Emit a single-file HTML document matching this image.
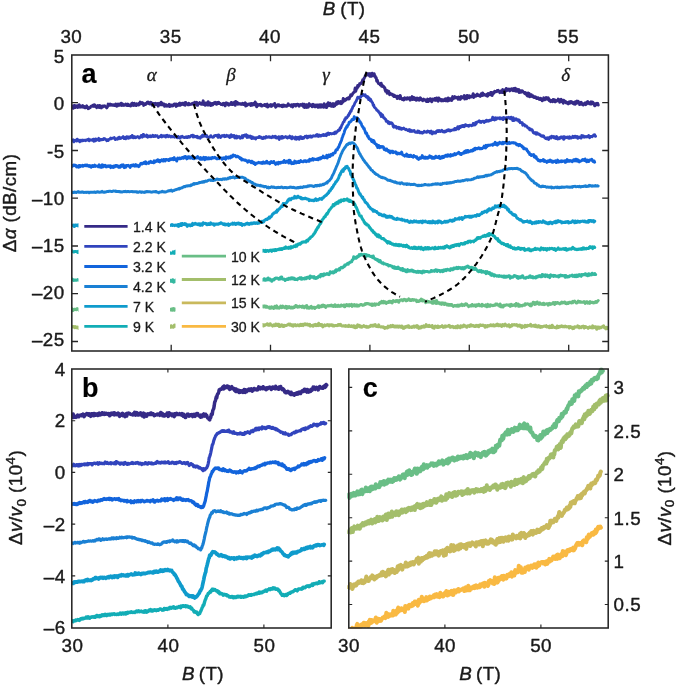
<!DOCTYPE html>
<html lang="en"><head><meta charset="utf-8"><title>Figure</title>
<style>html,body{margin:0;padding:0;background:#fff}svg{display:block}text{font-family:"Liberation Sans",Arial,Helvetica,sans-serif;fill:#1a1a1a;stroke:#1a1a1a;stroke-width:0.4px;stroke-linejoin:round}.t{font-size:18.8px;letter-spacing:0.45px}.l{font-size:14.1px;stroke-width:0.3px}.g{font-family:"Liberation Serif","DejaVu Serif",serif;font-style:italic;font-size:19px;stroke-width:0.3px}.p{font-weight:bold;font-size:27px;fill:#000;stroke-width:0.2px}.c{fill:none;stroke-linejoin:round;stroke-linecap:round}.f{fill:none;stroke:#262626;stroke-width:1.55}.d{fill:none;stroke:#000;stroke-width:2.1;stroke-dasharray:5.2 4.1}</style></head><body>
<svg width="677" height="685" viewBox="0 0 677 685">
<rect width="677" height="685" fill="#fff"/>
<defs><clipPath id="ca"><rect x="71.8" y="55.0" width="536.6" height="296.0"/></clipPath><clipPath id="cb"><rect x="71.8" y="369.0" width="259.4" height="259.0"/></clipPath><clipPath id="cc"><rect x="347.3" y="367.5" width="262.40000000000003" height="261.0"/></clipPath></defs>
<g clip-path="url(#ca)">
<path class="c" stroke="#a3be6b" stroke-width="3.0" d="M71.7,327.2 72.2,327.0 72.7,326.6 73.2,326.9 73.7,326.6 74.2,327.0 74.7,327.7 75.2,326.6 75.7,326.9 76.2,327.4 76.7,327.7 77.2,327.8 77.7,327.0 78.2,327.7 78.7,328.5 79.2,327.4 79.7,327.8 80.2,327.1 80.7,327.1 81.2,326.5 81.7,327.5 82.2,326.9 82.7,327.4 83.2,327.2 83.7,326.8 84.2,325.5 84.7,326.6 85.2,326.9 85.7,327.1 86.2,326.2 86.7,326.9 87.2,326.7 87.7,327.0 88.2,328.0 88.7,327.0 89.2,327.6 89.7,327.8 90.2,327.1 90.7,327.3 91.2,327.3 91.7,327.2 92.2,326.4 92.7,327.2 93.2,327.7 93.7,326.4 94.2,327.4 94.7,326.7 95.2,326.3 95.7,327.5 96.2,326.9 96.7,326.0 97.2,326.8 97.7,326.8 98.2,326.4 98.7,327.4 99.2,327.1 99.7,327.8 100.2,328.3 100.7,327.3 101.2,327.9 101.7,327.7 102.2,328.2 102.7,327.3 103.2,327.5 103.7,327.6 104.2,328.1 104.7,327.7 105.2,326.2 105.7,326.5 106.2,327.5 106.7,325.9 107.2,326.8 107.7,327.1 108.2,327.9 108.7,327.8 109.2,327.2 109.7,327.1 110.2,326.6 110.7,327.6 111.2,326.6 111.7,326.7 112.2,326.8 112.7,326.4 113.2,326.4 113.7,326.1 114.2,326.8 114.7,326.7 115.2,327.2 115.7,326.8 116.2,326.8 116.7,326.9 117.2,326.3 117.7,327.0 118.2,326.5 118.7,326.7 119.2,325.9 119.7,326.9 120.2,325.6 120.7,325.4 121.2,326.4 121.7,325.9 122.2,326.5 122.7,327.8 123.2,326.2 123.7,326.4 124.2,326.8 124.7,327.3 125.2,327.1 125.7,327.3 126.2,328.1 126.7,327.9 127.2,327.0 127.7,327.5 128.2,327.4 128.7,326.7 129.2,327.2 129.7,326.4 130.2,327.0 130.7,326.4 131.2,326.4 131.7,326.0 132.2,326.6 132.7,325.5 133.2,326.0 133.7,326.7 134.2,325.6 134.7,327.4 135.2,326.0 135.7,327.5 136.2,326.5 136.7,327.2 137.2,326.7 137.7,325.7 138.2,327.0 138.7,327.3 139.2,326.4 139.7,325.9 140.2,326.0 140.7,325.9 141.2,327.1 141.7,326.3 142.2,326.7 142.7,326.1 143.2,326.2 143.7,326.2 144.2,327.7 144.7,326.9 145.2,327.7 145.7,327.4 146.2,326.8 146.7,326.9 147.2,326.7 147.7,326.8 148.2,326.6 148.7,326.4 149.2,325.5 149.7,325.9 150.2,327.5 150.7,326.3 151.2,326.2 151.7,327.1 152.2,327.6 152.7,325.7 153.2,326.4 153.7,326.0 154.2,325.1 154.7,326.5 155.2,326.1 155.7,325.9 156.2,325.2 156.7,326.5 157.2,326.0 157.7,326.1 158.2,325.7 158.7,325.6 159.2,326.8 159.7,325.9 160.2,326.4 160.7,325.9 161.2,325.7 161.7,325.9 162.2,326.4 162.7,325.9 163.2,326.1 163.7,326.4 164.2,327.0 164.7,327.0 165.2,326.8 165.7,326.2 166.2,325.9 166.7,327.2 167.2,327.4 167.7,326.5 168.2,326.9 168.7,326.7 169.2,326.8 169.7,327.0 170.2,326.3 170.7,327.3 171.2,325.7 171.7,327.0 172.2,326.9 172.7,327.0 173.2,327.3 173.7,326.9 174.2,325.4 174.7,325.0 175.2,326.3 175.7,325.2 176.2,326.0 176.7,326.8 177.2,325.5 177.7,325.4 178.2,326.5 178.7,326.5 179.2,326.1 179.7,326.2 180.2,325.7 180.7,325.0 181.2,325.8 181.7,325.2 182.2,324.8 182.7,326.1 183.2,325.9 183.7,326.2 184.2,325.0 184.7,325.6 185.2,325.3 185.7,325.5 186.2,326.1 186.7,325.1 187.2,325.6 187.7,325.6 188.2,326.9 188.7,324.9 189.2,326.3 189.7,325.5 190.2,325.7 190.7,325.4 191.2,326.1 191.7,326.7 192.2,325.8 192.7,326.0 193.2,326.1 193.7,327.1 194.2,326.5 194.7,325.1 195.2,325.8 195.7,325.3 196.2,324.6 196.7,326.0 197.2,326.7 197.7,326.0 198.2,325.2 198.7,325.3 199.2,326.5 199.7,325.6 200.2,325.7 200.7,325.6 201.2,325.4 201.7,325.5 202.2,325.3 202.7,324.8 203.2,324.0 203.7,324.8 204.2,324.2 204.7,325.3 205.2,324.4 205.7,325.0 206.2,325.1 206.7,324.7 207.2,326.5 207.7,326.5 208.2,325.7 208.7,326.2 209.2,325.6 209.7,324.0 210.2,325.7 210.7,325.4 211.2,325.4 211.7,324.6 212.2,324.9 212.7,325.1 213.2,325.9 213.7,325.7 214.2,325.5 214.7,326.1 215.2,325.1 215.7,325.3 216.2,324.4 216.7,325.9 217.2,325.6 217.7,325.6 218.2,325.6 218.7,325.2 219.2,325.7 219.7,325.2 220.2,325.4 220.7,326.0 221.2,326.9 221.7,326.3 222.2,325.6 222.7,325.7 223.2,325.2 223.7,326.3 224.2,325.9 224.7,325.6 225.2,325.5 225.7,324.9 226.2,325.8 226.7,326.5 227.2,326.1 227.7,326.5 228.2,325.9 228.7,326.0 229.2,324.5 229.7,325.2 230.2,324.6 230.7,325.2 231.2,324.1 231.7,324.8 232.2,325.7 232.7,324.9 233.2,325.0 233.7,325.8 234.2,325.6 234.7,325.1 235.2,326.1 235.7,326.8 236.2,325.2 236.7,324.9 237.2,324.5 237.7,325.3 238.2,324.4 238.7,324.5 239.2,325.6 239.7,324.4 240.2,325.4 240.7,326.0 241.2,325.6 241.7,325.6 242.2,326.3 242.7,325.2 243.2,325.0 243.7,324.9 244.2,325.8 244.7,326.5 245.2,325.9 245.7,324.8 246.2,324.8 246.7,324.7 247.2,325.1 247.7,324.6 248.2,324.7 248.7,324.6 249.2,324.2 249.7,324.5 250.2,324.5 250.7,324.4 251.2,324.7 251.7,325.7 252.2,325.2 252.7,325.2 253.2,324.2 253.7,325.4 254.2,324.1 254.7,324.7 255.2,326.0 255.7,325.4 256.2,325.1 256.7,324.3 257.2,325.0 257.7,324.6 258.2,325.5 258.7,326.2 259.2,325.0 259.7,324.7 260.2,324.2 260.7,324.7 261.2,324.9 261.7,324.3 262.2,325.4 262.7,324.6 263.2,326.0 263.7,325.8 264.2,325.6 264.7,324.9 265.2,325.2 265.7,324.9 266.2,324.4 266.7,324.4 267.2,323.8 267.7,323.9 268.2,325.2 268.7,324.6 269.2,325.1 269.7,325.3 270.2,323.7 270.7,324.4 271.2,325.0 271.7,325.3 272.2,325.3 272.7,326.1 273.2,325.5 273.7,324.8 274.2,325.0 274.7,325.8 275.2,325.5 275.7,324.0 276.2,325.4 276.7,324.9 277.2,325.3 277.7,324.3 278.2,324.3 278.7,324.2 279.2,326.4 279.7,325.2 280.2,326.4 280.7,325.2 281.2,325.7 281.7,324.8 282.2,326.0 282.7,326.4 283.2,325.3 283.7,326.5 284.2,326.1 284.7,325.2 285.2,325.7 285.7,325.6 286.2,325.5 286.7,325.3 287.2,324.9 287.7,324.8 288.2,324.4 288.7,324.1 289.2,324.7 289.7,325.1 290.2,324.0 290.7,325.1 291.2,324.9 291.7,324.8 292.2,325.8 292.7,325.1 293.2,326.2 293.7,324.9 294.2,325.4 294.7,325.3 295.2,324.7 295.7,325.6 296.2,325.2 296.7,325.6 297.2,325.3 297.7,324.8 298.2,325.3 298.7,325.2 299.2,325.9 299.7,324.7 300.2,325.1 300.7,324.2 301.2,325.5 301.7,324.6 302.2,324.3 302.7,324.9 303.2,325.6 303.7,324.2 304.2,324.1 304.7,324.4 305.2,323.8 305.7,324.7 306.2,324.1 306.7,324.2 307.2,324.7 307.7,324.1 308.2,325.2 308.7,324.6 309.2,324.7 309.7,324.3 310.2,326.1 310.7,325.2 311.2,325.8 311.7,325.5 312.2,325.6 312.7,325.3 313.2,326.2 313.7,325.0 314.2,324.7 314.7,324.7 315.2,324.3 315.7,325.6 316.2,325.7 316.7,324.8 317.2,324.5 317.7,324.9 318.2,325.6 318.7,323.3 319.2,325.3 319.7,324.3 320.2,325.4 320.7,324.5 321.2,325.1 321.7,324.5 322.2,325.3 322.7,326.9 323.2,326.4 323.7,325.9 324.2,325.7 324.7,324.9 325.2,325.6 325.7,325.8 326.2,325.3 326.7,325.2 327.2,324.6 327.7,325.1 328.2,324.8 328.7,325.7 329.2,326.0 329.7,324.9 330.2,324.7 330.7,325.2 331.2,324.8 331.7,324.8 332.2,325.6 332.7,325.0 333.2,325.9 333.7,325.6 334.2,326.0 334.7,325.6 335.2,325.5 335.7,325.6 336.2,325.5 336.7,325.4 337.2,325.7 337.7,325.3 338.2,324.5 338.7,325.3 339.2,324.5 339.7,324.7 340.2,325.2 340.7,324.4 341.2,325.6 341.7,325.8 342.2,326.0 342.7,326.0 343.2,325.9 343.7,325.7 344.2,326.0 344.7,325.8 345.2,326.4 345.7,325.6 346.2,326.1 346.7,326.2 347.2,326.1 347.7,326.0 348.2,326.5 348.7,325.2 349.2,326.2 349.7,326.4 350.2,326.5 350.7,326.3 351.2,325.7 351.7,325.9 352.2,326.7 352.7,326.7 353.2,326.9 353.7,325.7 354.2,327.1 354.7,327.6 355.2,327.7 355.7,327.1 356.2,326.0 356.7,327.4 357.2,326.5 357.7,324.9 358.2,326.4 358.7,325.3 359.2,325.3 359.7,325.8 360.2,326.9 360.7,326.0 361.2,326.3 361.7,327.2 362.2,327.1 362.7,326.2 363.2,326.2 363.7,325.6 364.2,325.8 364.7,326.4 365.2,326.7 365.7,326.5 366.2,327.2 366.7,326.3 367.2,326.7 367.7,327.3 368.2,327.2 368.7,327.2 369.2,326.5 369.7,326.2 370.2,326.4 370.7,325.4 371.2,325.2 371.7,326.0 372.2,325.9 372.7,326.1 373.2,325.1 373.7,325.9 374.2,325.6 374.7,325.4 375.2,324.5 375.7,325.8 376.2,326.5 376.7,326.5 377.2,325.9 377.7,326.1 378.2,326.6 378.7,324.9 379.2,326.2 379.7,326.7 380.2,326.7 380.7,327.1 381.2,326.9 381.7,326.7 382.2,326.9 382.7,327.2 383.2,326.8 383.7,327.1 384.2,327.8 384.7,328.5 385.2,327.4 385.7,327.4 386.2,327.5 386.7,327.9 387.2,327.1 387.7,327.8 388.2,326.1 388.7,326.7 389.2,326.5 389.7,327.1 390.2,326.9 390.7,325.6 391.2,326.1 391.7,326.6 392.2,326.2 392.7,325.3 393.2,326.8 393.7,326.4 394.2,326.8 394.7,326.0 395.2,326.8 395.7,326.2 396.2,327.0 396.7,326.1 397.2,326.0 397.7,326.9 398.2,326.2 398.7,327.1 399.2,326.8 399.7,326.0 400.2,326.6 400.7,326.7 401.2,327.4 401.7,326.0 402.2,326.4 402.7,327.6 403.2,328.3 403.7,328.4 404.2,327.1 404.7,326.9 405.2,327.6 405.7,326.7 406.2,326.2 406.7,326.6 407.2,326.9 407.7,326.1 408.2,325.7 408.7,325.9 409.2,327.5 409.7,327.0 410.2,327.0 410.7,327.3 411.2,327.4 411.7,326.8 412.2,327.3 412.7,326.5 413.2,326.6 413.7,326.0 414.2,327.3 414.7,326.6 415.2,326.0 415.7,326.3 416.2,326.6 416.7,327.1 417.2,325.6 417.7,326.1 418.2,326.7 418.7,328.4 419.2,327.6 419.7,327.0 420.2,327.1 420.7,327.9 421.2,326.7 421.7,326.3 422.2,327.2 422.7,326.6 423.2,326.6 423.7,325.8 424.2,327.1 424.7,326.7 425.2,326.2 425.7,326.6 426.2,324.6 426.7,326.3 427.2,325.7 427.7,326.1 428.2,326.5 428.7,326.1 429.2,325.2 429.7,326.5 430.2,326.1 430.7,326.3 431.2,326.3 431.7,326.8 432.2,325.5 432.7,327.6 433.2,327.2 433.7,327.6 434.2,328.1 434.7,326.9 435.2,326.1 435.7,326.5 436.2,326.4 436.7,326.9 437.2,327.4 437.7,326.0 438.2,327.5 438.7,326.4 439.2,327.2 439.7,327.1 440.2,326.9 440.7,326.7 441.2,326.4 441.7,326.5 442.2,325.7 442.7,326.8 443.2,327.4 443.7,327.3 444.2,326.9 444.7,326.6 445.2,325.9 445.7,326.9 446.2,326.2 446.7,326.1 447.2,326.2 447.7,326.2 448.2,325.8 448.7,326.1 449.2,325.4 449.7,325.9 450.2,327.4 450.7,326.3 451.2,326.5 451.7,327.0 452.2,327.1 452.7,326.2 453.2,326.9 453.7,327.6 454.2,327.1 454.7,327.0 455.2,327.7 455.7,326.6 456.2,327.2 456.7,326.8 457.2,327.8 457.7,325.8 458.2,326.6 458.7,326.5 459.2,327.2 459.7,327.1 460.2,327.6 460.7,325.8 461.2,327.0 461.7,326.7 462.2,326.3 462.7,326.9 463.2,325.7 463.7,325.0 464.2,326.1 464.7,325.5 465.2,326.1 465.7,326.3 466.2,326.3 466.7,327.3 467.2,326.6 467.7,325.8 468.2,326.0 468.7,325.9 469.2,325.5 469.7,326.5 470.2,325.8 470.7,324.7 471.2,326.0 471.7,325.7 472.2,325.8 472.7,325.4 473.2,326.0 473.7,325.7 474.2,326.6 474.7,326.6 475.2,326.4 475.7,326.4 476.2,325.4 476.7,326.3 477.2,326.0 477.7,326.2 478.2,325.4 478.7,326.8 479.2,326.0 479.7,325.1 480.2,324.9 480.7,325.6 481.2,325.6 481.7,325.3 482.2,325.5 482.7,325.0 483.2,325.6 483.7,325.2 484.2,325.7 484.7,326.4 485.2,327.3 485.7,325.6 486.2,326.0 486.7,325.8 487.2,326.8 487.7,325.5 488.2,325.9 488.7,326.1 489.2,325.8 489.7,325.4 490.2,325.7 490.7,324.7 491.2,325.2 491.7,325.7 492.2,325.8 492.7,325.7 493.2,324.7 493.7,325.4 494.2,326.0 494.7,325.8 495.2,325.2 495.7,324.8 496.2,325.6 496.7,324.7 497.2,324.1 497.7,324.4 498.2,325.7 498.7,325.4 499.2,325.7 499.7,324.8 500.2,325.5 500.7,324.8 501.2,325.0 501.7,326.5 502.2,325.4 502.7,324.6 503.2,325.1 503.7,325.3 504.2,325.9 504.7,324.9 505.2,324.1 505.7,325.0 506.2,325.3 506.7,325.3 507.2,326.1 507.7,325.7 508.2,325.8 508.7,324.7 509.2,326.2 509.7,327.0 510.2,326.1 510.7,325.7 511.2,325.4 511.7,326.1 512.2,324.6 512.7,325.1 513.2,325.1 513.7,324.9 514.2,324.5 514.7,325.0 515.2,324.7 515.7,325.1 516.2,325.3 516.7,324.7 517.2,325.5 517.7,326.1 518.2,325.2 518.7,325.8 519.2,326.2 519.7,325.1 520.2,325.8 520.7,325.3 521.2,326.7 521.7,327.7 522.2,327.2 522.7,325.9 523.2,326.4 523.7,326.2 524.2,326.1 524.7,327.2 525.2,325.4 525.7,326.3 526.2,325.7 526.7,326.5 527.2,325.9 527.7,325.3 528.2,325.7 528.7,325.7 529.2,325.3 529.7,325.7 530.2,325.4 530.7,324.4 531.2,326.2 531.7,326.1 532.2,325.7 532.7,325.7 533.2,326.1 533.7,325.4 534.2,325.3 534.7,325.6 535.2,326.5 535.7,325.1 536.2,326.8 536.7,325.9 537.2,325.9 537.7,327.0 538.2,326.0 538.7,325.6 539.2,326.3 539.7,327.2 540.2,327.4 540.7,326.3 541.2,326.7 541.7,327.1 542.2,326.6 542.7,326.8 543.2,326.5 543.7,326.4 544.2,326.1 544.7,326.3 545.2,326.4 545.7,326.0 546.2,325.7 546.7,326.9 547.2,326.3 547.7,326.5 548.2,327.1 548.7,326.9 549.2,327.7 549.7,326.1 550.2,327.2 550.7,326.4 551.2,327.6 551.7,327.6 552.2,325.2 552.7,326.0 553.2,327.1 553.7,327.3 554.2,327.4 554.7,327.2 555.2,327.6 555.7,327.8 556.2,327.7 556.7,328.0 557.2,326.0 557.7,327.3 558.2,326.3 558.7,327.4 559.2,326.8 559.7,326.3 560.2,326.8 560.7,326.2 561.2,326.1 561.7,325.8 562.2,326.7 562.7,326.7 563.2,326.8 563.7,326.3 564.2,326.9 564.7,326.2 565.2,326.1 565.7,326.8 566.2,326.9 566.7,326.6 567.2,326.7 567.7,326.7 568.2,326.8 568.7,326.5 569.2,328.0 569.7,326.9 570.2,327.5 570.7,326.7 571.2,327.4 571.7,327.7 572.2,327.3 572.7,328.6 573.2,327.3 573.7,328.5 574.2,328.0 574.7,326.7 575.2,326.8 575.7,327.0 576.2,327.1 576.7,327.0 577.2,327.0 577.7,325.9 578.2,327.1 578.7,326.3 579.2,327.9 579.7,327.4 580.2,327.1 580.7,327.4 581.2,327.7 581.7,326.6 582.2,326.4 582.7,326.6 583.2,326.1 583.7,326.7 584.2,328.1 584.7,326.6 585.2,327.5 585.7,326.6 586.2,327.4 586.7,327.3 587.2,327.4 587.7,327.6 588.2,328.3 588.7,327.3 589.2,327.4 589.7,326.8 590.2,327.5 590.7,327.2 591.2,327.7 591.7,326.9 592.2,327.9 592.7,325.9 593.2,326.9 593.7,327.8 594.2,327.1 594.7,326.7 595.2,326.9 595.7,326.7 596.2,327.6 596.7,329.3 597.2,328.3 597.7,326.9 598.2,327.0 598.7,327.3 599.2,328.3 599.7,327.3 600.2,327.2 600.7,327.8 601.2,327.8 601.7,326.9 602.2,326.8 602.7,326.4 603.2,326.8 603.7,325.9 604.2,327.7 604.7,327.1 605.2,328.0 605.7,328.8 606.2,328.4 606.7,327.4 607.2,328.7 607.7,328.5 608.2,327.6"/>
<path class="c" stroke="#69be86" stroke-width="3.0" d="M71.7,310.0 72.2,308.9 72.7,310.6 73.2,310.1 73.7,310.0 74.2,309.3 74.7,309.3 75.2,309.2 75.7,309.6 76.2,309.7 76.7,309.4 77.2,308.7 77.7,309.2 78.2,309.1 78.7,309.7 79.2,310.5 79.7,309.8 80.2,309.7 80.7,309.1 81.2,309.1 81.7,309.1 82.2,310.3 82.7,309.9 83.2,310.6 83.7,310.3 84.2,310.6 84.7,311.1 85.2,309.9 85.7,309.6 86.2,309.5 86.7,310.2 87.2,309.0 87.7,309.0 88.2,308.9 88.7,309.0 89.2,310.0 89.7,311.6 90.2,309.8 90.7,310.9 91.2,310.3 91.7,309.5 92.2,309.9 92.7,310.0 93.2,310.0 93.7,311.1 94.2,308.9 94.7,310.0 95.2,310.4 95.7,310.0 96.2,310.5 96.7,310.8 97.2,309.9 97.7,310.1 98.2,310.1 98.7,308.5 99.2,310.4 99.7,311.1 100.2,310.2 100.7,310.2 101.2,309.1 101.7,309.8 102.2,309.8 102.7,310.1 103.2,310.8 103.7,309.6 104.2,309.6 104.7,308.7 105.2,309.5 105.7,309.8 106.2,309.2 106.7,309.0 107.2,310.3 107.7,308.9 108.2,309.1 108.7,309.2 109.2,310.5 109.7,310.8 110.2,309.8 110.7,309.4 111.2,309.9 111.7,310.2 112.2,309.2 112.7,310.7 113.2,310.7 113.7,310.0 114.2,310.3 114.7,310.5 115.2,310.6 115.7,309.4 116.2,310.6 116.7,309.8 117.2,309.6 117.7,310.2 118.2,310.1 118.7,309.5 119.2,309.3 119.7,309.5 120.2,310.7 120.7,310.8 121.2,310.1 121.7,310.2 122.2,309.1 122.7,309.3 123.2,309.6 123.7,308.7 124.2,309.2 124.7,309.9 125.2,309.6 125.7,309.5 126.2,310.5 126.7,310.0 127.2,310.9 127.7,310.5 128.2,310.0 128.7,310.4 129.2,310.1 129.7,309.6 130.2,309.8 130.7,310.9 131.2,310.4 131.7,310.9 132.2,309.3 132.7,309.9 133.2,309.9 133.7,310.3 134.2,309.9 134.7,309.6 135.2,310.6 135.7,310.4 136.2,309.6 136.7,311.0 137.2,310.9 137.7,309.9 138.2,310.7 138.7,309.7 139.2,310.6 139.7,309.5 140.2,309.4 140.7,309.9 141.2,309.8 141.7,310.4 142.2,310.3 142.7,310.5 143.2,310.2 143.7,308.6 144.2,310.4 144.7,309.0 145.2,310.1 145.7,310.6 146.2,310.0 146.7,309.6 147.2,309.6 147.7,309.8 148.2,309.6 148.7,309.7 149.2,309.5 149.7,310.7 150.2,310.1 150.7,310.5 151.2,309.9 151.7,310.0 152.2,309.6 152.7,309.8 153.2,309.9 153.7,309.7 154.2,308.9 154.7,308.6 155.2,309.7 155.7,308.8 156.2,308.8 156.7,309.8 157.2,309.7 157.7,308.9 158.2,308.7 158.7,310.4 159.2,309.6 159.7,309.5 160.2,309.3 160.7,308.6 161.2,308.6 161.7,309.9 162.2,310.2 162.7,309.8 163.2,309.3 163.7,309.0 164.2,309.5 164.7,309.1 165.2,310.3 165.7,310.2 166.2,310.8 166.7,309.6 167.2,309.1 167.7,308.6 168.2,307.4 168.7,308.8 169.2,309.1 169.7,309.7 170.2,309.6 170.7,309.9 171.2,309.2 171.7,309.6 172.2,310.1 172.7,308.8 173.2,309.3 173.7,308.5 174.2,310.3 174.7,309.9 175.2,309.9 175.7,309.0 176.2,309.6 176.7,309.0 177.2,309.5 177.7,309.9 178.2,309.7 178.7,309.1 179.2,309.9 179.7,309.5 180.2,309.0 180.7,309.2 181.2,308.7 181.7,309.2 182.2,308.8 182.7,309.2 183.2,308.5 183.7,308.0 184.2,309.4 184.7,308.2 185.2,309.2 185.7,309.2 186.2,308.2 186.7,308.6 187.2,309.0 187.7,308.8 188.2,308.9 188.7,310.1 189.2,309.8 189.7,310.2 190.2,309.6 190.7,310.0 191.2,309.4 191.7,309.8 192.2,310.0 192.7,309.4 193.2,308.5 193.7,308.0 194.2,308.8 194.7,309.1 195.2,308.4 195.7,308.2 196.2,308.9 196.7,310.2 197.2,309.0 197.7,309.2 198.2,309.0 198.7,306.9 199.2,308.4 199.7,307.5 200.2,308.8 200.7,307.8 201.2,307.6 201.7,308.1 202.2,308.3 202.7,308.2 203.2,308.6 203.7,308.2 204.2,308.8 204.7,309.2 205.2,309.7 205.7,308.9 206.2,308.7 206.7,309.3 207.2,309.5 207.7,309.7 208.2,309.3 208.7,308.4 209.2,308.6 209.7,308.5 210.2,308.2 210.7,308.1 211.2,307.4 211.7,306.6 212.2,307.3 212.7,306.8 213.2,308.0 213.7,307.8 214.2,307.2 214.7,308.7 215.2,308.7 215.7,308.5 216.2,309.4 216.7,309.4 217.2,307.6 217.7,309.1 218.2,308.7 218.7,308.4 219.2,308.8 219.7,308.0 220.2,307.9 220.7,307.7 221.2,307.5 221.7,308.0 222.2,307.5 222.7,307.7 223.2,308.3 223.7,307.6 224.2,308.1 224.7,307.0 225.2,307.7 225.7,307.7 226.2,308.0 226.7,307.6 227.2,308.4 227.7,307.7 228.2,307.6 228.7,307.6 229.2,308.1 229.7,307.3 230.2,308.0 230.7,307.7 231.2,307.7 231.7,307.9 232.2,308.1 232.7,308.2 233.2,308.2 233.7,307.8 234.2,308.0 234.7,307.4 235.2,308.2 235.7,307.5 236.2,306.7 236.7,308.7 237.2,307.9 237.7,307.1 238.2,307.8 238.7,307.6 239.2,309.1 239.7,308.3 240.2,307.1 240.7,308.2 241.2,307.7 241.7,309.2 242.2,307.7 242.7,306.9 243.2,308.2 243.7,307.9 244.2,307.6 244.7,306.6 245.2,307.9 245.7,308.7 246.2,306.3 246.7,307.9 247.2,307.2 247.7,308.7 248.2,307.6 248.7,307.3 249.2,308.3 249.7,307.8 250.2,307.6 250.7,308.4 251.2,307.3 251.7,307.1 252.2,309.3 252.7,307.9 253.2,307.5 253.7,308.1 254.2,307.0 254.7,307.2 255.2,307.8 255.7,307.1 256.2,307.4 256.7,308.0 257.2,307.2 257.7,307.4 258.2,307.3 258.7,306.2 259.2,306.9 259.7,306.2 260.2,307.2 260.7,306.9 261.2,306.6 261.7,305.9 262.2,306.7 262.7,306.4 263.2,306.9 263.7,306.6 264.2,305.9 264.7,306.8 265.2,307.0 265.7,306.2 266.2,307.3 266.7,306.3 267.2,306.9 267.7,307.3 268.2,307.3 268.7,307.3 269.2,307.1 269.7,308.3 270.2,308.3 270.7,307.4 271.2,308.1 271.7,306.9 272.2,307.1 272.7,307.5 273.2,307.5 273.7,308.4 274.2,307.3 274.7,306.4 275.2,307.9 275.7,307.3 276.2,307.3 276.7,305.9 277.2,308.1 277.7,307.7 278.2,307.8 278.7,307.9 279.2,308.2 279.7,307.0 280.2,307.2 280.7,306.1 281.2,306.3 281.7,307.7 282.2,307.1 282.7,306.1 283.2,307.2 283.7,306.8 284.2,307.0 284.7,307.7 285.2,307.0 285.7,306.3 286.2,306.9 286.7,308.4 287.2,306.6 287.7,307.7 288.2,307.8 288.7,307.7 289.2,306.6 289.7,307.0 290.2,307.1 290.7,308.0 291.2,307.2 291.7,307.1 292.2,308.0 292.7,308.1 293.2,307.8 293.7,307.1 294.2,307.5 294.7,306.6 295.2,306.8 295.7,305.5 296.2,306.7 296.7,306.7 297.2,306.1 297.7,307.1 298.2,306.8 298.7,306.9 299.2,307.0 299.7,306.2 300.2,306.6 300.7,306.6 301.2,306.6 301.7,307.1 302.2,306.1 302.7,306.0 303.2,307.2 303.7,307.0 304.2,307.8 304.7,307.3 305.2,306.3 305.7,306.9 306.2,306.1 306.7,305.5 307.2,308.1 307.7,307.0 308.2,307.3 308.7,307.3 309.2,308.2 309.7,307.7 310.2,307.8 310.7,306.6 311.2,306.4 311.7,308.1 312.2,308.2 312.7,307.7 313.2,307.5 313.7,307.4 314.2,307.2 314.7,308.5 315.2,307.9 315.7,307.5 316.2,307.3 316.7,307.2 317.2,306.9 317.7,306.8 318.2,305.7 318.7,306.5 319.2,307.5 319.7,305.9 320.2,305.9 320.7,306.8 321.2,306.7 321.7,306.7 322.2,305.2 322.7,306.2 323.2,305.1 323.7,305.6 324.2,306.3 324.7,305.7 325.2,306.3 325.7,307.4 326.2,306.2 326.7,306.4 327.2,305.8 327.7,305.6 328.2,305.7 328.7,306.0 329.2,305.5 329.7,305.6 330.2,305.9 330.7,305.5 331.2,305.0 331.7,305.4 332.2,306.2 332.7,305.7 333.2,306.1 333.7,306.4 334.2,305.4 334.7,306.1 335.2,304.9 335.7,306.5 336.2,306.2 336.7,305.8 337.2,305.8 337.7,306.4 338.2,305.2 338.7,305.7 339.2,306.4 339.7,306.0 340.2,305.5 340.7,306.2 341.2,305.0 341.7,305.8 342.2,305.6 342.7,305.5 343.2,305.9 343.7,305.1 344.2,306.6 344.7,305.3 345.2,306.6 345.7,305.0 346.2,305.6 346.7,304.6 347.2,304.9 347.7,305.7 348.2,305.8 348.7,304.7 349.2,306.0 349.7,304.7 350.2,305.3 350.7,305.2 351.2,305.5 351.7,304.3 352.2,306.4 352.7,305.9 353.2,305.3 353.7,305.2 354.2,304.5 354.7,305.0 355.2,306.0 355.7,305.7 356.2,305.0 356.7,304.8 357.2,306.2 357.7,305.2 358.2,305.3 358.7,306.0 359.2,305.6 359.7,305.2 360.2,304.6 360.7,304.5 361.2,304.4 361.7,304.6 362.2,305.0 362.7,305.4 363.2,305.3 363.7,304.7 364.2,305.0 364.7,304.2 365.2,303.6 365.7,304.3 366.2,303.7 366.7,303.5 367.2,303.7 367.7,303.5 368.2,303.7 368.7,304.0 369.2,304.1 369.7,304.0 370.2,304.6 370.7,304.3 371.2,304.1 371.7,304.6 372.2,305.5 372.7,304.1 373.2,305.1 373.7,304.8 374.2,304.9 374.7,303.8 375.2,305.3 375.7,304.3 376.2,304.0 376.7,304.0 377.2,304.3 377.7,304.2 378.2,304.1 378.7,304.5 379.2,303.2 379.7,302.6 380.2,303.2 380.7,302.9 381.2,302.9 381.7,301.4 382.2,302.6 382.7,302.3 383.2,302.8 383.7,301.4 384.2,302.6 384.7,302.3 385.2,301.9 385.7,302.6 386.2,303.4 386.7,302.5 387.2,302.1 387.7,302.6 388.2,302.4 388.7,302.5 389.2,301.2 389.7,301.4 390.2,302.1 390.7,301.3 391.2,301.5 391.7,302.6 392.2,302.9 392.7,301.2 393.2,300.5 393.7,301.0 394.2,300.9 394.7,301.4 395.2,301.6 395.7,300.8 396.2,300.5 396.7,301.3 397.2,300.5 397.7,301.2 398.2,300.8 398.7,302.3 399.2,301.1 399.7,300.3 400.2,300.3 400.7,300.1 401.2,299.7 401.7,299.8 402.2,299.8 402.7,300.8 403.2,300.3 403.7,300.1 404.2,299.2 404.7,299.5 405.2,299.7 405.7,300.2 406.2,300.9 406.7,299.8 407.2,300.5 407.7,299.9 408.2,299.9 408.7,298.9 409.2,299.4 409.7,300.2 410.2,300.5 410.7,299.8 411.2,300.5 411.7,299.8 412.2,299.7 412.7,299.5 413.2,300.3 413.7,299.8 414.2,299.8 414.7,299.7 415.2,300.2 415.7,300.1 416.2,300.0 416.7,301.6 417.2,300.9 417.7,300.8 418.2,301.4 418.7,301.4 419.2,300.8 419.7,301.1 420.2,300.2 420.7,300.0 421.2,299.1 421.7,300.8 422.2,299.6 422.7,301.0 423.2,300.1 423.7,300.2 424.2,300.7 424.7,300.9 425.2,301.3 425.7,302.6 426.2,301.5 426.7,301.8 427.2,301.1 427.7,301.9 428.2,301.5 428.7,301.7 429.2,302.0 429.7,301.8 430.2,302.0 430.7,302.3 431.2,301.8 431.7,302.1 432.2,303.1 432.7,301.6 433.2,301.9 433.7,303.2 434.2,301.1 434.7,302.1 435.2,302.7 435.7,301.1 436.2,303.5 436.7,300.6 437.2,303.2 437.7,303.3 438.2,303.1 438.7,302.7 439.2,303.3 439.7,302.8 440.2,303.9 440.7,303.2 441.2,303.8 441.7,304.3 442.2,302.9 442.7,303.5 443.2,303.8 443.7,303.2 444.2,304.5 444.7,304.0 445.2,303.2 445.7,304.3 446.2,304.0 446.7,304.0 447.2,304.9 447.7,304.3 448.2,305.1 448.7,304.4 449.2,305.3 449.7,304.6 450.2,305.1 450.7,304.5 451.2,304.4 451.7,304.5 452.2,305.6 452.7,305.8 453.2,306.4 453.7,306.1 454.2,305.7 454.7,305.5 455.2,305.8 455.7,305.5 456.2,306.2 456.7,306.0 457.2,305.2 457.7,305.1 458.2,306.3 458.7,305.5 459.2,305.1 459.7,305.8 460.2,305.0 460.7,305.0 461.2,304.9 461.7,304.2 462.2,305.6 462.7,304.7 463.2,304.9 463.7,304.7 464.2,305.5 464.7,305.0 465.2,304.9 465.7,303.7 466.2,304.7 466.7,304.0 467.2,305.2 467.7,305.4 468.2,305.4 468.7,306.6 469.2,306.0 469.7,306.1 470.2,305.8 470.7,305.4 471.2,306.1 471.7,306.0 472.2,304.5 472.7,305.7 473.2,305.5 473.7,305.9 474.2,305.8 474.7,305.0 475.2,304.9 475.7,306.4 476.2,305.6 476.7,304.7 477.2,305.6 477.7,305.1 478.2,304.6 478.7,304.2 479.2,304.6 479.7,305.8 480.2,305.4 480.7,305.2 481.2,305.8 481.7,306.2 482.2,304.4 482.7,305.6 483.2,305.4 483.7,305.2 484.2,305.8 484.7,305.9 485.2,305.6 485.7,304.9 486.2,305.4 486.7,306.8 487.2,304.7 487.7,304.4 488.2,305.9 488.7,306.3 489.2,306.2 489.7,305.0 490.2,306.2 490.7,304.9 491.2,305.1 491.7,305.2 492.2,305.2 492.7,305.7 493.2,305.4 493.7,305.2 494.2,305.5 494.7,305.0 495.2,305.2 495.7,304.0 496.2,303.9 496.7,304.8 497.2,304.0 497.7,304.9 498.2,305.2 498.7,305.2 499.2,305.3 499.7,306.2 500.2,304.0 500.7,306.1 501.2,306.8 501.7,305.7 502.2,305.7 502.7,306.0 503.2,306.9 503.7,305.2 504.2,305.6 504.7,305.3 505.2,305.5 505.7,305.0 506.2,305.1 506.7,304.7 507.2,305.0 507.7,304.9 508.2,305.0 508.7,305.4 509.2,305.6 509.7,304.8 510.2,306.4 510.7,305.3 511.2,304.4 511.7,305.8 512.2,305.1 512.7,305.5 513.2,305.1 513.7,305.3 514.2,305.2 514.7,304.6 515.2,305.0 515.7,305.9 516.2,303.5 516.7,304.9 517.2,304.8 517.7,304.4 518.2,304.1 518.7,306.3 519.2,304.8 519.7,306.2 520.2,305.5 520.7,305.3 521.2,305.9 521.7,305.5 522.2,305.9 522.7,305.3 523.2,305.0 523.7,304.9 524.2,305.3 524.7,305.2 525.2,303.7 525.7,304.1 526.2,304.4 526.7,304.0 527.2,304.1 527.7,303.8 528.2,304.1 528.7,304.3 529.2,305.0 529.7,304.4 530.2,305.6 530.7,304.0 531.2,305.9 531.7,304.8 532.2,304.4 532.7,303.9 533.2,302.2 533.7,303.4 534.2,303.4 534.7,304.4 535.2,302.6 535.7,304.2 536.2,303.1 536.7,303.5 537.2,302.0 537.7,303.5 538.2,303.2 538.7,304.2 539.2,303.5 539.7,302.8 540.2,304.1 540.7,303.9 541.2,303.8 541.7,304.2 542.2,304.5 542.7,303.8 543.2,303.2 543.7,303.3 544.2,304.6 544.7,304.4 545.2,304.3 545.7,304.0 546.2,303.9 546.7,303.7 547.2,303.9 547.7,303.7 548.2,305.2 548.7,304.3 549.2,303.5 549.7,303.3 550.2,303.7 550.7,304.4 551.2,304.2 551.7,303.8 552.2,303.7 552.7,303.1 553.2,302.5 553.7,303.8 554.2,303.3 554.7,304.5 555.2,302.5 555.7,302.5 556.2,303.4 556.7,302.8 557.2,302.5 557.7,302.7 558.2,303.3 558.7,303.1 559.2,303.2 559.7,303.9 560.2,303.8 560.7,303.2 561.2,302.6 561.7,302.1 562.2,302.4 562.7,303.0 563.2,302.5 563.7,302.6 564.2,302.1 564.7,301.9 565.2,302.3 565.7,303.6 566.2,303.6 566.7,303.7 567.2,302.7 567.7,303.4 568.2,303.5 568.7,303.2 569.2,302.2 569.7,302.3 570.2,302.6 570.7,302.3 571.2,303.0 571.7,302.6 572.2,301.7 572.7,302.8 573.2,301.4 573.7,301.6 574.2,301.5 574.7,301.0 575.2,301.9 575.7,302.2 576.2,303.0 576.7,302.8 577.2,302.8 577.7,302.1 578.2,301.1 578.7,301.9 579.2,301.5 579.7,302.2 580.2,301.6 580.7,302.2 581.2,302.0 581.7,302.2 582.2,302.1 582.7,302.2 583.2,302.1 583.7,302.3 584.2,301.6 584.7,302.2 585.2,303.4 585.7,302.2 586.2,301.9 586.7,301.7 587.2,301.7 587.7,303.1 588.2,302.3 588.7,302.4 589.2,303.3 589.7,303.4 590.2,301.6 590.7,302.6 591.2,302.3 591.7,302.4 592.2,302.4 592.7,302.2 593.2,303.0 593.7,302.5 594.2,302.3 594.7,302.7 595.2,302.2 595.7,301.5 596.2,301.6 596.7,302.3 597.2,301.6 597.7,301.0 598.2,300.5"/>
<path class="c" stroke="#35b8a0" stroke-width="3.0" d="M71.7,280.0 72.2,279.0 72.7,279.8 73.2,279.7 73.7,280.5 74.2,280.1 74.7,279.9 75.2,280.3 75.7,280.0 76.2,280.3 76.7,280.2 77.2,279.8 77.7,279.6 78.2,280.0 78.7,279.9 79.2,280.3 79.7,280.2 80.2,280.0 80.7,279.4 81.2,279.1 81.7,279.9 82.2,280.2 82.7,280.6 83.2,279.9 83.7,280.0 84.2,280.6 84.7,280.0 85.2,280.2 85.7,281.3 86.2,280.9 86.7,280.7 87.2,280.6 87.7,280.0 88.2,280.7 88.7,280.1 89.2,280.0 89.7,279.5 90.2,279.9 90.7,279.9 91.2,280.1 91.7,280.8 92.2,280.2 92.7,279.4 93.2,280.1 93.7,279.6 94.2,280.1 94.7,280.6 95.2,280.3 95.7,279.9 96.2,280.5 96.7,279.8 97.2,279.3 97.7,279.6 98.2,280.1 98.7,281.5 99.2,280.1 99.7,281.3 100.2,281.5 100.7,280.5 101.2,280.6 101.7,279.8 102.2,280.1 102.7,280.4 103.2,280.3 103.7,281.0 104.2,280.9 104.7,280.5 105.2,280.7 105.7,280.7 106.2,280.8 106.7,279.8 107.2,280.5 107.7,280.5 108.2,280.0 108.7,281.7 109.2,279.9 109.7,279.7 110.2,280.3 110.7,279.0 111.2,279.9 111.7,279.1 112.2,279.1 112.7,279.6 113.2,279.9 113.7,280.7 114.2,280.3 114.7,280.8 115.2,280.1 115.7,279.7 116.2,280.7 116.7,279.8 117.2,279.8 117.7,280.8 118.2,280.7 118.7,280.4 119.2,280.6 119.7,280.6 120.2,279.4 120.7,280.1 121.2,279.4 121.7,280.0 122.2,279.6 122.7,280.7 123.2,280.4 123.7,279.7 124.2,280.2 124.7,279.5 125.2,280.3 125.7,280.8 126.2,280.7 126.7,279.3 127.2,280.4 127.7,280.7 128.2,280.5 128.7,281.1 129.2,279.5 129.7,280.6 130.2,279.7 130.7,280.2 131.2,280.0 131.7,280.5 132.2,279.9 132.7,280.3 133.2,279.7 133.7,279.8 134.2,281.0 134.7,280.5 135.2,279.9 135.7,280.5 136.2,281.2 136.7,282.3 137.2,281.9 137.7,281.7 138.2,280.4 138.7,281.5 139.2,281.7 139.7,281.1 140.2,280.9 140.7,280.6 141.2,281.5 141.7,281.2 142.2,280.2 142.7,279.8 143.2,281.7 143.7,280.4 144.2,281.5 144.7,281.7 145.2,280.2 145.7,281.0 146.2,280.9 146.7,281.4 147.2,281.2 147.7,282.0 148.2,281.2 148.7,280.8 149.2,281.6 149.7,280.8 150.2,280.9 150.7,282.2 151.2,280.3 151.7,280.9 152.2,281.1 152.7,280.4 153.2,279.9 153.7,281.8 154.2,280.4 154.7,280.4 155.2,280.6 155.7,280.3 156.2,280.2 156.7,281.1 157.2,282.4 157.7,281.3 158.2,281.3 158.7,280.5 159.2,281.6 159.7,280.9 160.2,282.1 160.7,281.3 161.2,281.2 161.7,281.3 162.2,281.0 162.7,280.3 163.2,281.3 163.7,280.2 164.2,280.2 164.7,280.8 165.2,280.9 165.7,281.3 166.2,281.8 166.7,281.1 167.2,281.0 167.7,281.0 168.2,281.8 168.7,280.3 169.2,281.4 169.7,280.5 170.2,280.3 170.7,281.3 171.2,281.0 171.7,281.4 172.2,281.5 172.7,279.7 173.2,280.8 173.7,282.1 174.2,281.3 174.7,281.7 175.2,281.2 175.7,280.1 176.2,280.4 176.7,281.5 177.2,281.7 177.7,281.0 178.2,281.3 178.7,281.4 179.2,280.4 179.7,281.0 180.2,282.1 180.7,282.2 181.2,281.0 181.7,281.6 182.2,280.5 182.7,280.2 183.2,279.1 183.7,281.1 184.2,280.0 184.7,281.7 185.2,280.4 185.7,280.4 186.2,279.2 186.7,281.2 187.2,280.4 187.7,280.6 188.2,279.6 188.7,281.1 189.2,281.3 189.7,280.6 190.2,281.1 190.7,281.2 191.2,281.1 191.7,280.8 192.2,281.9 192.7,280.9 193.2,280.7 193.7,280.6 194.2,279.2 194.7,280.2 195.2,281.4 195.7,280.6 196.2,279.7 196.7,280.2 197.2,278.9 197.7,279.9 198.2,280.4 198.7,280.3 199.2,279.5 199.7,280.4 200.2,281.0 200.7,279.5 201.2,280.1 201.7,278.8 202.2,278.6 202.7,280.3 203.2,280.0 203.7,280.1 204.2,279.6 204.7,280.0 205.2,280.5 205.7,281.2 206.2,280.0 206.7,279.2 207.2,280.8 207.7,280.6 208.2,280.9 208.7,280.8 209.2,282.1 209.7,280.8 210.2,281.3 210.7,280.1 211.2,280.6 211.7,280.4 212.2,281.0 212.7,281.0 213.2,280.3 213.7,281.5 214.2,279.9 214.7,280.2 215.2,280.4 215.7,279.2 216.2,279.9 216.7,279.7 217.2,279.3 217.7,280.6 218.2,279.7 218.7,280.0 219.2,279.5 219.7,279.3 220.2,279.7 220.7,279.9 221.2,279.8 221.7,280.2 222.2,278.3 222.7,278.7 223.2,278.4 223.7,280.1 224.2,279.2 224.7,279.3 225.2,278.9 225.7,280.0 226.2,279.3 226.7,279.8 227.2,278.5 227.7,280.3 228.2,279.7 228.7,280.1 229.2,280.4 229.7,280.0 230.2,280.0 230.7,280.1 231.2,280.0 231.7,279.6 232.2,279.9 232.7,279.5 233.2,280.2 233.7,280.2 234.2,279.7 234.7,280.8 235.2,278.8 235.7,279.4 236.2,280.2 236.7,278.8 237.2,278.1 237.7,279.8 238.2,279.4 238.7,278.3 239.2,279.3 239.7,278.1 240.2,278.0 240.7,278.7 241.2,278.2 241.7,277.6 242.2,277.9 242.7,277.7 243.2,278.3 243.7,278.4 244.2,279.3 244.7,278.6 245.2,278.3 245.7,278.8 246.2,279.4 246.7,280.4 247.2,280.1 247.7,279.4 248.2,280.1 248.7,279.0 249.2,280.1 249.7,279.3 250.2,279.8 250.7,279.6 251.2,278.9 251.7,279.3 252.2,278.4 252.7,278.9 253.2,279.8 253.7,281.3 254.2,279.2 254.7,279.1 255.2,278.7 255.7,279.8 256.2,278.6 256.7,279.1 257.2,279.7 257.7,279.1 258.2,280.7 258.7,280.6 259.2,279.8 259.7,279.8 260.2,279.4 260.7,279.4 261.2,280.2 261.7,280.3 262.2,280.2 262.7,280.0 263.2,279.3 263.7,279.9 264.2,278.7 264.7,279.3 265.2,280.3 265.7,280.2 266.2,279.0 266.7,279.0 267.2,279.9 267.7,279.8 268.2,278.0 268.7,278.8 269.2,279.4 269.7,280.0 270.2,279.1 270.7,280.1 271.2,279.8 271.7,281.3 272.2,280.3 272.7,279.9 273.2,279.5 273.7,280.0 274.2,279.6 274.7,278.5 275.2,278.8 275.7,278.1 276.2,278.3 276.7,278.0 277.2,278.0 277.7,278.5 278.2,278.4 278.7,279.2 279.2,279.3 279.7,278.4 280.2,277.6 280.7,278.9 281.2,277.0 281.7,277.0 282.2,278.8 282.7,278.7 283.2,279.3 283.7,279.2 284.2,279.1 284.7,279.6 285.2,280.5 285.7,279.6 286.2,279.5 286.7,279.1 287.2,278.9 287.7,279.5 288.2,279.5 288.7,278.2 289.2,278.2 289.7,278.5 290.2,279.0 290.7,278.1 291.2,278.8 291.7,277.7 292.2,277.7 292.7,278.6 293.2,278.9 293.7,278.1 294.2,278.4 294.7,279.5 295.2,279.0 295.7,279.0 296.2,279.6 296.7,279.5 297.2,279.7 297.7,279.1 298.2,278.4 298.7,278.4 299.2,278.5 299.7,277.7 300.2,277.9 300.7,278.9 301.2,277.7 301.7,279.3 302.2,278.9 302.7,278.4 303.2,278.6 303.7,278.5 304.2,279.0 304.7,278.0 305.2,278.1 305.7,277.9 306.2,278.8 306.7,278.2 307.2,277.2 307.7,277.2 308.2,277.1 308.7,277.5 309.2,277.5 309.7,278.5 310.2,276.0 310.7,277.6 311.2,277.0 311.7,276.8 312.2,276.9 312.7,276.8 313.2,277.4 313.7,277.9 314.2,276.6 314.7,278.3 315.2,277.7 315.7,278.5 316.2,277.8 316.7,278.1 317.2,277.4 317.7,277.7 318.2,276.7 318.7,276.1 319.2,276.6 319.7,276.4 320.2,276.8 320.7,274.5 321.2,275.2 321.7,275.6 322.2,274.4 322.7,274.6 323.2,275.8 323.7,275.1 324.2,273.8 324.7,274.8 325.2,274.6 325.7,274.3 326.2,274.0 326.7,274.3 327.2,273.6 327.7,273.8 328.2,274.3 328.7,273.8 329.2,274.6 329.7,273.1 330.2,271.7 330.7,272.6 331.2,272.7 331.7,272.7 332.2,272.4 332.7,271.8 333.2,273.0 333.7,271.8 334.2,272.6 334.7,271.2 335.2,270.5 335.7,271.8 336.2,269.7 336.7,270.4 337.2,270.5 337.7,269.8 338.2,269.9 338.7,269.3 339.2,268.7 339.7,269.9 340.2,268.2 340.7,268.0 341.2,267.3 341.7,267.5 342.2,267.9 342.7,267.8 343.2,267.0 343.7,266.4 344.2,266.7 344.7,265.1 345.2,265.6 345.7,265.0 346.2,264.5 346.7,264.4 347.2,263.9 347.7,263.4 348.2,264.3 348.7,263.2 349.2,263.1 349.7,262.2 350.2,262.4 350.7,262.2 351.2,261.8 351.7,261.8 352.2,259.9 352.7,259.9 353.2,259.3 353.7,256.8 354.2,257.7 354.7,258.1 355.2,258.2 355.7,257.4 356.2,258.1 356.7,257.8 357.2,256.5 357.7,256.9 358.2,256.8 358.7,255.6 359.2,254.6 359.7,255.6 360.2,254.6 360.7,254.4 361.2,254.3 361.7,254.3 362.2,255.1 362.7,255.1 363.2,255.3 363.7,255.1 364.2,254.4 364.7,254.8 365.2,255.3 365.7,254.5 366.2,256.4 366.7,254.9 367.2,254.9 367.7,255.8 368.2,255.7 368.7,255.3 369.2,255.6 369.7,256.2 370.2,256.4 370.7,256.6 371.2,256.3 371.7,257.0 372.2,257.2 372.7,257.6 373.2,256.0 373.7,257.5 374.2,258.0 374.7,258.6 375.2,258.9 375.7,259.4 376.2,259.6 376.7,259.3 377.2,259.4 377.7,260.7 378.2,259.8 378.7,260.5 379.2,261.6 379.7,261.4 380.2,260.5 380.7,262.3 381.2,262.3 381.7,262.9 382.2,263.2 382.7,263.1 383.2,262.9 383.7,263.9 384.2,263.6 384.7,263.7 385.2,263.9 385.7,263.9 386.2,264.3 386.7,264.5 387.2,264.9 387.7,264.6 388.2,264.8 388.7,266.0 389.2,265.2 389.7,265.5 390.2,265.5 390.7,265.9 391.2,266.0 391.7,266.4 392.2,266.2 392.7,267.4 393.2,266.8 393.7,268.0 394.2,266.7 394.7,267.0 395.2,268.4 395.7,267.9 396.2,267.5 396.7,268.4 397.2,267.7 397.7,268.3 398.2,267.1 398.7,268.3 399.2,268.5 399.7,269.0 400.2,269.4 400.7,268.7 401.2,270.0 401.7,269.0 402.2,268.4 402.7,268.5 403.2,270.6 403.7,269.9 404.2,269.8 404.7,269.8 405.2,269.9 405.7,271.5 406.2,270.7 406.7,271.8 407.2,270.8 407.7,269.6 408.2,271.3 408.7,270.6 409.2,270.5 409.7,271.1 410.2,270.4 410.7,270.9 411.2,270.4 411.7,270.0 412.2,270.9 412.7,270.3 413.2,271.6 413.7,271.7 414.2,271.1 414.7,271.7 415.2,271.7 415.7,271.5 416.2,272.3 416.7,271.8 417.2,272.2 417.7,271.2 418.2,271.9 418.7,272.3 419.2,271.5 419.7,271.7 420.2,271.6 420.7,272.3 421.2,271.7 421.7,272.6 422.2,272.9 422.7,272.1 423.2,271.0 423.7,271.9 424.2,272.1 424.7,271.3 425.2,271.8 425.7,271.5 426.2,271.6 426.7,271.4 427.2,271.4 427.7,271.5 428.2,271.8 428.7,272.1 429.2,272.1 429.7,271.9 430.2,271.7 430.7,271.7 431.2,270.5 431.7,271.1 432.2,270.8 432.7,271.1 433.2,271.2 433.7,270.8 434.2,270.5 434.7,271.3 435.2,270.8 435.7,269.7 436.2,270.6 436.7,270.1 437.2,271.5 437.7,270.2 438.2,270.4 438.7,270.5 439.2,270.5 439.7,270.7 440.2,271.6 440.7,270.7 441.2,270.8 441.7,271.1 442.2,270.3 442.7,271.6 443.2,271.1 443.7,271.2 444.2,269.9 444.7,270.4 445.2,270.1 445.7,269.6 446.2,270.7 446.7,269.9 447.2,269.3 447.7,269.3 448.2,269.9 448.7,270.1 449.2,270.0 449.7,270.1 450.2,270.4 450.7,268.8 451.2,269.0 451.7,268.7 452.2,269.2 452.7,269.7 453.2,269.1 453.7,268.0 454.2,268.0 454.7,268.8 455.2,267.9 455.7,268.0 456.2,268.1 456.7,267.4 457.2,268.7 457.7,268.4 458.2,268.5 458.7,267.3 459.2,267.5 459.7,267.5 460.2,268.1 460.7,267.7 461.2,267.7 461.7,268.8 462.2,268.6 462.7,267.6 463.2,267.7 463.7,269.0 464.2,267.6 464.7,268.3 465.2,268.2 465.7,267.0 466.2,266.8 466.7,266.9 467.2,266.3 467.7,266.0 468.2,266.3 468.7,267.5 469.2,267.1 469.7,267.2 470.2,267.6 470.7,267.5 471.2,269.0 471.7,267.4 472.2,268.6 472.7,269.1 473.2,267.9 473.7,269.2 474.2,269.4 474.7,268.3 475.2,269.3 475.7,268.5 476.2,269.7 476.7,269.9 477.2,270.2 477.7,271.2 478.2,271.0 478.7,271.7 479.2,271.4 479.7,270.5 480.2,271.5 480.7,271.5 481.2,270.6 481.7,272.2 482.2,271.7 482.7,271.9 483.2,271.3 483.7,271.9 484.2,272.2 484.7,272.1 485.2,272.6 485.7,271.5 486.2,273.6 486.7,272.4 487.2,271.7 487.7,272.6 488.2,272.6 488.7,273.4 489.2,272.6 489.7,273.6 490.2,272.9 490.7,275.0 491.2,274.6 491.7,275.3 492.2,273.8 492.7,275.1 493.2,274.5 493.7,275.5 494.2,276.1 494.7,274.9 495.2,275.4 495.7,275.6 496.2,275.7 496.7,276.1 497.2,275.8 497.7,275.8 498.2,276.2 498.7,276.4 499.2,275.5 499.7,276.0 500.2,276.2 500.7,276.1 501.2,276.0 501.7,276.4 502.2,276.7 502.7,276.6 503.2,276.0 503.7,277.3 504.2,277.2 504.7,276.1 505.2,276.3 505.7,277.3 506.2,276.2 506.7,277.0 507.2,276.8 507.7,276.2 508.2,276.5 508.7,275.8 509.2,276.6 509.7,275.9 510.2,278.2 510.7,277.8 511.2,277.5 511.7,276.8 512.2,277.3 512.7,277.3 513.2,276.9 513.7,276.4 514.2,275.6 514.7,276.2 515.2,275.7 515.7,276.0 516.2,276.1 516.7,277.1 517.2,277.7 517.7,276.5 518.2,278.4 518.7,278.2 519.2,277.2 519.7,276.8 520.2,276.9 520.7,277.7 521.2,276.6 521.7,276.2 522.2,276.8 522.7,275.8 523.2,277.3 523.7,277.9 524.2,277.9 524.7,277.9 525.2,277.9 525.7,278.3 526.2,277.8 526.7,277.2 527.2,277.3 527.7,277.2 528.2,277.5 528.7,277.6 529.2,276.7 529.7,276.0 530.2,275.8 530.7,276.4 531.2,277.5 531.7,277.2 532.2,277.1 532.7,276.6 533.2,277.9 533.7,277.5 534.2,277.6 534.7,277.3 535.2,278.0 535.7,276.7 536.2,277.8 536.7,277.3 537.2,276.4 537.7,276.9 538.2,276.2 538.7,275.8 539.2,276.0 539.7,275.7 540.2,276.6 540.7,276.2 541.2,276.7 541.7,276.8 542.2,274.5 542.7,276.2 543.2,275.0 543.7,276.0 544.2,275.1 544.7,276.0 545.2,276.6 545.7,274.9 546.2,276.0 546.7,276.0 547.2,275.0 547.7,276.6 548.2,276.0 548.7,275.7 549.2,275.6 549.7,277.6 550.2,275.9 550.7,274.8 551.2,275.4 551.7,275.6 552.2,276.1 552.7,276.1 553.2,275.4 553.7,276.4 554.2,275.7 554.7,275.5 555.2,275.7 555.7,275.9 556.2,276.4 556.7,276.3 557.2,276.0 557.7,276.0 558.2,276.0 558.7,277.0 559.2,275.5 559.7,276.1 560.2,276.0 560.7,275.1 561.2,275.6 561.7,275.7 562.2,275.4 562.7,275.6 563.2,275.7 563.7,275.9 564.2,275.5 564.7,275.9 565.2,277.3 565.7,275.5 566.2,276.4 566.7,277.0 567.2,276.4 567.7,277.0 568.2,276.4 568.7,276.4 569.2,276.7 569.7,275.7 570.2,275.7 570.7,275.8 571.2,275.8 571.7,275.8 572.2,275.0 572.7,276.1 573.2,276.4 573.7,276.3 574.2,276.4 574.7,275.3 575.2,276.6 575.7,275.2 576.2,275.9 576.7,276.6 577.2,275.1 577.7,276.4 578.2,276.1 578.7,275.3 579.2,274.6 579.7,275.6 580.2,275.0 580.7,276.0 581.2,276.3 581.7,274.5 582.2,274.6 582.7,275.0 583.2,274.6 583.7,274.4 584.2,274.8 584.7,274.7 585.2,273.7 585.7,274.5 586.2,275.2 586.7,274.3 587.2,274.4 587.7,275.8 588.2,275.5 588.7,273.7 589.2,274.0 589.7,275.2 590.2,274.2 590.7,274.3 591.2,274.3 591.7,274.9 592.2,273.3 592.7,273.6 593.2,273.8 593.7,274.5 594.2,274.1 594.7,273.5 595.2,274.6 595.7,274.6"/>
<path class="c" stroke="#12adb6" stroke-width="3.0" d="M71.7,251.2 72.2,250.9 72.7,251.8 73.2,251.7 73.7,252.0 74.2,251.8 74.7,251.5 75.2,251.5 75.7,251.5 76.2,251.5 76.7,251.8 77.2,251.8 77.7,252.5 78.2,251.2 78.7,251.9 79.2,251.8 79.7,252.7 80.2,252.2 80.7,251.9 81.2,252.5 81.7,252.2 82.2,252.3 82.7,252.9 83.2,252.5 83.7,253.0 84.2,252.6 84.7,252.7 85.2,252.6 85.7,252.1 86.2,252.7 86.7,252.7 87.2,252.9 87.7,252.5 88.2,252.2 88.7,251.7 89.2,252.5 89.7,252.9 90.2,252.4 90.7,252.7 91.2,253.0 91.7,252.0 92.2,252.4 92.7,252.0 93.2,253.0 93.7,252.5 94.2,251.9 94.7,251.4 95.2,252.2 95.7,252.5 96.2,251.8 96.7,251.6 97.2,252.2 97.7,251.2 98.2,251.8 98.7,252.1 99.2,251.5 99.7,251.6 100.2,252.2 100.7,252.1 101.2,252.0 101.7,252.0 102.2,252.1 102.7,251.3 103.2,251.7 103.7,252.3 104.2,252.4 104.7,252.7 105.2,251.7 105.7,252.8 106.2,252.8 106.7,252.6 107.2,252.6 107.7,252.6 108.2,253.3 108.7,251.7 109.2,252.5 109.7,252.2 110.2,252.0 110.7,252.5 111.2,252.4 111.7,251.6 112.2,252.0 112.7,252.3 113.2,251.5 113.7,252.7 114.2,252.4 114.7,252.8 115.2,252.7 115.7,253.3 116.2,252.3 116.7,252.1 117.2,253.3 117.7,252.3 118.2,252.0 118.7,251.5 119.2,252.7 119.7,252.5 120.2,252.7 120.7,252.6 121.2,252.2 121.7,251.9 122.2,252.1 122.7,252.6 123.2,252.5 123.7,253.2 124.2,251.8 124.7,252.0 125.2,251.7 125.7,252.8 126.2,251.6 126.7,252.4 127.2,252.7 127.7,251.8 128.2,252.4 128.7,251.0 129.2,251.8 129.7,251.3 130.2,251.9 130.7,252.1 131.2,251.6 131.7,252.6 132.2,252.2 132.7,251.9 133.2,252.0 133.7,251.7 134.2,252.5 134.7,253.6 135.2,252.2 135.7,252.9 136.2,252.6 136.7,253.2 137.2,252.9 137.7,252.4 138.2,251.6 138.7,252.3 139.2,253.1 139.7,252.0 140.2,252.2 140.7,251.7 141.2,251.1 141.7,252.0 142.2,251.9 142.7,251.2 143.2,251.6 143.7,252.3 144.2,251.8 144.7,252.2 145.2,251.8 145.7,251.1 146.2,252.2 146.7,252.0 147.2,251.8 147.7,252.2 148.2,252.1 148.7,252.5 149.2,252.7 149.7,252.0 150.2,251.3 150.7,252.0 151.2,252.6 151.7,252.4 152.2,252.0 152.7,252.3 153.2,252.7 153.7,252.8 154.2,253.0 154.7,252.1 155.2,252.3 155.7,252.3 156.2,252.5 156.7,251.4 157.2,252.3 157.7,251.7 158.2,252.9 158.7,253.0 159.2,253.3 159.7,252.5 160.2,251.7 160.7,252.6 161.2,252.1 161.7,252.9 162.2,252.0 162.7,252.2 163.2,252.7 163.7,253.3 164.2,252.7 164.7,253.8 165.2,253.9 165.7,251.6 166.2,252.4 166.7,251.7 167.2,252.3 167.7,252.3 168.2,252.3 168.7,253.0 169.2,253.3 169.7,253.1 170.2,252.8 170.7,253.3 171.2,253.3 171.7,253.3 172.2,253.0 172.7,253.1 173.2,251.9 173.7,252.7 174.2,253.3 174.7,252.3 175.2,251.3 175.7,253.0 176.2,252.1 176.7,250.8 177.2,252.3 177.7,252.8 178.2,252.6 178.7,253.1 179.2,252.7 179.7,252.5 180.2,251.4 180.7,251.9 181.2,252.3 181.7,252.6 182.2,251.7 182.7,252.0 183.2,252.6 183.7,251.3 184.2,251.6 184.7,252.6 185.2,253.1 185.7,252.7 186.2,251.7 186.7,252.6 187.2,251.8 187.7,252.7 188.2,252.0 188.7,251.8 189.2,252.1 189.7,251.5 190.2,252.2 190.7,252.5 191.2,251.9 191.7,252.6 192.2,251.8 192.7,252.7 193.2,252.1 193.7,251.5 194.2,251.8 194.7,251.7 195.2,251.9 195.7,252.0 196.2,252.3 196.7,251.7 197.2,252.2 197.7,251.3 198.2,252.2 198.7,252.4 199.2,252.3 199.7,252.2 200.2,252.1 200.7,251.8 201.2,252.0 201.7,251.4 202.2,251.7 202.7,252.7 203.2,251.8 203.7,253.2 204.2,251.2 204.7,252.1 205.2,251.4 205.7,252.4 206.2,251.7 206.7,252.5 207.2,252.5 207.7,252.2 208.2,252.7 208.7,253.2 209.2,252.0 209.7,252.5 210.2,252.1 210.7,251.9 211.2,252.5 211.7,250.3 212.2,250.9 212.7,250.6 213.2,251.3 213.7,251.2 214.2,253.4 214.7,251.8 215.2,252.6 215.7,252.5 216.2,251.8 216.7,252.2 217.2,252.7 217.7,252.1 218.2,252.1 218.7,252.3 219.2,251.3 219.7,251.8 220.2,252.3 220.7,252.2 221.2,251.7 221.7,252.1 222.2,252.1 222.7,252.1 223.2,252.5 223.7,252.0 224.2,251.9 224.7,251.4 225.2,251.5 225.7,252.0 226.2,251.4 226.7,252.1 227.2,252.0 227.7,252.4 228.2,253.1 228.7,252.1 229.2,251.8 229.7,251.8 230.2,252.0 230.7,253.3 231.2,250.5 231.7,251.1 232.2,250.9 232.7,251.8 233.2,250.9 233.7,250.1 234.2,251.9 234.7,250.7 235.2,251.4 235.7,250.8 236.2,250.9 236.7,251.3 237.2,252.5 237.7,252.4 238.2,251.6 238.7,252.1 239.2,251.7 239.7,252.2 240.2,252.1 240.7,251.9 241.2,251.1 241.7,251.0 242.2,251.4 242.7,251.4 243.2,250.7 243.7,251.8 244.2,251.1 244.7,252.1 245.2,251.8 245.7,252.5 246.2,250.5 246.7,252.4 247.2,251.3 247.7,251.1 248.2,251.7 248.7,252.6 249.2,251.8 249.7,251.0 250.2,251.6 250.7,252.5 251.2,250.9 251.7,251.4 252.2,251.2 252.7,252.6 253.2,251.4 253.7,252.4 254.2,251.2 254.7,251.3 255.2,252.7 255.7,252.3 256.2,251.1 256.7,252.1 257.2,252.0 257.7,251.0 258.2,251.5 258.7,251.7 259.2,251.2 259.7,250.8 260.2,250.9 260.7,251.1 261.2,250.6 261.7,251.0 262.2,250.4 262.7,251.1 263.2,250.9 263.7,250.4 264.2,251.0 264.7,251.5 265.2,251.4 265.7,250.4 266.2,251.5 266.7,250.9 267.2,250.6 267.7,250.4 268.2,250.8 268.7,251.3 269.2,250.7 269.7,250.2 270.2,250.2 270.7,250.1 271.2,250.9 271.7,251.3 272.2,250.0 272.7,250.6 273.2,250.5 273.7,249.9 274.2,250.4 274.7,250.7 275.2,249.6 275.7,249.6 276.2,250.5 276.7,249.9 277.2,249.7 277.7,249.6 278.2,249.3 278.7,249.7 279.2,249.0 279.7,248.7 280.2,249.2 280.7,249.5 281.2,248.5 281.7,249.5 282.2,249.3 282.7,248.4 283.2,248.4 283.7,248.1 284.2,248.4 284.7,248.5 285.2,247.3 285.7,246.9 286.2,248.1 286.7,247.7 287.2,247.9 287.7,248.0 288.2,248.4 288.7,247.2 289.2,248.2 289.7,247.4 290.2,248.1 290.7,248.2 291.2,246.6 291.7,247.5 292.2,247.3 292.7,246.9 293.2,247.1 293.7,246.2 294.2,246.0 294.7,246.4 295.2,246.6 295.7,245.5 296.2,244.8 296.7,246.3 297.2,245.4 297.7,244.9 298.2,244.0 298.7,244.1 299.2,244.2 299.7,243.5 300.2,244.2 300.7,243.5 301.2,243.3 301.7,242.4 302.2,242.1 302.7,242.0 303.2,242.2 303.7,241.7 304.2,241.9 304.7,241.9 305.2,241.8 305.7,242.2 306.2,241.0 306.7,240.3 307.2,240.7 307.7,241.1 308.2,239.7 308.7,239.4 309.2,238.5 309.7,238.5 310.2,238.3 310.7,237.0 311.2,236.7 311.7,236.7 312.2,236.2 312.7,235.6 313.2,235.2 313.7,234.1 314.2,233.4 314.7,233.4 315.2,231.7 315.7,231.6 316.2,229.7 316.7,229.7 317.2,228.4 317.7,227.3 318.2,227.5 318.7,226.0 319.2,225.3 319.7,224.5 320.2,223.6 320.7,223.6 321.2,222.0 321.7,221.4 322.2,219.8 322.7,219.5 323.2,218.8 323.7,218.0 324.2,217.0 324.7,216.9 325.2,216.8 325.7,215.3 326.2,214.5 326.7,213.7 327.2,214.2 327.7,213.1 328.2,212.1 328.7,211.3 329.2,210.1 329.7,209.7 330.2,209.2 330.7,208.5 331.2,207.8 331.7,207.1 332.2,206.8 332.7,206.3 333.2,204.5 333.7,205.3 334.2,205.6 334.7,204.2 335.2,204.0 335.7,203.0 336.2,203.9 336.7,202.5 337.2,202.2 337.7,202.1 338.2,203.3 338.7,201.4 339.2,200.9 339.7,201.4 340.2,201.0 340.7,201.8 341.2,200.0 341.7,199.9 342.2,200.1 342.7,200.5 343.2,200.6 343.7,200.7 344.2,199.3 344.7,199.5 345.2,200.0 345.7,200.1 346.2,200.1 346.7,199.4 347.2,198.8 347.7,200.2 348.2,200.3 348.7,201.1 349.2,200.0 349.7,201.5 350.2,200.3 350.7,201.1 351.2,201.4 351.7,201.7 352.2,201.9 352.7,202.5 353.2,202.9 353.7,202.7 354.2,203.8 354.7,204.0 355.2,205.1 355.7,206.7 356.2,207.1 356.7,208.2 357.2,209.5 357.7,210.8 358.2,212.2 358.7,212.7 359.2,214.5 359.7,215.6 360.2,216.0 360.7,215.9 361.2,216.0 361.7,217.6 362.2,218.6 362.7,219.5 363.2,219.9 363.7,220.8 364.2,222.4 364.7,222.2 365.2,223.7 365.7,224.1 366.2,223.6 366.7,224.9 367.2,224.9 367.7,224.8 368.2,225.2 368.7,225.7 369.2,227.2 369.7,227.3 370.2,228.5 370.7,228.5 371.2,229.4 371.7,230.4 372.2,230.2 372.7,230.6 373.2,232.2 373.7,232.5 374.2,232.3 374.7,233.2 375.2,234.0 375.7,234.8 376.2,234.0 376.7,235.1 377.2,236.3 377.7,235.7 378.2,236.6 378.7,234.9 379.2,237.1 379.7,236.8 380.2,236.2 380.7,237.7 381.2,238.1 381.7,238.5 382.2,238.8 382.7,238.5 383.2,238.5 383.7,238.7 384.2,239.4 384.7,240.1 385.2,240.0 385.7,240.7 386.2,241.4 386.7,241.3 387.2,242.5 387.7,243.1 388.2,241.6 388.7,242.1 389.2,241.9 389.7,242.1 390.2,243.4 390.7,242.9 391.2,243.2 391.7,243.6 392.2,244.2 392.7,243.9 393.2,244.1 393.7,244.9 394.2,244.5 394.7,244.9 395.2,245.2 395.7,244.2 396.2,245.1 396.7,244.6 397.2,245.5 397.7,245.4 398.2,244.7 398.7,245.6 399.2,244.6 399.7,245.8 400.2,245.2 400.7,244.8 401.2,244.8 401.7,245.4 402.2,245.8 402.7,245.7 403.2,246.4 403.7,245.4 404.2,246.3 404.7,246.3 405.2,245.5 405.7,246.7 406.2,245.8 406.7,245.1 407.2,246.0 407.7,246.7 408.2,247.2 408.7,246.7 409.2,247.9 409.7,248.0 410.2,248.1 410.7,248.2 411.2,247.8 411.7,247.6 412.2,248.3 412.7,248.5 413.2,248.1 413.7,248.0 414.2,247.1 414.7,248.5 415.2,248.5 415.7,247.4 416.2,248.2 416.7,248.6 417.2,248.1 417.7,248.1 418.2,248.4 418.7,247.2 419.2,247.7 419.7,248.3 420.2,248.4 420.7,248.9 421.2,247.3 421.7,248.6 422.2,248.9 422.7,249.3 423.2,249.7 423.7,248.2 424.2,248.4 424.7,247.9 425.2,248.9 425.7,247.6 426.2,249.0 426.7,249.0 427.2,248.8 427.7,247.5 428.2,248.4 428.7,249.0 429.2,247.7 429.7,248.5 430.2,248.5 430.7,248.8 431.2,248.2 431.7,248.2 432.2,247.7 432.7,248.1 433.2,248.1 433.7,248.6 434.2,248.2 434.7,248.9 435.2,247.3 435.7,248.7 436.2,248.0 436.7,248.5 437.2,248.0 437.7,248.4 438.2,248.5 438.7,247.4 439.2,248.0 439.7,247.9 440.2,248.0 440.7,247.3 441.2,247.9 441.7,247.9 442.2,247.6 442.7,247.9 443.2,247.0 443.7,248.3 444.2,247.8 444.7,248.0 445.2,246.5 445.7,246.3 446.2,246.9 446.7,245.7 447.2,246.8 447.7,246.3 448.2,246.6 448.7,247.4 449.2,247.2 449.7,248.0 450.2,247.4 450.7,246.4 451.2,247.3 451.7,246.1 452.2,246.7 452.7,245.5 453.2,245.5 453.7,246.4 454.2,245.2 454.7,245.0 455.2,244.8 455.7,244.9 456.2,245.6 456.7,244.6 457.2,244.6 457.7,245.2 458.2,244.2 458.7,244.7 459.2,245.6 459.7,244.6 460.2,244.2 460.7,243.6 461.2,243.4 461.7,243.6 462.2,243.9 462.7,244.3 463.2,244.0 463.7,243.3 464.2,243.0 464.7,244.0 465.2,242.5 465.7,243.0 466.2,242.7 466.7,242.2 467.2,242.1 467.7,242.6 468.2,241.3 468.7,241.3 469.2,241.3 469.7,241.6 470.2,241.0 470.7,242.1 471.2,241.5 471.7,241.4 472.2,241.3 472.7,241.3 473.2,241.3 473.7,241.8 474.2,240.9 474.7,240.5 475.2,240.6 475.7,239.5 476.2,239.9 476.7,239.1 477.2,237.9 477.7,238.7 478.2,237.5 478.7,238.3 479.2,237.5 479.7,238.1 480.2,238.2 480.7,237.6 481.2,236.9 481.7,236.9 482.2,236.7 482.7,236.1 483.2,236.1 483.7,236.4 484.2,236.3 484.7,235.3 485.2,236.3 485.7,236.4 486.2,235.7 486.7,235.0 487.2,235.7 487.7,234.4 488.2,235.4 488.7,235.6 489.2,233.4 489.7,234.5 490.2,234.7 490.7,234.6 491.2,234.0 491.7,234.2 492.2,234.1 492.7,235.1 493.2,235.8 493.7,235.7 494.2,236.0 494.7,236.6 495.2,237.4 495.7,238.3 496.2,238.6 496.7,239.1 497.2,238.8 497.7,238.6 498.2,240.8 498.7,241.5 499.2,240.5 499.7,241.1 500.2,241.8 500.7,242.7 501.2,242.9 501.7,243.6 502.2,243.0 502.7,243.7 503.2,243.9 503.7,243.6 504.2,244.6 504.7,244.5 505.2,244.8 505.7,244.5 506.2,245.4 506.7,244.8 507.2,245.9 507.7,244.5 508.2,245.6 508.7,246.7 509.2,246.3 509.7,246.5 510.2,245.8 510.7,247.5 511.2,247.2 511.7,247.3 512.2,247.6 512.7,247.8 513.2,248.7 513.7,248.5 514.2,247.8 514.7,248.3 515.2,249.1 515.7,248.9 516.2,248.4 516.7,249.0 517.2,248.5 517.7,248.6 518.2,247.6 518.7,248.0 519.2,248.8 519.7,248.1 520.2,248.6 520.7,249.4 521.2,248.4 521.7,248.9 522.2,248.5 522.7,248.5 523.2,249.1 523.7,248.7 524.2,248.4 524.7,250.4 525.2,249.6 525.7,250.2 526.2,249.6 526.7,249.8 527.2,249.8 527.7,249.7 528.2,248.8 528.7,249.9 529.2,248.8 529.7,249.5 530.2,250.8 530.7,249.8 531.2,250.8 531.7,249.9 532.2,250.2 532.7,249.7 533.2,250.0 533.7,249.2 534.2,249.3 534.7,249.5 535.2,248.2 535.7,248.5 536.2,249.5 536.7,249.1 537.2,248.9 537.7,248.8 538.2,249.3 538.7,249.1 539.2,249.3 539.7,249.3 540.2,250.1 540.7,248.8 541.2,247.8 541.7,248.9 542.2,249.0 542.7,248.8 543.2,248.3 543.7,249.6 544.2,249.0 544.7,248.8 545.2,248.5 545.7,249.5 546.2,249.2 546.7,250.1 547.2,248.9 547.7,248.6 548.2,249.2 548.7,249.0 549.2,249.3 549.7,248.4 550.2,248.7 550.7,248.8 551.2,248.8 551.7,248.3 552.2,248.4 552.7,248.6 553.2,248.9 553.7,249.6 554.2,249.6 554.7,248.6 555.2,249.6 555.7,250.4 556.2,249.7 556.7,249.8 557.2,249.3 557.7,248.5 558.2,247.9 558.7,249.0 559.2,249.4 559.7,249.2 560.2,249.1 560.7,249.2 561.2,249.0 561.7,249.3 562.2,249.0 562.7,249.1 563.2,248.6 563.7,248.8 564.2,249.5 564.7,249.0 565.2,248.4 565.7,249.6 566.2,248.5 566.7,250.3 567.2,249.7 567.7,249.8 568.2,249.1 568.7,249.0 569.2,249.2 569.7,249.1 570.2,248.8 570.7,249.1 571.2,249.2 571.7,248.9 572.2,248.0 572.7,247.3 573.2,248.1 573.7,248.0 574.2,248.7 574.7,249.3 575.2,249.4 575.7,249.0 576.2,249.3 576.7,249.7 577.2,249.2 577.7,249.3 578.2,249.5 578.7,249.2 579.2,249.0 579.7,248.9 580.2,249.3 580.7,248.8 581.2,249.3 581.7,248.5 582.2,249.3 582.7,249.2 583.2,247.9 583.7,248.9 584.2,248.1 584.7,248.9 585.2,248.8 585.7,248.7 586.2,249.0 586.7,248.3 587.2,248.6 587.7,248.6 588.2,248.3 588.7,248.4 589.2,247.3 589.7,247.5 590.2,246.7 590.7,247.6 591.2,247.4 591.7,247.5 592.2,246.9 592.7,248.6 593.2,247.1 593.7,247.5 594.2,246.9 594.7,247.5"/>
<path class="c" stroke="#0f9bcc" stroke-width="3.0" d="M71.7,225.7 72.2,225.3 72.7,225.2 73.2,225.4 73.7,225.1 74.2,226.5 74.7,226.3 75.2,224.9 75.7,225.0 76.2,225.4 76.7,225.6 77.2,225.0 77.7,224.9 78.2,226.0 78.7,225.6 79.2,224.6 79.7,224.4 80.2,224.8 80.7,225.2 81.2,225.6 81.7,225.1 82.2,224.4 82.7,225.1 83.2,225.3 83.7,225.0 84.2,224.8 84.7,225.2 85.2,224.5 85.7,224.0 86.2,224.4 86.7,224.0 87.2,225.3 87.7,225.0 88.2,224.1 88.7,224.5 89.2,225.3 89.7,224.1 90.2,225.2 90.7,226.0 91.2,224.4 91.7,225.2 92.2,225.1 92.7,225.6 93.2,224.3 93.7,224.5 94.2,224.7 94.7,225.0 95.2,225.2 95.7,225.1 96.2,225.3 96.7,225.4 97.2,225.6 97.7,224.7 98.2,225.2 98.7,226.6 99.2,225.9 99.7,225.3 100.2,225.1 100.7,224.9 101.2,224.3 101.7,225.4 102.2,224.7 102.7,225.0 103.2,226.2 103.7,224.4 104.2,225.8 104.7,224.8 105.2,225.4 105.7,226.0 106.2,225.5 106.7,225.6 107.2,225.3 107.7,225.8 108.2,225.0 108.7,225.5 109.2,224.8 109.7,225.5 110.2,224.7 110.7,225.6 111.2,224.8 111.7,224.8 112.2,225.3 112.7,224.9 113.2,224.0 113.7,225.3 114.2,223.9 114.7,225.6 115.2,225.4 115.7,225.0 116.2,225.7 116.7,225.5 117.2,226.4 117.7,225.2 118.2,226.3 118.7,225.9 119.2,224.9 119.7,224.6 120.2,225.8 120.7,225.0 121.2,225.3 121.7,225.1 122.2,224.7 122.7,225.1 123.2,224.6 123.7,224.3 124.2,224.6 124.7,225.4 125.2,225.4 125.7,224.8 126.2,224.5 126.7,224.6 127.2,225.1 127.7,225.0 128.2,224.8 128.7,225.0 129.2,225.7 129.7,226.2 130.2,225.3 130.7,224.9 131.2,225.9 131.7,225.3 132.2,225.4 132.7,225.8 133.2,225.1 133.7,224.4 134.2,223.8 134.7,224.7 135.2,224.3 135.7,224.9 136.2,224.0 136.7,224.6 137.2,224.3 137.7,224.9 138.2,225.2 138.7,225.6 139.2,225.7 139.7,225.2 140.2,224.9 140.7,226.0 141.2,224.9 141.7,225.2 142.2,224.8 142.7,225.1 143.2,225.3 143.7,225.2 144.2,225.1 144.7,224.5 145.2,224.7 145.7,224.7 146.2,225.1 146.7,225.0 147.2,225.0 147.7,224.9 148.2,224.7 148.7,224.2 149.2,225.4 149.7,225.1 150.2,224.3 150.7,224.8 151.2,224.8 151.7,224.4 152.2,223.9 152.7,224.4 153.2,224.6 153.7,225.7 154.2,224.7 154.7,225.1 155.2,224.6 155.7,225.1 156.2,225.4 156.7,224.3 157.2,223.7 157.7,225.5 158.2,225.4 158.7,225.2 159.2,225.9 159.7,225.7 160.2,224.3 160.7,225.1 161.2,225.8 161.7,225.0 162.2,224.8 162.7,225.4 163.2,224.9 163.7,224.5 164.2,224.9 164.7,224.5 165.2,225.4 165.7,224.2 166.2,225.5 166.7,224.2 167.2,225.2 167.7,224.4 168.2,225.0 168.7,225.5 169.2,225.4 169.7,225.7 170.2,225.2 170.7,225.2 171.2,225.0 171.7,225.3 172.2,224.6 172.7,225.5 173.2,225.1 173.7,225.3 174.2,225.2 174.7,225.6 175.2,225.2 175.7,225.1 176.2,224.9 176.7,225.3 177.2,225.4 177.7,226.0 178.2,224.5 178.7,226.4 179.2,224.8 179.7,225.4 180.2,225.5 180.7,223.7 181.2,224.7 181.7,225.3 182.2,223.5 182.7,224.7 183.2,223.8 183.7,224.2 184.2,224.4 184.7,223.7 185.2,224.6 185.7,223.9 186.2,224.1 186.7,224.9 187.2,226.4 187.7,225.0 188.2,225.3 188.7,225.0 189.2,224.7 189.7,225.3 190.2,225.8 190.7,225.1 191.2,225.4 191.7,224.6 192.2,225.5 192.7,223.4 193.2,224.2 193.7,224.4 194.2,224.1 194.7,223.7 195.2,223.4 195.7,224.1 196.2,224.2 196.7,223.8 197.2,224.2 197.7,224.6 198.2,224.7 198.7,223.9 199.2,224.1 199.7,223.8 200.2,225.4 200.7,224.3 201.2,223.8 201.7,224.4 202.2,225.2 202.7,224.4 203.2,222.8 203.7,223.7 204.2,223.5 204.7,223.5 205.2,223.3 205.7,224.0 206.2,223.7 206.7,224.6 207.2,224.8 207.7,224.0 208.2,223.6 208.7,224.4 209.2,224.6 209.7,224.5 210.2,224.3 210.7,222.8 211.2,223.9 211.7,223.8 212.2,224.2 212.7,223.7 213.2,224.1 213.7,223.9 214.2,225.3 214.7,224.6 215.2,224.3 215.7,224.2 216.2,223.9 216.7,224.2 217.2,223.9 217.7,224.0 218.2,224.3 218.7,223.9 219.2,223.6 219.7,223.8 220.2,223.5 220.7,222.7 221.2,222.7 221.7,223.2 222.2,223.5 222.7,224.0 223.2,224.4 223.7,223.9 224.2,223.8 224.7,224.6 225.2,224.9 225.7,224.1 226.2,224.2 226.7,224.8 227.2,224.5 227.7,224.3 228.2,223.9 228.7,225.5 229.2,225.0 229.7,224.7 230.2,224.6 230.7,224.0 231.2,224.0 231.7,223.9 232.2,224.1 232.7,223.0 233.2,224.1 233.7,223.6 234.2,224.0 234.7,223.2 235.2,223.9 235.7,224.5 236.2,223.9 236.7,223.3 237.2,223.7 237.7,223.9 238.2,223.0 238.7,222.9 239.2,223.9 239.7,223.6 240.2,224.4 240.7,223.7 241.2,223.5 241.7,224.3 242.2,225.4 242.7,224.4 243.2,224.6 243.7,224.5 244.2,224.2 244.7,224.8 245.2,224.4 245.7,224.3 246.2,223.4 246.7,223.5 247.2,223.1 247.7,223.9 248.2,223.6 248.7,224.3 249.2,224.4 249.7,223.6 250.2,223.4 250.7,223.2 251.2,223.8 251.7,223.1 252.2,223.6 252.7,223.0 253.2,223.0 253.7,223.4 254.2,222.7 254.7,222.7 255.2,223.5 255.7,223.2 256.2,222.7 256.7,223.0 257.2,223.4 257.7,222.9 258.2,223.3 258.7,222.9 259.2,223.1 259.7,222.5 260.2,222.3 260.7,221.7 261.2,221.8 261.7,221.3 262.2,222.5 262.7,221.2 263.2,221.3 263.7,221.8 264.2,220.6 264.7,220.2 265.2,220.1 265.7,219.4 266.2,219.3 266.7,219.1 267.2,219.5 267.7,218.9 268.2,218.3 268.7,218.2 269.2,217.0 269.7,218.1 270.2,217.4 270.7,216.6 271.2,216.6 271.7,215.8 272.2,214.9 272.7,214.1 273.2,213.8 273.7,213.1 274.2,213.3 274.7,212.8 275.2,212.5 275.7,211.9 276.2,211.4 276.7,212.2 277.2,210.1 277.7,210.8 278.2,209.9 278.7,209.3 279.2,208.9 279.7,208.6 280.2,207.9 280.7,207.3 281.2,207.0 281.7,205.8 282.2,206.5 282.7,205.9 283.2,203.5 283.7,204.0 284.2,204.4 284.7,203.6 285.2,203.4 285.7,203.3 286.2,202.9 286.7,202.5 287.2,201.9 287.7,200.6 288.2,200.6 288.7,199.3 289.2,199.6 289.7,198.8 290.2,199.6 290.7,199.8 291.2,199.1 291.7,198.2 292.2,198.3 292.7,198.1 293.2,198.0 293.7,198.2 294.2,198.1 294.7,196.4 295.2,197.9 295.7,197.2 296.2,197.2 296.7,197.8 297.2,197.0 297.7,196.2 298.2,196.3 298.7,197.0 299.2,197.6 299.7,197.7 300.2,197.2 300.7,197.6 301.2,198.7 301.7,197.9 302.2,199.0 302.7,198.6 303.2,198.7 303.7,198.5 304.2,198.8 304.7,198.3 305.2,198.1 305.7,198.5 306.2,198.4 306.7,199.1 307.2,199.1 307.7,199.1 308.2,199.3 308.7,199.3 309.2,200.6 309.7,200.1 310.2,200.0 310.7,200.0 311.2,200.5 311.7,200.4 312.2,200.2 312.7,200.2 313.2,200.7 313.7,200.8 314.2,200.6 314.7,199.5 315.2,199.9 315.7,198.9 316.2,200.1 316.7,200.4 317.2,200.2 317.7,199.5 318.2,199.9 318.7,199.4 319.2,199.3 319.7,198.5 320.2,198.9 320.7,198.7 321.2,199.2 321.7,199.4 322.2,198.1 322.7,198.1 323.2,198.0 323.7,197.2 324.2,196.4 324.7,196.4 325.2,195.7 325.7,195.6 326.2,195.3 326.7,194.7 327.2,193.9 327.7,193.8 328.2,192.7 328.7,192.8 329.2,191.1 329.7,191.3 330.2,190.8 330.7,189.8 331.2,188.7 331.7,188.8 332.2,187.3 332.7,187.4 333.2,186.4 333.7,185.1 334.2,184.5 334.7,184.1 335.2,183.2 335.7,182.0 336.2,181.8 336.7,181.2 337.2,180.4 337.7,179.8 338.2,178.6 338.7,177.9 339.2,176.1 339.7,174.8 340.2,174.9 340.7,173.0 341.2,172.4 341.7,170.9 342.2,171.0 342.7,169.8 343.2,171.4 343.7,169.0 344.2,168.4 344.7,168.9 345.2,168.4 345.7,166.7 346.2,167.5 346.7,167.4 347.2,166.4 347.7,167.8 348.2,167.9 348.7,168.6 349.2,170.1 349.7,170.8 350.2,171.6 350.7,174.5 351.2,174.5 351.7,175.4 352.2,177.3 352.7,177.8 353.2,179.4 353.7,179.9 354.2,181.4 354.7,182.7 355.2,183.8 355.7,184.8 356.2,186.0 356.7,188.1 357.2,188.1 357.7,189.2 358.2,190.5 358.7,192.0 359.2,193.0 359.7,194.1 360.2,193.9 360.7,195.3 361.2,195.9 361.7,196.5 362.2,197.6 362.7,197.1 363.2,198.9 363.7,199.4 364.2,199.6 364.7,201.0 365.2,202.3 365.7,202.1 366.2,202.9 366.7,203.3 367.2,203.6 367.7,204.7 368.2,205.1 368.7,206.5 369.2,206.9 369.7,206.9 370.2,208.4 370.7,208.5 371.2,208.7 371.7,209.4 372.2,209.4 372.7,209.4 373.2,211.3 373.7,210.1 374.2,211.3 374.7,210.5 375.2,211.3 375.7,211.4 376.2,211.7 376.7,211.5 377.2,212.7 377.7,213.0 378.2,212.9 378.7,213.5 379.2,214.4 379.7,214.1 380.2,214.7 380.7,214.1 381.2,214.8 381.7,215.0 382.2,215.7 382.7,215.3 383.2,215.3 383.7,215.9 384.2,214.9 384.7,215.9 385.2,215.4 385.7,215.9 386.2,217.1 386.7,216.7 387.2,217.4 387.7,216.2 388.2,217.2 388.7,216.8 389.2,217.0 389.7,216.1 390.2,217.2 390.7,217.1 391.2,216.5 391.7,216.5 392.2,217.0 392.7,218.3 393.2,218.0 393.7,218.2 394.2,219.0 394.7,218.8 395.2,219.1 395.7,219.3 396.2,219.0 396.7,219.5 397.2,218.2 397.7,219.0 398.2,218.7 398.7,219.2 399.2,219.2 399.7,219.1 400.2,219.3 400.7,219.7 401.2,219.5 401.7,219.1 402.2,220.2 402.7,220.3 403.2,219.9 403.7,220.1 404.2,219.9 404.7,220.4 405.2,221.0 405.7,221.0 406.2,220.8 406.7,220.8 407.2,220.3 407.7,221.4 408.2,221.5 408.7,222.0 409.2,222.4 409.7,221.9 410.2,222.1 410.7,221.0 411.2,222.0 411.7,221.8 412.2,222.2 412.7,221.6 413.2,221.7 413.7,222.0 414.2,220.9 414.7,221.8 415.2,221.8 415.7,221.2 416.2,221.1 416.7,221.9 417.2,221.6 417.7,221.8 418.2,222.1 418.7,221.6 419.2,222.2 419.7,222.2 420.2,221.4 420.7,221.3 421.2,221.4 421.7,222.1 422.2,222.6 422.7,221.0 423.2,221.9 423.7,222.0 424.2,221.4 424.7,221.6 425.2,221.0 425.7,221.4 426.2,222.0 426.7,222.0 427.2,221.9 427.7,222.4 428.2,222.0 428.7,221.5 429.2,222.7 429.7,222.5 430.2,221.6 430.7,222.8 431.2,222.2 431.7,222.0 432.2,222.8 432.7,221.0 433.2,221.4 433.7,222.4 434.2,222.1 434.7,221.8 435.2,223.0 435.7,222.5 436.2,221.7 436.7,221.7 437.2,222.2 437.7,222.8 438.2,221.0 438.7,221.9 439.2,221.6 439.7,221.1 440.2,222.1 440.7,221.5 441.2,222.1 441.7,222.9 442.2,222.4 442.7,222.6 443.2,222.4 443.7,222.2 444.2,222.2 444.7,221.2 445.2,221.6 445.7,222.1 446.2,221.6 446.7,221.3 447.2,222.1 447.7,222.0 448.2,221.0 448.7,221.1 449.2,221.1 449.7,220.8 450.2,220.1 450.7,220.8 451.2,220.7 451.7,220.3 452.2,221.3 452.7,220.2 453.2,220.0 453.7,219.9 454.2,220.6 454.7,219.6 455.2,218.5 455.7,219.3 456.2,219.2 456.7,219.0 457.2,219.2 457.7,218.8 458.2,218.5 458.7,218.1 459.2,219.1 459.7,217.8 460.2,218.5 460.7,218.1 461.2,218.5 461.7,217.5 462.2,219.5 462.7,217.9 463.2,217.9 463.7,218.1 464.2,217.5 464.7,217.5 465.2,216.3 465.7,216.8 466.2,216.9 466.7,216.6 467.2,216.4 467.7,216.7 468.2,216.8 468.7,216.3 469.2,216.2 469.7,217.3 470.2,216.2 470.7,217.3 471.2,216.5 471.7,217.1 472.2,216.1 472.7,216.4 473.2,216.4 473.7,216.2 474.2,216.0 474.7,215.5 475.2,215.9 475.7,215.6 476.2,216.1 476.7,215.3 477.2,214.6 477.7,215.2 478.2,215.4 478.7,214.9 479.2,215.4 479.7,214.7 480.2,214.5 480.7,213.8 481.2,213.6 481.7,213.7 482.2,212.2 482.7,212.8 483.2,212.7 483.7,212.1 484.2,212.2 484.7,211.2 485.2,211.5 485.7,211.3 486.2,211.2 486.7,212.1 487.2,210.7 487.7,209.9 488.2,210.9 488.7,210.1 489.2,208.7 489.7,209.8 490.2,209.8 490.7,209.4 491.2,210.0 491.7,208.8 492.2,209.1 492.7,207.9 493.2,208.2 493.7,208.4 494.2,207.9 494.7,207.4 495.2,205.9 495.7,206.7 496.2,206.1 496.7,207.0 497.2,206.1 497.7,206.4 498.2,205.8 498.7,206.9 499.2,205.6 499.7,206.1 500.2,207.1 500.7,206.2 501.2,205.7 501.7,206.5 502.2,206.4 502.7,206.5 503.2,205.2 503.7,206.3 504.2,205.3 504.7,207.2 505.2,206.6 505.7,206.6 506.2,207.6 506.7,208.2 507.2,208.1 507.7,210.0 508.2,209.8 508.7,209.5 509.2,211.5 509.7,211.9 510.2,212.3 510.7,212.6 511.2,212.4 511.7,213.5 512.2,214.2 512.7,214.1 513.2,214.9 513.7,214.4 514.2,215.3 514.7,215.5 515.2,214.9 515.7,215.3 516.2,216.5 516.7,217.6 517.2,218.2 517.7,218.3 518.2,218.9 518.7,219.0 519.2,219.5 519.7,220.0 520.2,219.9 520.7,219.6 521.2,220.5 521.7,220.4 522.2,221.2 522.7,221.1 523.2,222.2 523.7,221.6 524.2,222.0 524.7,221.6 525.2,221.6 525.7,221.6 526.2,221.6 526.7,221.3 527.2,220.9 527.7,221.7 528.2,221.6 528.7,222.2 529.2,222.4 529.7,222.0 530.2,221.2 530.7,222.4 531.2,222.0 531.7,222.3 532.2,223.6 532.7,223.3 533.2,222.9 533.7,222.8 534.2,223.2 534.7,222.2 535.2,223.0 535.7,222.3 536.2,223.1 536.7,221.8 537.2,222.6 537.7,222.0 538.2,222.6 538.7,221.6 539.2,222.3 539.7,221.8 540.2,221.6 540.7,221.8 541.2,222.3 541.7,222.1 542.2,222.4 542.7,222.3 543.2,220.8 543.7,221.9 544.2,221.5 544.7,222.4 545.2,222.8 545.7,222.2 546.2,222.6 546.7,223.2 547.2,223.0 547.7,223.7 548.2,222.8 548.7,222.9 549.2,223.6 549.7,222.4 550.2,222.7 550.7,222.1 551.2,222.9 551.7,223.3 552.2,223.6 552.7,222.8 553.2,222.3 553.7,222.3 554.2,221.9 554.7,222.5 555.2,222.8 555.7,221.3 556.2,221.2 556.7,222.6 557.2,221.0 557.7,221.5 558.2,220.7 558.7,221.8 559.2,221.8 559.7,221.3 560.2,221.3 560.7,221.4 561.2,221.9 561.7,222.9 562.2,222.8 562.7,222.0 563.2,222.3 563.7,222.5 564.2,222.5 564.7,222.3 565.2,221.8 565.7,222.5 566.2,222.0 566.7,221.9 567.2,221.6 567.7,222.2 568.2,221.5 568.7,223.0 569.2,222.7 569.7,222.5 570.2,222.3 570.7,222.6 571.2,222.3 571.7,221.7 572.2,221.6 572.7,220.8 573.2,221.8 573.7,221.4 574.2,221.7 574.7,222.8 575.2,221.0 575.7,222.0 576.2,222.4 576.7,222.4 577.2,222.3 577.7,221.1 578.2,221.2 578.7,222.0 579.2,221.5 579.7,222.2 580.2,221.5 580.7,221.3 581.2,221.5 581.7,221.4 582.2,221.3 582.7,221.0 583.2,221.4 583.7,221.2 584.2,221.7 584.7,221.0 585.2,221.1 585.7,221.8 586.2,222.1 586.7,221.4 587.2,221.4 587.7,221.2 588.2,222.3 588.7,220.5 589.2,221.7 589.7,220.5 590.2,220.9 590.7,220.5 591.2,220.7 591.7,221.4 592.2,221.3 592.7,220.9 593.2,220.5 593.7,222.0 594.2,221.8 594.7,221.2"/>
<path class="c" stroke="#1a80d4" stroke-width="2.9" d="M71.7,192.7 72.2,192.1 72.7,192.3 73.2,192.6 73.7,192.6 74.2,192.1 74.7,192.4 75.2,192.4 75.7,192.2 76.2,192.6 76.7,192.2 77.2,191.9 77.7,192.1 78.2,191.5 78.7,192.3 79.2,192.2 79.7,192.0 80.2,192.3 80.7,192.2 81.2,192.4 81.7,192.0 82.2,192.1 82.7,191.9 83.2,192.4 83.7,192.1 84.2,192.3 84.7,192.5 85.2,192.3 85.7,192.2 86.2,192.5 86.7,192.2 87.2,192.1 87.7,192.4 88.2,192.1 88.7,192.1 89.2,192.8 89.7,192.4 90.2,192.1 90.7,192.3 91.2,192.3 91.7,192.1 92.2,192.2 92.7,192.4 93.2,192.3 93.7,192.3 94.2,191.9 94.7,191.9 95.2,192.4 95.7,192.1 96.2,192.4 96.7,192.1 97.2,191.7 97.7,192.1 98.2,191.8 98.7,192.2 99.2,192.2 99.7,192.4 100.2,191.9 100.7,192.0 101.2,192.1 101.7,192.1 102.2,191.4 102.7,191.8 103.2,192.2 103.7,192.3 104.2,192.0 104.7,192.3 105.2,192.2 105.7,191.9 106.2,191.9 106.7,191.6 107.2,191.5 107.7,191.5 108.2,191.6 108.7,191.4 109.2,191.2 109.7,191.2 110.2,191.4 110.7,191.3 111.2,191.5 111.7,191.6 112.2,191.5 112.7,191.2 113.2,190.9 113.7,191.1 114.2,191.2 114.7,191.1 115.2,191.0 115.7,191.1 116.2,191.6 116.7,191.3 117.2,191.5 117.7,191.5 118.2,191.4 118.7,191.7 119.2,191.8 119.7,191.5 120.2,191.9 120.7,191.6 121.2,191.8 121.7,192.1 122.2,192.0 122.7,191.9 123.2,191.7 123.7,191.5 124.2,191.6 124.7,191.4 125.2,191.8 125.7,191.3 126.2,191.5 126.7,191.8 127.2,191.6 127.7,191.4 128.2,191.6 128.7,191.5 129.2,191.8 129.7,191.8 130.2,191.7 130.7,191.6 131.2,191.5 131.7,191.6 132.2,191.7 132.7,191.4 133.2,191.7 133.7,191.7 134.2,191.7 134.7,191.6 135.2,191.8 135.7,191.8 136.2,191.8 136.7,192.2 137.2,191.7 137.7,192.2 138.2,192.4 138.7,192.1 139.2,191.9 139.7,191.7 140.2,191.9 140.7,192.0 141.2,192.4 141.7,191.9 142.2,192.0 142.7,192.0 143.2,192.3 143.7,192.2 144.2,192.2 144.7,192.4 145.2,191.7 145.7,192.0 146.2,191.6 146.7,191.5 147.2,191.7 147.7,191.4 148.2,191.8 148.7,191.8 149.2,191.6 149.7,191.7 150.2,191.9 150.7,192.0 151.2,192.1 151.7,192.2 152.2,191.9 152.7,191.8 153.2,191.8 153.7,191.9 154.2,191.7 154.7,191.8 155.2,191.5 155.7,191.9 156.2,191.5 156.7,191.9 157.2,192.2 157.7,192.3 158.2,192.2 158.7,192.7 159.2,192.1 159.7,192.1 160.2,191.9 160.7,192.1 161.2,191.9 161.7,191.8 162.2,191.2 162.7,191.8 163.2,191.7 163.7,191.9 164.2,192.1 164.7,191.8 165.2,191.9 165.7,192.0 166.2,191.7 166.7,191.4 167.2,191.4 167.7,191.2 168.2,190.8 168.7,191.0 169.2,190.7 169.7,190.5 170.2,190.7 170.7,190.5 171.2,190.0 171.7,191.0 172.2,191.2 172.7,190.6 173.2,190.6 173.7,190.6 174.2,190.4 174.7,189.9 175.2,189.8 175.7,189.8 176.2,189.4 176.7,189.5 177.2,189.3 177.7,189.0 178.2,189.0 178.7,188.6 179.2,189.0 179.7,188.2 180.2,188.6 180.7,188.3 181.2,188.0 181.7,187.9 182.2,187.9 182.7,187.2 183.2,187.1 183.7,186.9 184.2,186.5 184.7,186.4 185.2,186.7 185.7,186.2 186.2,186.0 186.7,186.1 187.2,185.8 187.7,186.0 188.2,185.7 188.7,185.8 189.2,185.7 189.7,185.6 190.2,185.8 190.7,185.1 191.2,185.4 191.7,184.7 192.2,184.9 192.7,184.6 193.2,184.1 193.7,183.6 194.2,184.1 194.7,183.5 195.2,183.6 195.7,183.8 196.2,183.4 196.7,183.5 197.2,183.6 197.7,183.3 198.2,183.1 198.7,183.1 199.2,182.4 199.7,182.5 200.2,182.5 200.7,182.5 201.2,182.4 201.7,182.0 202.2,182.3 202.7,182.3 203.2,181.6 203.7,181.9 204.2,182.0 204.7,181.6 205.2,181.3 205.7,180.9 206.2,181.3 206.7,181.4 207.2,180.8 207.7,180.7 208.2,180.4 208.7,180.2 209.2,180.1 209.7,180.1 210.2,179.9 210.7,180.4 211.2,180.0 211.7,180.2 212.2,180.6 212.7,180.5 213.2,180.5 213.7,180.5 214.2,179.8 214.7,180.1 215.2,180.0 215.7,179.7 216.2,179.3 216.7,179.4 217.2,178.9 217.7,179.2 218.2,179.3 218.7,179.5 219.2,179.5 219.7,179.4 220.2,179.3 220.7,179.5 221.2,179.6 221.7,179.7 222.2,179.4 222.7,179.0 223.2,179.1 223.7,178.9 224.2,179.2 224.7,178.6 225.2,178.6 225.7,178.8 226.2,179.2 226.7,179.1 227.2,178.8 227.7,178.9 228.2,178.1 228.7,178.4 229.2,178.2 229.7,177.6 230.2,178.0 230.7,177.3 231.2,177.4 231.7,177.6 232.2,177.5 232.7,177.4 233.2,176.9 233.7,177.4 234.2,177.5 234.7,178.1 235.2,177.8 235.7,177.5 236.2,177.4 236.7,177.6 237.2,177.4 237.7,177.5 238.2,177.4 238.7,177.1 239.2,177.3 239.7,177.1 240.2,177.2 240.7,177.5 241.2,177.3 241.7,177.2 242.2,177.1 242.7,177.3 243.2,177.5 243.7,177.8 244.2,178.2 244.7,178.3 245.2,178.2 245.7,179.2 246.2,179.5 246.7,179.9 247.2,180.3 247.7,180.1 248.2,180.4 248.7,180.7 249.2,181.3 249.7,181.1 250.2,181.3 250.7,182.0 251.2,182.3 251.7,182.2 252.2,183.0 252.7,182.7 253.2,183.5 253.7,183.6 254.2,184.0 254.7,184.0 255.2,184.1 255.7,184.7 256.2,184.6 256.7,185.3 257.2,184.9 257.7,185.2 258.2,185.2 258.7,185.4 259.2,185.5 259.7,185.8 260.2,185.2 260.7,185.6 261.2,186.0 261.7,185.8 262.2,185.9 262.7,186.2 263.2,186.1 263.7,186.3 264.2,186.9 264.7,186.4 265.2,186.6 265.7,186.5 266.2,186.9 266.7,187.1 267.2,187.7 267.7,187.6 268.2,187.1 268.7,188.0 269.2,187.6 269.7,187.5 270.2,187.6 270.7,187.2 271.2,187.1 271.7,186.8 272.2,187.1 272.7,187.3 273.2,187.3 273.7,187.0 274.2,187.5 274.7,187.3 275.2,187.7 275.7,187.6 276.2,187.7 276.7,187.4 277.2,187.7 277.7,187.6 278.2,187.2 278.7,187.5 279.2,187.6 279.7,187.5 280.2,187.5 280.7,187.2 281.2,187.3 281.7,186.9 282.2,187.2 282.7,187.7 283.2,187.7 283.7,187.7 284.2,187.4 284.7,187.6 285.2,187.6 285.7,187.4 286.2,187.6 286.7,187.9 287.2,187.9 287.7,187.6 288.2,187.6 288.7,187.6 289.2,187.5 289.7,187.2 290.2,187.0 290.7,187.3 291.2,187.1 291.7,187.1 292.2,187.5 292.7,187.5 293.2,187.2 293.7,187.6 294.2,187.4 294.7,187.9 295.2,187.9 295.7,187.9 296.2,188.1 296.7,188.1 297.2,187.7 297.7,187.4 298.2,187.9 298.7,187.5 299.2,187.8 299.7,187.3 300.2,187.5 300.7,187.1 301.2,187.5 301.7,187.3 302.2,187.1 302.7,187.4 303.2,187.0 303.7,186.6 304.2,187.0 304.7,186.8 305.2,186.6 305.7,186.8 306.2,186.7 306.7,186.8 307.2,186.4 307.7,186.0 308.2,185.9 308.7,186.2 309.2,185.6 309.7,185.8 310.2,185.8 310.7,185.7 311.2,185.9 311.7,185.8 312.2,186.1 312.7,186.0 313.2,186.4 313.7,186.5 314.2,186.1 314.7,186.2 315.2,185.5 315.7,185.6 316.2,185.5 316.7,186.0 317.2,185.4 317.7,185.8 318.2,185.3 318.7,185.7 319.2,185.8 319.7,185.4 320.2,184.8 320.7,185.3 321.2,185.3 321.7,185.0 322.2,184.8 322.7,184.3 323.2,184.3 323.7,184.7 324.2,184.0 324.7,183.9 325.2,183.5 325.7,183.3 326.2,183.0 326.7,182.4 327.2,182.9 327.7,181.7 328.2,181.5 328.7,180.9 329.2,180.8 329.7,180.3 330.2,179.5 330.7,178.8 331.2,178.4 331.7,177.4 332.2,175.9 332.7,175.1 333.2,174.2 333.7,173.2 334.2,172.1 334.7,170.6 335.2,169.8 335.7,168.5 336.2,167.2 336.7,166.0 337.2,165.1 337.7,163.8 338.2,162.7 338.7,160.9 339.2,159.6 339.7,157.9 340.2,156.7 340.7,155.3 341.2,154.0 341.7,153.2 342.2,151.8 342.7,150.8 343.2,149.8 343.7,149.4 344.2,148.3 344.7,147.8 345.2,147.1 345.7,146.4 346.2,145.7 346.7,144.8 347.2,144.3 347.7,144.6 348.2,143.9 348.7,143.6 349.2,143.2 349.7,143.0 350.2,143.7 350.7,143.1 351.2,143.0 351.7,142.9 352.2,142.7 352.7,142.7 353.2,143.0 353.7,143.4 354.2,143.8 354.7,144.4 355.2,144.7 355.7,145.5 356.2,146.6 356.7,147.2 357.2,147.9 357.7,148.8 358.2,150.7 358.7,151.8 359.2,152.6 359.7,154.0 360.2,154.2 360.7,155.5 361.2,156.1 361.7,157.0 362.2,157.8 362.7,158.5 363.2,159.6 363.7,160.1 364.2,160.7 364.7,161.7 365.2,162.4 365.7,162.7 366.2,163.3 366.7,164.1 367.2,164.6 367.7,165.3 368.2,166.1 368.7,166.5 369.2,167.5 369.7,167.5 370.2,168.2 370.7,169.3 371.2,170.0 371.7,170.1 372.2,170.5 372.7,170.8 373.2,171.8 373.7,172.2 374.2,172.4 374.7,173.1 375.2,173.6 375.7,173.7 376.2,174.4 376.7,174.5 377.2,174.7 377.7,174.9 378.2,175.3 378.7,175.9 379.2,176.2 379.7,176.5 380.2,176.7 380.7,177.0 381.2,177.5 381.7,177.3 382.2,177.2 382.7,177.8 383.2,177.8 383.7,177.8 384.2,178.0 384.7,178.1 385.2,178.1 385.7,178.7 386.2,178.8 386.7,179.5 387.2,179.7 387.7,180.2 388.2,180.2 388.7,180.3 389.2,180.2 389.7,180.5 390.2,180.3 390.7,180.9 391.2,181.0 391.7,181.0 392.2,181.4 392.7,181.5 393.2,181.6 393.7,181.8 394.2,182.3 394.7,182.0 395.2,181.7 395.7,182.2 396.2,182.7 396.7,182.5 397.2,183.1 397.7,183.0 398.2,183.2 398.7,183.1 399.2,182.9 399.7,183.1 400.2,183.6 400.7,183.0 401.2,183.1 401.7,182.8 402.2,183.1 402.7,183.4 403.2,183.7 403.7,184.1 404.2,183.9 404.7,184.1 405.2,184.0 405.7,184.1 406.2,183.9 406.7,184.4 407.2,183.7 407.7,184.4 408.2,184.4 408.7,184.1 409.2,183.9 409.7,184.3 410.2,184.5 410.7,184.7 411.2,184.3 411.7,184.4 412.2,184.5 412.7,184.4 413.2,184.5 413.7,184.1 414.2,184.1 414.7,184.5 415.2,184.7 415.7,185.0 416.2,185.2 416.7,185.2 417.2,185.2 417.7,185.7 418.2,185.3 418.7,185.1 419.2,185.7 419.7,185.2 420.2,185.3 420.7,185.5 421.2,185.6 421.7,185.0 422.2,185.4 422.7,185.2 423.2,185.0 423.7,185.0 424.2,184.9 424.7,184.5 425.2,184.4 425.7,184.6 426.2,184.9 426.7,184.9 427.2,184.9 427.7,185.0 428.2,184.8 428.7,185.1 429.2,185.1 429.7,184.9 430.2,184.9 430.7,184.8 431.2,184.7 431.7,184.8 432.2,184.2 432.7,184.2 433.2,184.4 433.7,184.1 434.2,184.2 434.7,184.0 435.2,183.8 435.7,184.2 436.2,183.8 436.7,184.3 437.2,183.9 437.7,183.7 438.2,183.9 438.7,184.1 439.2,184.2 439.7,184.4 440.2,183.9 440.7,184.5 441.2,184.2 441.7,184.3 442.2,183.7 442.7,183.2 443.2,183.5 443.7,183.4 444.2,183.4 444.7,183.1 445.2,183.3 445.7,183.3 446.2,183.0 446.7,183.5 447.2,182.8 447.7,183.0 448.2,183.2 448.7,182.8 449.2,182.8 449.7,183.1 450.2,182.6 450.7,182.9 451.2,182.8 451.7,182.6 452.2,182.5 452.7,182.3 453.2,182.3 453.7,182.3 454.2,181.9 454.7,181.7 455.2,181.4 455.7,181.5 456.2,181.5 456.7,181.5 457.2,181.3 457.7,181.0 458.2,181.0 458.7,181.3 459.2,181.3 459.7,181.2 460.2,181.4 460.7,180.9 461.2,181.0 461.7,180.7 462.2,180.9 462.7,180.4 463.2,180.8 463.7,180.6 464.2,180.4 464.7,180.2 465.2,180.2 465.7,179.8 466.2,179.7 466.7,179.7 467.2,179.9 467.7,180.2 468.2,179.8 468.7,179.8 469.2,179.9 469.7,179.8 470.2,179.9 470.7,179.9 471.2,179.7 471.7,179.4 472.2,179.2 472.7,179.4 473.2,178.9 473.7,178.9 474.2,178.2 474.7,178.3 475.2,178.2 475.7,178.0 476.2,177.8 476.7,177.5 477.2,177.0 477.7,176.7 478.2,177.5 478.7,177.0 479.2,177.2 479.7,176.9 480.2,176.7 480.7,177.1 481.2,176.8 481.7,176.8 482.2,176.4 482.7,176.7 483.2,176.8 483.7,176.3 484.2,176.6 484.7,175.9 485.2,175.9 485.7,175.3 486.2,175.2 486.7,176.1 487.2,175.8 487.7,175.6 488.2,175.0 488.7,175.3 489.2,175.3 489.7,175.2 490.2,175.0 490.7,174.6 491.2,174.7 491.7,174.1 492.2,174.1 492.7,174.0 493.2,173.4 493.7,173.2 494.2,172.9 494.7,172.6 495.2,172.5 495.7,172.2 496.2,172.1 496.7,171.6 497.2,171.9 497.7,172.0 498.2,171.5 498.7,171.5 499.2,171.3 499.7,171.7 500.2,171.3 500.7,170.9 501.2,171.1 501.7,171.0 502.2,170.6 502.7,170.5 503.2,170.1 503.7,169.8 504.2,169.5 504.7,169.5 505.2,169.2 505.7,169.4 506.2,169.3 506.7,169.3 507.2,169.3 507.7,169.1 508.2,168.8 508.7,168.8 509.2,168.7 509.7,168.4 510.2,168.7 510.7,168.5 511.2,168.5 511.7,168.5 512.2,168.7 512.7,168.4 513.2,168.7 513.7,168.6 514.2,168.4 514.7,168.5 515.2,168.5 515.7,168.5 516.2,168.3 516.7,168.5 517.2,168.3 517.7,168.5 518.2,168.9 518.7,169.2 519.2,169.3 519.7,169.2 520.2,169.6 520.7,169.9 521.2,170.7 521.7,171.0 522.2,171.4 522.7,171.3 523.2,171.7 523.7,172.1 524.2,172.3 524.7,172.6 525.2,172.7 525.7,173.5 526.2,173.7 526.7,174.7 527.2,175.1 527.7,175.6 528.2,176.7 528.7,177.5 529.2,177.7 529.7,178.4 530.2,179.0 530.7,179.4 531.2,179.6 531.7,180.6 532.2,180.8 532.7,180.8 533.2,181.1 533.7,181.9 534.2,182.8 534.7,183.0 535.2,183.4 535.7,183.3 536.2,183.9 536.7,184.0 537.2,185.1 537.7,185.1 538.2,184.9 538.7,185.3 539.2,186.2 539.7,186.4 540.2,186.5 540.7,186.8 541.2,186.9 541.7,186.6 542.2,186.1 542.7,186.5 543.2,186.2 543.7,186.4 544.2,186.6 544.7,186.6 545.2,186.5 545.7,186.9 546.2,186.9 546.7,187.2 547.2,186.9 547.7,187.1 548.2,187.1 548.7,187.3 549.2,187.2 549.7,187.2 550.2,187.2 550.7,187.3 551.2,187.1 551.7,188.0 552.2,187.3 552.7,187.6 553.2,187.7 553.7,187.7 554.2,187.7 554.7,187.4 555.2,187.4 555.7,187.1 556.2,187.2 556.7,187.1 557.2,187.7 557.7,187.1 558.2,187.4 558.7,187.6 559.2,187.8 559.7,187.2 560.2,187.2 560.7,187.6 561.2,187.5 561.7,187.0 562.2,186.9 562.7,187.2 563.2,187.4 563.7,187.2 564.2,187.3 564.7,187.1 565.2,187.1 565.7,187.1 566.2,186.9 566.7,186.8 567.2,186.8 567.7,186.9 568.2,187.2 568.7,187.0 569.2,187.0 569.7,187.3 570.2,187.3 570.7,187.2 571.2,186.8 571.7,187.1 572.2,187.3 572.7,186.6 573.2,186.4 573.7,186.5 574.2,186.4 574.7,186.3 575.2,186.3 575.7,186.8 576.2,186.8 576.7,186.7 577.2,186.6 577.7,186.5 578.2,186.7 578.7,186.4 579.2,186.6 579.7,186.3 580.2,187.0 580.7,187.0 581.2,186.7 581.7,186.4 582.2,186.6 582.7,186.4 583.2,186.5 583.7,186.2 584.2,186.2 584.7,185.9 585.2,186.3 585.7,185.9 586.2,186.6 586.7,186.6 587.2,186.1 587.7,186.3 588.2,186.3 588.7,186.1 589.2,185.4 589.7,185.9 590.2,185.4 590.7,185.7 591.2,185.8 591.7,186.1 592.2,186.3 592.7,185.8 593.2,186.0 593.7,186.0 594.2,185.9 594.7,186.0 595.2,185.5 595.7,185.9 596.2,186.1 596.7,186.1 597.2,185.6 597.7,185.8 598.2,186.0"/>
<path class="c" stroke="#1264dc" stroke-width="2.9" d="M71.7,166.2 72.2,166.4 72.7,165.9 73.2,165.1 73.7,165.0 74.2,165.5 74.7,165.0 75.2,165.4 75.7,166.1 76.2,165.6 76.7,167.0 77.2,166.0 77.7,166.9 78.2,166.3 78.7,167.2 79.2,165.5 79.7,165.4 80.2,166.7 80.7,165.7 81.2,165.7 81.7,166.0 82.2,166.2 82.7,165.2 83.2,166.3 83.7,165.9 84.2,165.4 84.7,165.3 85.2,165.0 85.7,165.7 86.2,165.7 86.7,165.0 87.2,165.0 87.7,165.8 88.2,165.9 88.7,166.3 89.2,165.6 89.7,165.9 90.2,166.7 90.7,165.8 91.2,167.3 91.7,166.5 92.2,165.9 92.7,165.5 93.2,166.6 93.7,165.7 94.2,165.7 94.7,165.1 95.2,166.4 95.7,166.0 96.2,166.0 96.7,166.0 97.2,166.0 97.7,166.2 98.2,166.7 98.7,166.2 99.2,164.8 99.7,166.9 100.2,166.7 100.7,166.7 101.2,167.4 101.7,165.7 102.2,164.7 102.7,167.0 103.2,166.8 103.7,165.3 104.2,165.8 104.7,166.3 105.2,165.2 105.7,166.2 106.2,167.0 106.7,166.8 107.2,165.9 107.7,166.2 108.2,165.8 108.7,166.5 109.2,166.2 109.7,165.8 110.2,165.8 110.7,167.7 111.2,166.6 111.7,166.2 112.2,166.6 112.7,167.3 113.2,167.6 113.7,166.1 114.2,166.5 114.7,166.9 115.2,165.9 115.7,165.4 116.2,165.5 116.7,166.3 117.2,165.9 117.7,165.7 118.2,166.6 118.7,167.3 119.2,167.2 119.7,166.4 120.2,167.3 120.7,165.5 121.2,165.9 121.7,165.0 122.2,166.3 122.7,166.0 123.2,164.8 123.7,165.4 124.2,167.7 124.7,167.2 125.2,166.7 125.7,167.2 126.2,165.4 126.7,165.5 127.2,165.4 127.7,165.8 128.2,165.4 128.7,166.2 129.2,166.3 129.7,166.4 130.2,167.5 130.7,165.5 131.2,165.8 131.7,165.9 132.2,165.1 132.7,165.5 133.2,165.7 133.7,164.9 134.2,165.8 134.7,166.2 135.2,165.0 135.7,164.5 136.2,165.9 136.7,165.1 137.2,166.1 137.7,165.5 138.2,165.9 138.7,166.6 139.2,166.1 139.7,164.9 140.2,164.6 140.7,163.6 141.2,163.3 141.7,164.0 142.2,164.0 142.7,163.2 143.2,163.4 143.7,162.6 144.2,162.4 144.7,162.2 145.2,163.6 145.7,161.8 146.2,163.8 146.7,162.7 147.2,163.1 147.7,163.0 148.2,163.0 148.7,163.4 149.2,162.0 149.7,161.9 150.2,162.0 150.7,161.4 151.2,162.4 151.7,162.0 152.2,162.3 152.7,162.6 153.2,162.1 153.7,162.8 154.2,160.8 154.7,162.0 155.2,162.0 155.7,161.1 156.2,160.7 156.7,161.2 157.2,160.6 157.7,159.7 158.2,160.1 158.7,161.6 159.2,160.3 159.7,161.9 160.2,161.6 160.7,160.5 161.2,160.8 161.7,159.8 162.2,160.2 162.7,160.1 163.2,161.1 163.7,159.5 164.2,160.5 164.7,160.7 165.2,161.0 165.7,159.4 166.2,159.4 166.7,159.6 167.2,159.6 167.7,159.8 168.2,159.6 168.7,160.6 169.2,159.4 169.7,159.5 170.2,158.7 170.7,159.7 171.2,159.4 171.7,159.1 172.2,158.5 172.7,159.0 173.2,159.8 173.7,158.3 174.2,157.6 174.7,159.4 175.2,159.6 175.7,159.3 176.2,159.1 176.7,161.1 177.2,158.9 177.7,158.1 178.2,158.4 178.7,158.8 179.2,158.1 179.7,158.0 180.2,158.7 180.7,158.2 181.2,158.5 181.7,158.4 182.2,157.5 182.7,157.9 183.2,157.2 183.7,158.3 184.2,157.1 184.7,157.4 185.2,156.4 185.7,157.2 186.2,156.9 186.7,158.9 187.2,157.8 187.7,158.4 188.2,156.7 188.7,156.7 189.2,157.8 189.7,157.0 190.2,158.2 190.7,157.3 191.2,157.3 191.7,157.6 192.2,157.7 192.7,158.6 193.2,157.6 193.7,158.1 194.2,158.7 194.7,157.9 195.2,158.1 195.7,157.7 196.2,157.9 196.7,158.1 197.2,157.1 197.7,156.5 198.2,157.8 198.7,157.8 199.2,158.5 199.7,158.3 200.2,159.2 200.7,157.6 201.2,158.2 201.7,159.2 202.2,158.3 202.7,159.1 203.2,158.4 203.7,157.3 204.2,158.8 204.7,159.7 205.2,158.5 205.7,157.5 206.2,159.1 206.7,157.8 207.2,158.5 207.7,159.0 208.2,158.6 208.7,157.8 209.2,158.9 209.7,158.9 210.2,158.0 210.7,158.0 211.2,158.8 211.7,158.1 212.2,157.4 212.7,157.4 213.2,158.0 213.7,157.9 214.2,157.9 214.7,157.3 215.2,158.0 215.7,157.8 216.2,158.2 216.7,158.8 217.2,158.6 217.7,158.8 218.2,158.5 218.7,158.2 219.2,158.6 219.7,158.0 220.2,158.0 220.7,157.8 221.2,158.4 221.7,158.3 222.2,159.3 222.7,158.4 223.2,157.9 223.7,158.5 224.2,157.8 224.7,158.5 225.2,158.1 225.7,159.2 226.2,156.8 226.7,157.5 227.2,157.3 227.7,157.7 228.2,158.1 228.7,157.0 229.2,157.4 229.7,157.7 230.2,158.0 230.7,156.3 231.2,156.0 231.7,157.2 232.2,156.8 232.7,156.5 233.2,154.9 233.7,155.5 234.2,155.8 234.7,155.9 235.2,155.5 235.7,156.2 236.2,156.9 236.7,156.5 237.2,156.3 237.7,156.3 238.2,156.5 238.7,157.4 239.2,157.5 239.7,157.4 240.2,158.6 240.7,158.3 241.2,158.3 241.7,160.1 242.2,159.1 242.7,159.5 243.2,159.9 243.7,159.7 244.2,160.1 244.7,160.3 245.2,159.9 245.7,160.4 246.2,160.8 246.7,161.1 247.2,161.0 247.7,162.2 248.2,161.1 248.7,160.7 249.2,160.9 249.7,161.1 250.2,161.8 250.7,161.6 251.2,162.7 251.7,161.2 252.2,162.4 252.7,162.6 253.2,162.0 253.7,163.5 254.2,163.6 254.7,162.9 255.2,164.5 255.7,163.9 256.2,163.2 256.7,163.4 257.2,163.0 257.7,163.1 258.2,162.8 258.7,162.3 259.2,162.5 259.7,162.8 260.2,163.0 260.7,162.7 261.2,162.4 261.7,163.3 262.2,163.5 262.7,163.0 263.2,161.9 263.7,162.9 264.2,163.3 264.7,162.8 265.2,163.1 265.7,162.9 266.2,161.8 266.7,161.2 267.2,163.0 267.7,162.4 268.2,163.1 268.7,162.8 269.2,162.9 269.7,163.8 270.2,162.2 270.7,162.6 271.2,161.6 271.7,162.3 272.2,162.7 272.7,162.6 273.2,162.4 273.7,161.4 274.2,162.5 274.7,163.2 275.2,163.7 275.7,164.4 276.2,163.3 276.7,162.7 277.2,162.9 277.7,163.4 278.2,163.9 278.7,162.3 279.2,163.3 279.7,162.8 280.2,162.3 280.7,163.1 281.2,162.3 281.7,162.4 282.2,162.2 282.7,162.4 283.2,161.5 283.7,162.4 284.2,160.5 284.7,161.3 285.2,161.4 285.7,162.5 286.2,162.0 286.7,161.4 287.2,161.0 287.7,161.7 288.2,161.3 288.7,163.0 289.2,160.2 289.7,162.0 290.2,160.5 290.7,162.9 291.2,162.2 291.7,163.7 292.2,162.5 292.7,163.4 293.2,163.0 293.7,163.5 294.2,163.2 294.7,161.1 295.2,162.3 295.7,161.6 296.2,163.0 296.7,162.5 297.2,161.9 297.7,162.4 298.2,161.8 298.7,161.3 299.2,162.6 299.7,161.5 300.2,161.6 300.7,160.6 301.2,161.5 301.7,161.5 302.2,161.7 302.7,161.8 303.2,161.9 303.7,161.1 304.2,161.3 304.7,160.6 305.2,160.7 305.7,160.9 306.2,161.8 306.7,161.5 307.2,161.0 307.7,160.6 308.2,160.8 308.7,161.4 309.2,161.3 309.7,159.2 310.2,159.7 310.7,159.7 311.2,160.1 311.7,159.4 312.2,159.8 312.7,158.5 313.2,160.2 313.7,158.9 314.2,159.2 314.7,159.3 315.2,159.3 315.7,159.5 316.2,159.6 316.7,159.5 317.2,158.8 317.7,159.3 318.2,159.8 318.7,158.5 319.2,158.1 319.7,158.0 320.2,159.0 320.7,158.7 321.2,157.4 321.7,157.6 322.2,157.8 322.7,157.9 323.2,156.1 323.7,156.9 324.2,157.2 324.7,157.8 325.2,157.7 325.7,157.0 326.2,157.0 326.7,155.3 327.2,158.1 327.7,156.3 328.2,155.9 328.7,154.9 329.2,155.6 329.7,156.6 330.2,156.4 330.7,154.8 331.2,154.2 331.7,155.2 332.2,155.1 332.7,155.1 333.2,153.3 333.7,153.4 334.2,153.2 334.7,152.5 335.2,152.7 335.7,150.5 336.2,149.7 336.7,149.8 337.2,149.9 337.7,148.6 338.2,147.4 338.7,147.3 339.2,145.8 339.7,144.3 340.2,143.4 340.7,142.0 341.2,141.1 341.7,139.5 342.2,137.7 342.7,136.5 343.2,134.9 343.7,134.1 344.2,132.6 344.7,130.4 345.2,129.6 345.7,128.4 346.2,127.9 346.7,126.5 347.2,126.9 347.7,125.1 348.2,124.9 348.7,123.8 349.2,122.3 349.7,122.3 350.2,121.9 350.7,121.5 351.2,121.1 351.7,120.1 352.2,119.3 352.7,119.2 353.2,119.6 353.7,119.5 354.2,116.8 354.7,118.5 355.2,118.3 355.7,118.1 356.2,117.8 356.7,118.2 357.2,117.8 357.7,118.7 358.2,119.8 358.7,119.4 359.2,120.7 359.7,122.1 360.2,121.8 360.7,123.4 361.2,123.4 361.7,125.2 362.2,126.1 362.7,126.9 363.2,127.4 363.7,128.6 364.2,128.4 364.7,130.2 365.2,131.6 365.7,133.2 366.2,132.7 366.7,133.4 367.2,135.3 367.7,136.4 368.2,136.1 368.7,137.9 369.2,138.8 369.7,139.1 370.2,139.0 370.7,139.4 371.2,140.3 371.7,141.4 372.2,140.1 372.7,141.6 373.2,142.1 373.7,140.6 374.2,141.4 374.7,143.4 375.2,143.7 375.7,143.9 376.2,144.5 376.7,145.5 377.2,144.9 377.7,147.5 378.2,145.6 378.7,145.4 379.2,146.7 379.7,147.7 380.2,146.5 380.7,146.6 381.2,146.5 381.7,147.1 382.2,146.5 382.7,147.0 383.2,146.7 383.7,147.8 384.2,149.6 384.7,149.0 385.2,149.0 385.7,150.3 386.2,149.0 386.7,149.0 387.2,150.6 387.7,150.0 388.2,151.3 388.7,151.8 389.2,150.8 389.7,151.3 390.2,152.9 390.7,151.1 391.2,151.1 391.7,151.9 392.2,151.2 392.7,151.1 393.2,152.7 393.7,151.7 394.2,152.3 394.7,152.3 395.2,152.4 395.7,151.8 396.2,153.4 396.7,152.8 397.2,154.1 397.7,152.9 398.2,153.2 398.7,153.7 399.2,153.8 399.7,153.2 400.2,153.2 400.7,152.7 401.2,153.8 401.7,152.1 402.2,154.3 402.7,154.9 403.2,154.9 403.7,155.4 404.2,155.5 404.7,156.1 405.2,155.4 405.7,155.8 406.2,155.5 406.7,154.1 407.2,156.4 407.7,156.0 408.2,156.0 408.7,155.4 409.2,156.6 409.7,156.4 410.2,155.1 410.7,155.2 411.2,156.6 411.7,156.2 412.2,156.7 412.7,156.3 413.2,157.2 413.7,155.5 414.2,156.0 414.7,156.3 415.2,156.4 415.7,156.8 416.2,157.5 416.7,156.8 417.2,158.3 417.7,158.9 418.2,158.8 418.7,159.4 419.2,158.5 419.7,157.7 420.2,158.4 420.7,157.6 421.2,158.2 421.7,157.1 422.2,155.6 422.7,156.4 423.2,157.4 423.7,158.0 424.2,157.5 424.7,158.3 425.2,157.0 425.7,157.3 426.2,158.3 426.7,157.5 427.2,157.3 427.7,158.2 428.2,157.9 428.7,157.1 429.2,157.2 429.7,155.8 430.2,156.9 430.7,157.3 431.2,156.4 431.7,158.1 432.2,158.3 432.7,157.2 433.2,158.2 433.7,158.2 434.2,157.4 434.7,158.1 435.2,157.4 435.7,156.2 436.2,156.8 436.7,156.9 437.2,157.5 437.7,157.2 438.2,157.6 438.7,156.6 439.2,156.3 439.7,158.2 440.2,158.5 440.7,157.3 441.2,157.0 441.7,158.1 442.2,156.4 442.7,157.1 443.2,156.3 443.7,157.4 444.2,157.1 444.7,156.1 445.2,155.8 445.7,155.1 446.2,155.2 446.7,156.3 447.2,155.2 447.7,156.2 448.2,154.8 448.7,155.7 449.2,155.4 449.7,155.4 450.2,156.3 450.7,154.6 451.2,155.8 451.7,155.6 452.2,155.1 452.7,154.7 453.2,154.6 453.7,155.2 454.2,154.5 454.7,153.5 455.2,154.4 455.7,154.7 456.2,154.2 456.7,153.8 457.2,153.5 457.7,153.0 458.2,153.0 458.7,152.2 459.2,153.2 459.7,154.1 460.2,153.4 460.7,153.5 461.2,154.6 461.7,153.6 462.2,153.4 462.7,153.2 463.2,153.3 463.7,152.7 464.2,151.8 464.7,153.0 465.2,151.5 465.7,150.7 466.2,151.7 466.7,152.4 467.2,150.4 467.7,151.6 468.2,150.6 468.7,151.9 469.2,151.2 469.7,151.2 470.2,151.3 470.7,151.3 471.2,150.3 471.7,150.9 472.2,150.4 472.7,151.0 473.2,149.4 473.7,149.9 474.2,148.8 474.7,150.0 475.2,148.2 475.7,148.4 476.2,148.9 476.7,148.5 477.2,148.7 477.7,148.1 478.2,148.3 478.7,147.7 479.2,148.6 479.7,148.9 480.2,148.9 480.7,148.2 481.2,148.7 481.7,148.4 482.2,148.6 482.7,147.9 483.2,147.6 483.7,147.5 484.2,146.1 484.7,147.7 485.2,147.0 485.7,147.9 486.2,145.3 486.7,146.9 487.2,145.8 487.7,145.8 488.2,145.1 488.7,145.5 489.2,145.3 489.7,145.4 490.2,144.9 490.7,144.9 491.2,144.9 491.7,144.7 492.2,144.6 492.7,145.1 493.2,144.1 493.7,144.5 494.2,143.9 494.7,143.6 495.2,142.3 495.7,144.4 496.2,143.2 496.7,144.5 497.2,145.1 497.7,143.2 498.2,144.5 498.7,143.7 499.2,143.6 499.7,142.3 500.2,142.9 500.7,143.1 501.2,143.4 501.7,143.7 502.2,142.5 502.7,142.3 503.2,143.8 503.7,142.6 504.2,142.4 504.7,142.4 505.2,143.0 505.7,142.8 506.2,142.0 506.7,142.5 507.2,143.7 507.7,143.6 508.2,143.0 508.7,142.7 509.2,142.3 509.7,143.5 510.2,142.9 510.7,143.2 511.2,142.7 511.7,142.7 512.2,142.8 512.7,142.9 513.2,142.6 513.7,143.0 514.2,143.0 514.7,142.8 515.2,142.9 515.7,143.4 516.2,144.3 516.7,144.8 517.2,144.3 517.7,144.2 518.2,144.5 518.7,145.7 519.2,145.5 519.7,144.4 520.2,145.2 520.7,145.2 521.2,145.9 521.7,145.7 522.2,146.9 522.7,146.7 523.2,147.0 523.7,148.9 524.2,148.8 524.7,148.5 525.2,148.6 525.7,149.0 526.2,148.9 526.7,149.4 527.2,150.9 527.7,150.9 528.2,152.4 528.7,152.5 529.2,152.7 529.7,154.5 530.2,154.3 530.7,154.3 531.2,155.6 531.7,155.4 532.2,154.8 532.7,155.1 533.2,155.2 533.7,154.6 534.2,157.0 534.7,157.3 535.2,156.1 535.7,157.5 536.2,156.7 536.7,159.0 537.2,158.7 537.7,159.2 538.2,160.5 538.7,160.1 539.2,160.1 539.7,161.1 540.2,160.4 540.7,161.1 541.2,160.4 541.7,160.5 542.2,160.4 542.7,160.5 543.2,159.6 543.7,161.2 544.2,160.1 544.7,161.5 545.2,160.8 545.7,161.1 546.2,161.5 546.7,162.4 547.2,161.4 547.7,162.0 548.2,160.7 548.7,161.2 549.2,161.5 549.7,161.2 550.2,160.0 550.7,161.1 551.2,160.5 551.7,162.0 552.2,161.0 552.7,162.3 553.2,161.3 553.7,161.5 554.2,161.2 554.7,161.5 555.2,161.8 555.7,160.7 556.2,162.6 556.7,161.4 557.2,161.8 557.7,160.1 558.2,162.2 558.7,162.1 559.2,161.6 559.7,161.5 560.2,161.0 560.7,161.1 561.2,161.8 561.7,160.8 562.2,160.9 562.7,161.4 563.2,161.0 563.7,161.2 564.2,161.0 564.7,160.8 565.2,162.4 565.7,160.8 566.2,161.9 566.7,161.5 567.2,159.6 567.7,161.1 568.2,161.4 568.7,161.4 569.2,160.5 569.7,161.3 570.2,161.0 570.7,160.6 571.2,161.1 571.7,161.0 572.2,161.8 572.7,160.8 573.2,160.9 573.7,159.6 574.2,159.6 574.7,159.8 575.2,161.0 575.7,159.1 576.2,159.1 576.7,160.2 577.2,161.2 577.7,159.7 578.2,160.2 578.7,160.3 579.2,161.9 579.7,161.4 580.2,161.3 580.7,161.0 581.2,160.7 581.7,160.7 582.2,160.0 582.7,159.4 583.2,159.4 583.7,160.1 584.2,159.5 584.7,160.6 585.2,159.0 585.7,161.0 586.2,161.1 586.7,161.6 587.2,160.8 587.7,160.1 588.2,160.6 588.7,161.6 589.2,160.3 589.7,159.9 590.2,160.0 590.7,160.0 591.2,159.9 591.7,159.2 592.2,160.0 592.7,161.0 593.2,161.6 593.7,161.0 594.2,160.9 594.7,162.2"/>
<path class="c" stroke="#3144bd" stroke-width="2.8" d="M71.7,140.0 72.2,140.2 72.7,140.4 73.2,139.8 73.7,141.9 74.2,141.1 74.7,141.2 75.2,140.2 75.7,140.3 76.2,140.7 76.7,141.1 77.2,139.2 77.7,140.3 78.2,140.0 78.7,140.6 79.2,140.2 79.7,141.9 80.2,141.0 80.7,140.2 81.2,141.1 81.7,140.6 82.2,140.1 82.7,140.9 83.2,140.3 83.7,140.2 84.2,140.5 84.7,140.1 85.2,140.1 85.7,140.7 86.2,139.9 86.7,139.9 87.2,140.0 87.7,139.3 88.2,139.4 88.7,139.0 89.2,140.9 89.7,139.9 90.2,139.9 90.7,139.7 91.2,140.2 91.7,140.0 92.2,140.3 92.7,139.8 93.2,139.2 93.7,141.3 94.2,139.3 94.7,139.9 95.2,140.9 95.7,138.9 96.2,140.5 96.7,139.8 97.2,139.9 97.7,139.9 98.2,139.0 98.7,138.3 99.2,140.6 99.7,139.1 100.2,139.8 100.7,140.0 101.2,139.4 101.7,139.3 102.2,139.3 102.7,139.8 103.2,138.9 103.7,139.5 104.2,138.5 104.7,138.6 105.2,139.0 105.7,139.6 106.2,139.7 106.7,140.7 107.2,140.1 107.7,139.7 108.2,140.5 108.7,139.6 109.2,139.4 109.7,139.2 110.2,138.6 110.7,138.0 111.2,138.7 111.7,138.4 112.2,138.1 112.7,138.3 113.2,138.1 113.7,138.2 114.2,137.5 114.7,138.3 115.2,139.6 115.7,139.0 116.2,139.1 116.7,138.9 117.2,139.2 117.7,138.0 118.2,138.2 118.7,138.8 119.2,137.1 119.7,138.2 120.2,138.3 120.7,138.6 121.2,137.6 121.7,138.1 122.2,137.4 122.7,137.3 123.2,136.6 123.7,137.4 124.2,138.6 124.7,138.2 125.2,137.5 125.7,138.9 126.2,137.9 126.7,136.6 127.2,136.8 127.7,136.9 128.2,138.4 128.7,137.0 129.2,137.5 129.7,137.9 130.2,136.7 130.7,137.3 131.2,136.3 131.7,137.4 132.2,135.4 132.7,136.3 133.2,137.9 133.7,137.0 134.2,136.5 134.7,136.9 135.2,137.8 135.7,137.1 136.2,137.5 136.7,136.8 137.2,136.9 137.7,136.4 138.2,137.1 138.7,136.9 139.2,138.0 139.7,137.7 140.2,137.0 140.7,136.7 141.2,135.4 141.7,136.6 142.2,137.2 142.7,136.7 143.2,134.3 143.7,134.5 144.2,136.3 144.7,135.7 145.2,135.8 145.7,135.8 146.2,136.4 146.7,135.0 147.2,136.0 147.7,137.2 148.2,136.8 148.7,135.9 149.2,136.7 149.7,136.5 150.2,135.6 150.7,136.8 151.2,136.8 151.7,136.1 152.2,136.3 152.7,135.3 153.2,136.6 153.7,136.1 154.2,135.7 154.7,135.9 155.2,136.5 155.7,135.5 156.2,135.9 156.7,135.9 157.2,135.7 157.7,136.8 158.2,137.5 158.7,137.1 159.2,137.1 159.7,137.0 160.2,136.3 160.7,136.0 161.2,135.2 161.7,137.0 162.2,136.0 162.7,135.8 163.2,135.7 163.7,136.3 164.2,135.8 164.7,136.1 165.2,136.7 165.7,137.1 166.2,135.4 166.7,136.1 167.2,135.3 167.7,135.7 168.2,136.7 168.7,136.4 169.2,135.6 169.7,136.2 170.2,136.3 170.7,137.1 171.2,136.3 171.7,136.9 172.2,136.8 172.7,136.5 173.2,136.8 173.7,136.6 174.2,136.6 174.7,137.2 175.2,136.5 175.7,136.5 176.2,137.0 176.7,136.9 177.2,137.7 177.7,137.8 178.2,136.4 178.7,137.3 179.2,137.2 179.7,138.1 180.2,138.2 180.7,136.7 181.2,136.7 181.7,136.6 182.2,136.3 182.7,137.1 183.2,137.2 183.7,137.2 184.2,137.6 184.7,137.6 185.2,137.0 185.7,136.9 186.2,136.7 186.7,137.5 187.2,137.3 187.7,137.5 188.2,136.4 188.7,136.4 189.2,136.8 189.7,137.3 190.2,136.6 190.7,136.3 191.2,135.6 191.7,136.2 192.2,136.2 192.7,135.1 193.2,137.2 193.7,135.6 194.2,136.9 194.7,136.5 195.2,136.6 195.7,136.3 196.2,136.4 196.7,137.4 197.2,136.3 197.7,136.7 198.2,137.9 198.7,137.7 199.2,137.6 199.7,137.3 200.2,138.3 200.7,136.7 201.2,137.3 201.7,137.1 202.2,135.5 202.7,135.0 203.2,136.1 203.7,136.4 204.2,136.1 204.7,135.8 205.2,135.4 205.7,136.2 206.2,135.7 206.7,135.5 207.2,137.0 207.7,136.9 208.2,137.0 208.7,137.1 209.2,137.5 209.7,137.1 210.2,136.6 210.7,135.6 211.2,136.9 211.7,136.6 212.2,137.1 212.7,137.4 213.2,136.8 213.7,137.0 214.2,135.9 214.7,135.7 215.2,135.3 215.7,135.4 216.2,135.7 216.7,136.0 217.2,135.2 217.7,136.1 218.2,137.4 218.7,134.9 219.2,135.5 219.7,135.9 220.2,136.9 220.7,137.5 221.2,136.8 221.7,136.0 222.2,135.5 222.7,136.2 223.2,136.1 223.7,136.1 224.2,135.2 224.7,136.7 225.2,135.8 225.7,136.5 226.2,136.2 226.7,135.3 227.2,136.1 227.7,136.1 228.2,135.9 228.7,136.6 229.2,135.7 229.7,137.6 230.2,136.6 230.7,135.5 231.2,134.6 231.7,136.9 232.2,136.3 232.7,136.3 233.2,135.5 233.7,135.8 234.2,135.5 234.7,138.0 235.2,137.5 235.7,136.4 236.2,138.1 236.7,136.0 237.2,137.8 237.7,137.4 238.2,136.7 238.7,137.1 239.2,136.6 239.7,137.3 240.2,138.2 240.7,137.8 241.2,137.3 241.7,137.7 242.2,135.6 242.7,137.8 243.2,136.6 243.7,135.5 244.2,135.6 244.7,135.1 245.2,135.8 245.7,136.3 246.2,134.7 246.7,136.9 247.2,137.5 247.7,135.6 248.2,137.1 248.7,137.3 249.2,137.0 249.7,137.0 250.2,135.9 250.7,137.5 251.2,136.4 251.7,138.7 252.2,136.9 252.7,136.9 253.2,138.3 253.7,138.4 254.2,138.0 254.7,137.7 255.2,138.1 255.7,139.0 256.2,137.8 256.7,137.6 257.2,137.6 257.7,137.6 258.2,137.4 258.7,136.8 259.2,137.6 259.7,136.5 260.2,137.2 260.7,137.4 261.2,137.2 261.7,138.4 262.2,138.5 262.7,138.2 263.2,138.5 263.7,137.3 264.2,137.9 264.7,137.3 265.2,138.1 265.7,137.9 266.2,136.5 266.7,136.8 267.2,137.0 267.7,137.3 268.2,137.2 268.7,136.6 269.2,136.6 269.7,137.4 270.2,137.0 270.7,137.2 271.2,137.6 271.7,137.8 272.2,137.1 272.7,136.2 273.2,136.8 273.7,137.3 274.2,136.7 274.7,136.9 275.2,136.1 275.7,137.8 276.2,136.8 276.7,138.1 277.2,137.9 277.7,137.7 278.2,137.8 278.7,136.8 279.2,139.5 279.7,137.0 280.2,137.8 280.7,137.1 281.2,136.7 281.7,138.4 282.2,136.4 282.7,137.4 283.2,137.8 283.7,137.2 284.2,137.4 284.7,136.9 285.2,136.9 285.7,136.5 286.2,136.9 286.7,137.5 287.2,137.0 287.7,138.1 288.2,137.3 288.7,137.4 289.2,136.8 289.7,136.1 290.2,137.8 290.7,136.7 291.2,137.3 291.7,138.9 292.2,136.6 292.7,137.7 293.2,138.2 293.7,138.1 294.2,137.7 294.7,137.7 295.2,139.0 295.7,137.0 296.2,138.0 296.7,139.3 297.2,138.6 297.7,137.5 298.2,137.2 298.7,137.5 299.2,139.3 299.7,137.7 300.2,136.6 300.7,137.1 301.2,137.0 301.7,138.5 302.2,138.2 302.7,138.5 303.2,137.5 303.7,138.4 304.2,137.4 304.7,137.2 305.2,136.3 305.7,136.5 306.2,136.8 306.7,136.1 307.2,138.0 307.7,136.8 308.2,136.3 308.7,137.3 309.2,136.1 309.7,136.5 310.2,136.1 310.7,135.9 311.2,137.2 311.7,136.4 312.2,137.0 312.7,136.3 313.2,135.7 313.7,135.8 314.2,136.0 314.7,136.0 315.2,136.2 315.7,136.2 316.2,134.9 316.7,135.9 317.2,134.5 317.7,134.7 318.2,136.5 318.7,135.9 319.2,134.9 319.7,136.1 320.2,136.0 320.7,135.4 321.2,136.0 321.7,135.1 322.2,135.2 322.7,134.8 323.2,135.5 323.7,134.4 324.2,134.8 324.7,135.4 325.2,134.7 325.7,135.3 326.2,135.8 326.7,133.8 327.2,135.0 327.7,133.8 328.2,133.0 328.7,133.8 329.2,134.4 329.7,133.4 330.2,133.4 330.7,133.4 331.2,133.5 331.7,134.0 332.2,133.6 332.7,133.7 333.2,133.6 333.7,133.0 334.2,133.8 334.7,132.6 335.2,132.0 335.7,133.4 336.2,132.8 336.7,131.7 337.2,131.7 337.7,131.0 338.2,130.3 338.7,130.7 339.2,129.8 339.7,130.0 340.2,127.6 340.7,128.2 341.2,126.9 341.7,125.4 342.2,124.5 342.7,123.6 343.2,122.3 343.7,121.6 344.2,121.6 344.7,119.3 345.2,119.7 345.7,117.8 346.2,118.2 346.7,118.0 347.2,117.1 347.7,116.5 348.2,115.2 348.7,115.5 349.2,113.3 349.7,113.7 350.2,112.0 350.7,110.9 351.2,111.2 351.7,109.2 352.2,108.7 352.7,107.2 353.2,106.2 353.7,105.7 354.2,104.9 354.7,103.5 355.2,102.4 355.7,101.8 356.2,101.1 356.7,99.7 357.2,98.5 357.7,97.1 358.2,98.0 358.7,97.5 359.2,98.1 359.7,96.9 360.2,96.9 360.7,97.2 361.2,95.9 361.7,95.0 362.2,95.6 362.7,94.5 363.2,94.5 363.7,95.4 364.2,95.1 364.7,95.7 365.2,94.8 365.7,96.3 366.2,97.1 366.7,96.2 367.2,97.2 367.7,98.2 368.2,96.9 368.7,99.7 369.2,98.3 369.7,99.0 370.2,100.7 370.7,99.3 371.2,101.4 371.7,101.4 372.2,102.5 372.7,103.0 373.2,105.5 373.7,104.8 374.2,106.9 374.7,107.4 375.2,108.0 375.7,108.4 376.2,109.0 376.7,110.2 377.2,110.4 377.7,110.8 378.2,110.9 378.7,112.1 379.2,112.7 379.7,113.0 380.2,114.6 380.7,113.2 381.2,116.5 381.7,115.3 382.2,114.7 382.7,115.2 383.2,117.2 383.7,117.8 384.2,117.7 384.7,118.7 385.2,119.0 385.7,119.4 386.2,121.3 386.7,121.0 387.2,121.6 387.7,121.3 388.2,123.2 388.7,122.3 389.2,122.2 389.7,123.7 390.2,123.4 390.7,122.7 391.2,122.7 391.7,123.5 392.2,123.3 392.7,124.3 393.2,126.6 393.7,127.2 394.2,125.8 394.7,126.6 395.2,127.2 395.7,127.1 396.2,126.5 396.7,128.2 397.2,127.3 397.7,127.9 398.2,128.0 398.7,127.3 399.2,128.9 399.7,127.8 400.2,128.3 400.7,128.0 401.2,129.3 401.7,129.4 402.2,128.4 402.7,128.8 403.2,128.6 403.7,128.1 404.2,128.7 404.7,129.1 405.2,129.3 405.7,129.7 406.2,129.2 406.7,129.7 407.2,129.8 407.7,130.6 408.2,130.5 408.7,130.0 409.2,129.5 409.7,131.3 410.2,130.8 410.7,130.1 411.2,131.5 411.7,130.6 412.2,130.6 412.7,131.4 413.2,130.6 413.7,130.7 414.2,130.4 414.7,131.7 415.2,132.1 415.7,132.3 416.2,132.4 416.7,132.0 417.2,132.4 417.7,130.9 418.2,132.2 418.7,132.0 419.2,131.3 419.7,132.8 420.2,132.2 420.7,132.9 421.2,132.8 421.7,132.2 422.2,133.2 422.7,133.0 423.2,132.4 423.7,132.3 424.2,131.3 424.7,131.9 425.2,131.9 425.7,132.1 426.2,131.7 426.7,132.3 427.2,131.8 427.7,130.9 428.2,131.7 428.7,131.3 429.2,131.4 429.7,132.2 430.2,132.9 430.7,131.6 431.2,131.0 431.7,131.9 432.2,134.0 432.7,132.0 433.2,132.4 433.7,132.0 434.2,133.1 434.7,133.2 435.2,132.3 435.7,133.0 436.2,131.4 436.7,131.7 437.2,130.6 437.7,131.5 438.2,130.7 438.7,131.4 439.2,130.5 439.7,131.2 440.2,131.5 440.7,131.2 441.2,130.8 441.7,130.2 442.2,131.2 442.7,131.7 443.2,131.3 443.7,131.7 444.2,132.1 444.7,131.1 445.2,131.8 445.7,131.8 446.2,130.8 446.7,130.5 447.2,130.1 447.7,130.9 448.2,129.8 448.7,129.7 449.2,130.1 449.7,131.0 450.2,131.1 450.7,130.1 451.2,130.6 451.7,130.3 452.2,129.9 452.7,129.9 453.2,129.7 453.7,129.4 454.2,130.0 454.7,128.4 455.2,129.3 455.7,129.7 456.2,129.4 456.7,128.2 457.2,128.1 457.7,126.7 458.2,127.5 458.7,129.0 459.2,126.5 459.7,126.4 460.2,127.6 460.7,127.3 461.2,125.9 461.7,126.6 462.2,126.5 462.7,125.5 463.2,126.6 463.7,125.4 464.2,126.7 464.7,125.8 465.2,124.8 465.7,124.6 466.2,125.6 466.7,125.7 467.2,125.8 467.7,125.3 468.2,125.4 468.7,126.2 469.2,125.3 469.7,125.2 470.2,125.4 470.7,125.1 471.2,125.7 471.7,125.8 472.2,125.1 472.7,125.4 473.2,123.3 473.7,124.7 474.2,125.0 474.7,123.5 475.2,124.9 475.7,122.5 476.2,123.7 476.7,122.5 477.2,121.9 477.7,121.8 478.2,121.8 478.7,121.3 479.2,120.8 479.7,121.3 480.2,122.3 480.7,121.8 481.2,122.4 481.7,121.4 482.2,121.4 482.7,121.1 483.2,121.2 483.7,121.5 484.2,122.5 484.7,121.7 485.2,120.9 485.7,121.6 486.2,120.3 486.7,120.2 487.2,121.3 487.7,121.1 488.2,120.8 488.7,121.2 489.2,120.3 489.7,120.2 490.2,120.4 490.7,120.5 491.2,120.1 491.7,119.3 492.2,119.1 492.7,117.2 493.2,119.6 493.7,117.8 494.2,118.5 494.7,120.0 495.2,118.4 495.7,117.6 496.2,119.4 496.7,118.1 497.2,118.0 497.7,117.9 498.2,118.4 498.7,118.2 499.2,117.7 499.7,118.7 500.2,117.7 500.7,118.9 501.2,118.1 501.7,118.8 502.2,118.0 502.7,118.4 503.2,119.6 503.7,117.5 504.2,117.8 504.7,118.5 505.2,117.8 505.7,117.9 506.2,118.3 506.7,119.5 507.2,117.5 507.7,117.8 508.2,117.7 508.7,117.2 509.2,118.0 509.7,118.4 510.2,117.6 510.7,118.8 511.2,117.1 511.7,118.0 512.2,118.6 512.7,120.6 513.2,117.6 513.7,119.2 514.2,120.5 514.7,118.9 515.2,120.0 515.7,119.9 516.2,118.8 516.7,120.0 517.2,119.5 517.7,120.3 518.2,119.8 518.7,121.3 519.2,120.0 519.7,121.5 520.2,122.8 520.7,122.5 521.2,122.4 521.7,122.7 522.2,122.7 522.7,125.3 523.2,123.8 523.7,124.4 524.2,124.3 524.7,125.0 525.2,126.1 525.7,125.7 526.2,125.8 526.7,126.3 527.2,126.9 527.7,127.8 528.2,127.9 528.7,128.4 529.2,128.2 529.7,129.8 530.2,129.5 530.7,129.1 531.2,130.1 531.7,130.2 532.2,129.8 532.7,131.0 533.2,132.6 533.7,132.4 534.2,133.2 534.7,132.9 535.2,132.4 535.7,133.1 536.2,134.2 536.7,132.7 537.2,132.8 537.7,134.0 538.2,133.7 538.7,133.9 539.2,134.6 539.7,134.7 540.2,134.6 540.7,135.8 541.2,135.6 541.7,136.0 542.2,136.5 542.7,135.7 543.2,136.3 543.7,135.9 544.2,137.4 544.7,137.4 545.2,137.9 545.7,138.6 546.2,138.7 546.7,138.8 547.2,137.7 547.7,138.9 548.2,137.8 548.7,139.5 549.2,138.0 549.7,138.1 550.2,136.9 550.7,137.8 551.2,138.0 551.7,136.1 552.2,136.7 552.7,136.6 553.2,136.5 553.7,137.6 554.2,138.1 554.7,136.7 555.2,138.0 555.7,137.4 556.2,138.6 556.7,136.5 557.2,138.0 557.7,139.0 558.2,137.8 558.7,138.9 559.2,137.8 559.7,138.6 560.2,137.6 560.7,137.0 561.2,136.8 561.7,137.1 562.2,138.0 562.7,136.9 563.2,136.9 563.7,139.4 564.2,136.6 564.7,137.8 565.2,138.1 565.7,137.2 566.2,137.7 566.7,137.7 567.2,136.9 567.7,137.9 568.2,137.1 568.7,137.1 569.2,138.4 569.7,136.8 570.2,138.1 570.7,138.2 571.2,138.1 571.7,138.0 572.2,137.3 572.7,136.3 573.2,137.3 573.7,137.6 574.2,136.8 574.7,136.3 575.2,137.3 575.7,136.2 576.2,137.3 576.7,137.2 577.2,136.4 577.7,138.4 578.2,138.0 578.7,137.9 579.2,136.9 579.7,137.5 580.2,137.7 580.7,136.9 581.2,138.1 581.7,135.5 582.2,136.9 582.7,135.7 583.2,135.8 583.7,136.0 584.2,137.3 584.7,136.5 585.2,137.0 585.7,136.8 586.2,136.5 586.7,137.0 587.2,136.6 587.7,136.9 588.2,136.5 588.7,135.5 589.2,136.4 589.7,137.7 590.2,136.7 590.7,136.5 591.2,136.3 591.7,136.7 592.2,136.8 592.7,135.8 593.2,135.9 593.7,134.9 594.2,135.6 594.7,134.7 595.2,136.3 595.7,136.3"/>
<path class="c" stroke="#352a87" stroke-width="3.0" d="M71.7,105.9 72.2,107.1 72.7,106.3 73.2,108.3 73.7,106.7 74.2,105.4 74.7,105.5 75.2,107.5 75.7,106.6 76.2,106.4 76.7,105.9 77.2,106.6 77.7,107.4 78.2,107.0 78.7,105.1 79.2,104.8 79.7,105.9 80.2,107.2 80.7,105.8 81.2,106.2 81.7,106.9 82.2,106.3 82.7,105.7 83.2,107.3 83.7,106.4 84.2,106.5 84.7,106.8 85.2,107.8 85.7,106.7 86.2,106.6 86.7,105.9 87.2,107.7 87.7,107.3 88.2,108.6 88.7,108.1 89.2,108.3 89.7,107.5 90.2,107.6 90.7,106.6 91.2,106.2 91.7,106.1 92.2,106.1 92.7,105.4 93.2,106.4 93.7,106.3 94.2,104.8 94.7,104.9 95.2,106.5 95.7,106.3 96.2,106.6 96.7,107.6 97.2,105.8 97.7,105.6 98.2,106.8 98.7,106.9 99.2,107.4 99.7,105.5 100.2,106.3 100.7,106.2 101.2,107.9 101.7,107.0 102.2,106.1 102.7,107.0 103.2,105.9 103.7,105.9 104.2,106.2 104.7,105.8 105.2,106.3 105.7,106.7 106.2,107.2 106.7,107.8 107.2,107.1 107.7,106.3 108.2,104.1 108.7,104.9 109.2,105.2 109.7,105.3 110.2,104.1 110.7,105.1 111.2,105.1 111.7,104.7 112.2,105.3 112.7,105.2 113.2,104.8 113.7,104.9 114.2,105.5 114.7,105.6 115.2,105.0 115.7,104.0 116.2,104.8 116.7,106.1 117.2,104.3 117.7,105.9 118.2,104.4 118.7,105.0 119.2,104.1 119.7,105.1 120.2,104.7 120.7,104.8 121.2,103.2 121.7,105.4 122.2,103.7 122.7,104.7 123.2,105.4 123.7,104.9 124.2,105.3 124.7,104.9 125.2,104.8 125.7,104.0 126.2,105.2 126.7,105.4 127.2,104.6 127.7,104.2 128.2,105.4 128.7,104.7 129.2,105.2 129.7,105.7 130.2,105.7 130.7,106.0 131.2,104.7 131.7,103.5 132.2,103.2 132.7,104.4 133.2,105.4 133.7,103.5 134.2,103.3 134.7,105.3 135.2,104.4 135.7,105.1 136.2,105.5 136.7,103.8 137.2,104.5 137.7,104.5 138.2,105.0 138.7,105.0 139.2,103.4 139.7,104.3 140.2,102.1 140.7,103.7 141.2,103.4 141.7,103.3 142.2,102.7 142.7,103.7 143.2,103.1 143.7,105.4 144.2,104.3 144.7,104.0 145.2,104.6 145.7,104.4 146.2,103.3 146.7,103.4 147.2,102.3 147.7,103.2 148.2,102.1 148.7,103.5 149.2,102.9 149.7,104.0 150.2,103.1 150.7,102.3 151.2,102.6 151.7,103.8 152.2,105.1 152.7,103.5 153.2,103.5 153.7,104.4 154.2,103.5 154.7,104.2 155.2,104.6 155.7,103.4 156.2,103.8 156.7,104.5 157.2,104.6 157.7,103.6 158.2,106.1 158.7,104.1 159.2,103.3 159.7,103.5 160.2,103.5 160.7,104.8 161.2,102.3 161.7,104.8 162.2,103.5 162.7,104.6 163.2,104.9 163.7,104.0 164.2,104.2 164.7,106.3 165.2,104.8 165.7,104.9 166.2,104.8 166.7,105.6 167.2,106.2 167.7,105.7 168.2,105.3 168.7,105.6 169.2,104.3 169.7,106.6 170.2,105.3 170.7,105.0 171.2,105.3 171.7,105.1 172.2,106.0 172.7,105.7 173.2,105.8 173.7,104.5 174.2,104.0 174.7,104.4 175.2,104.0 175.7,104.3 176.2,106.4 176.7,104.1 177.2,104.5 177.7,105.4 178.2,104.7 178.7,105.1 179.2,103.3 179.7,103.1 180.2,105.2 180.7,103.6 181.2,104.0 181.7,104.5 182.2,103.2 182.7,104.3 183.2,103.9 183.7,104.6 184.2,103.7 184.7,102.7 185.2,105.3 185.7,102.4 186.2,104.0 186.7,103.8 187.2,103.8 187.7,104.2 188.2,104.9 188.7,103.4 189.2,103.7 189.7,104.6 190.2,104.4 190.7,104.2 191.2,104.2 191.7,103.9 192.2,103.6 192.7,103.3 193.2,103.9 193.7,104.2 194.2,104.6 194.7,102.3 195.2,103.1 195.7,103.1 196.2,102.8 196.7,102.4 197.2,105.3 197.7,105.2 198.2,103.8 198.7,103.4 199.2,103.4 199.7,102.7 200.2,103.4 200.7,103.7 201.2,104.2 201.7,103.6 202.2,104.1 202.7,102.4 203.2,100.9 203.7,104.4 204.2,103.6 204.7,103.4 205.2,105.3 205.7,102.9 206.2,103.2 206.7,103.0 207.2,105.0 207.7,104.2 208.2,101.8 208.7,104.9 209.2,103.4 209.7,104.1 210.2,103.1 210.7,105.5 211.2,104.4 211.7,105.2 212.2,103.5 212.7,104.8 213.2,104.1 213.7,103.8 214.2,102.7 214.7,103.1 215.2,102.4 215.7,103.2 216.2,104.1 216.7,104.3 217.2,102.6 217.7,103.0 218.2,103.5 218.7,102.3 219.2,103.5 219.7,103.3 220.2,103.4 220.7,104.0 221.2,104.6 221.7,104.6 222.2,104.5 222.7,104.8 223.2,103.5 223.7,103.3 224.2,104.6 224.7,104.7 225.2,105.8 225.7,103.4 226.2,102.8 226.7,104.0 227.2,103.9 227.7,103.3 228.2,104.9 228.7,105.1 229.2,104.3 229.7,103.9 230.2,104.3 230.7,103.7 231.2,102.5 231.7,104.5 232.2,104.0 232.7,104.5 233.2,102.8 233.7,103.0 234.2,103.0 234.7,102.2 235.2,105.3 235.7,101.5 236.2,102.6 236.7,103.5 237.2,102.4 237.7,104.2 238.2,103.1 238.7,103.7 239.2,104.0 239.7,103.8 240.2,103.7 240.7,103.7 241.2,104.4 241.7,104.3 242.2,103.6 242.7,103.3 243.2,103.6 243.7,104.5 244.2,103.9 244.7,103.8 245.2,102.8 245.7,105.9 246.2,103.6 246.7,105.6 247.2,104.7 247.7,104.9 248.2,104.3 248.7,104.2 249.2,103.8 249.7,104.2 250.2,104.4 250.7,105.4 251.2,103.5 251.7,104.3 252.2,105.2 252.7,105.0 253.2,103.5 253.7,104.5 254.2,104.3 254.7,104.3 255.2,102.0 255.7,105.3 256.2,103.5 256.7,106.7 257.2,105.2 257.7,104.5 258.2,105.4 258.7,105.2 259.2,104.5 259.7,104.6 260.2,105.2 260.7,104.3 261.2,105.8 261.7,106.1 262.2,105.9 262.7,105.4 263.2,105.3 263.7,105.0 264.2,105.4 264.7,104.4 265.2,104.4 265.7,105.4 266.2,106.2 266.7,104.7 267.2,104.2 267.7,107.1 268.2,105.9 268.7,106.3 269.2,105.8 269.7,105.6 270.2,104.8 270.7,104.6 271.2,106.4 271.7,106.1 272.2,105.7 272.7,104.7 273.2,105.2 273.7,104.9 274.2,105.3 274.7,103.5 275.2,106.0 275.7,107.2 276.2,105.4 276.7,105.7 277.2,106.0 277.7,104.9 278.2,105.8 278.7,104.7 279.2,105.3 279.7,105.9 280.2,105.7 280.7,105.8 281.2,105.3 281.7,106.5 282.2,105.2 282.7,106.7 283.2,105.4 283.7,105.1 284.2,106.1 284.7,105.6 285.2,105.6 285.7,105.9 286.2,106.3 286.7,106.3 287.2,106.0 287.7,105.0 288.2,103.9 288.7,105.0 289.2,105.1 289.7,105.3 290.2,105.2 290.7,105.2 291.2,106.3 291.7,104.7 292.2,105.9 292.7,107.0 293.2,104.9 293.7,104.6 294.2,105.1 294.7,104.6 295.2,105.4 295.7,106.0 296.2,104.5 296.7,104.9 297.2,104.3 297.7,104.3 298.2,105.3 298.7,104.8 299.2,106.1 299.7,105.1 300.2,105.3 300.7,104.5 301.2,105.0 301.7,104.9 302.2,105.4 302.7,104.1 303.2,105.5 303.7,106.9 304.2,104.2 304.7,107.4 305.2,105.8 305.7,106.6 306.2,104.7 306.7,107.4 307.2,104.9 307.7,105.6 308.2,107.1 308.7,104.5 309.2,103.7 309.7,105.7 310.2,105.1 310.7,105.0 311.2,105.1 311.7,104.9 312.2,106.8 312.7,106.5 313.2,104.4 313.7,105.6 314.2,105.6 314.7,106.6 315.2,105.1 315.7,106.8 316.2,105.4 316.7,105.1 317.2,105.6 317.7,105.2 318.2,107.3 318.7,105.6 319.2,104.9 319.7,105.4 320.2,107.1 320.7,104.8 321.2,104.8 321.7,107.1 322.2,106.2 322.7,105.4 323.2,106.0 323.7,107.1 324.2,103.7 324.7,107.0 325.2,105.1 325.7,105.5 326.2,105.0 326.7,107.6 327.2,104.1 327.7,105.7 328.2,102.7 328.7,104.9 329.2,105.6 329.7,104.0 330.2,103.3 330.7,105.0 331.2,106.3 331.7,106.3 332.2,104.3 332.7,105.2 333.2,103.6 333.7,106.4 334.2,104.6 334.7,105.9 335.2,103.9 335.7,103.3 336.2,104.4 336.7,102.1 337.2,104.0 337.7,101.9 338.2,101.5 338.7,101.6 339.2,103.3 339.7,102.0 340.2,102.5 340.7,101.5 341.2,103.6 341.7,103.4 342.2,102.4 342.7,102.3 343.2,98.6 343.7,101.1 344.2,101.0 344.7,100.7 345.2,99.6 345.7,100.0 346.2,98.9 346.7,98.9 347.2,98.3 347.7,99.0 348.2,98.0 348.7,97.5 349.2,98.9 349.7,97.0 350.2,96.8 350.7,94.9 351.2,95.1 351.7,95.7 352.2,94.7 352.7,93.7 353.2,92.9 353.7,92.5 354.2,92.2 354.7,90.6 355.2,87.9 355.7,91.2 356.2,89.6 356.7,87.9 357.2,88.2 357.7,85.4 358.2,86.7 358.7,85.6 359.2,85.5 359.7,83.5 360.2,83.5 360.7,83.3 361.2,83.4 361.7,82.3 362.2,81.7 362.7,79.9 363.2,81.1 363.7,79.2 364.2,78.0 364.7,77.3 365.2,76.0 365.7,75.2 366.2,74.1 366.7,74.8 367.2,74.3 367.7,74.8 368.2,73.7 368.7,74.3 369.2,74.2 369.7,76.2 370.2,73.6 370.7,74.0 371.2,76.3 371.7,74.9 372.2,73.2 372.7,75.7 373.2,75.7 373.7,75.6 374.2,73.8 374.7,76.1 375.2,76.1 375.7,77.7 376.2,77.7 376.7,81.0 377.2,80.0 377.7,81.9 378.2,82.8 378.7,83.6 379.2,83.7 379.7,83.8 380.2,84.8 380.7,85.0 381.2,83.2 381.7,86.2 382.2,85.3 382.7,85.8 383.2,86.7 383.7,86.5 384.2,87.4 384.7,87.6 385.2,90.1 385.7,91.3 386.2,91.0 386.7,90.4 387.2,93.2 387.7,92.1 388.2,91.1 388.7,91.2 389.2,93.3 389.7,94.7 390.2,93.4 390.7,93.8 391.2,94.2 391.7,94.0 392.2,94.6 392.7,95.2 393.2,94.9 393.7,96.4 394.2,95.2 394.7,96.6 395.2,96.5 395.7,96.1 396.2,96.2 396.7,96.7 397.2,98.5 397.7,96.3 398.2,97.7 398.7,97.7 399.2,96.8 399.7,98.7 400.2,95.4 400.7,97.9 401.2,98.3 401.7,98.4 402.2,99.5 402.7,98.7 403.2,98.7 403.7,99.9 404.2,99.0 404.7,97.9 405.2,99.2 405.7,98.9 406.2,98.4 406.7,99.2 407.2,97.9 407.7,97.8 408.2,98.6 408.7,98.7 409.2,98.7 409.7,97.7 410.2,100.1 410.7,99.4 411.2,99.1 411.7,99.1 412.2,96.6 412.7,99.5 413.2,97.8 413.7,99.1 414.2,97.6 414.7,99.5 415.2,98.2 415.7,98.6 416.2,100.2 416.7,100.1 417.2,98.1 417.7,98.4 418.2,99.6 418.7,99.0 419.2,100.2 419.7,98.6 420.2,97.8 420.7,98.3 421.2,98.8 421.7,100.0 422.2,100.0 422.7,100.7 423.2,99.7 423.7,99.2 424.2,100.0 424.7,99.7 425.2,99.9 425.7,100.0 426.2,101.3 426.7,101.6 427.2,101.5 427.7,99.1 428.2,101.5 428.7,99.6 429.2,100.1 429.7,100.4 430.2,98.8 430.7,98.9 431.2,99.5 431.7,101.7 432.2,100.9 432.7,99.1 433.2,99.7 433.7,99.7 434.2,99.7 434.7,98.5 435.2,100.4 435.7,99.1 436.2,100.3 436.7,98.0 437.2,100.0 437.7,100.0 438.2,101.1 438.7,97.9 439.2,100.2 439.7,100.0 440.2,99.0 440.7,100.3 441.2,100.8 441.7,99.7 442.2,99.8 442.7,100.7 443.2,99.9 443.7,100.7 444.2,100.5 444.7,99.3 445.2,98.9 445.7,100.8 446.2,99.9 446.7,98.8 447.2,99.4 447.7,101.0 448.2,97.9 448.7,98.9 449.2,100.3 449.7,100.4 450.2,98.8 450.7,98.7 451.2,99.6 451.7,100.4 452.2,98.9 452.7,96.6 453.2,98.9 453.7,97.9 454.2,97.2 454.7,96.6 455.2,97.9 455.7,97.5 456.2,97.8 456.7,97.4 457.2,98.0 457.7,98.4 458.2,99.3 458.7,97.1 459.2,98.3 459.7,97.6 460.2,99.4 460.7,97.8 461.2,96.6 461.7,98.1 462.2,97.1 462.7,96.8 463.2,97.3 463.7,96.6 464.2,95.6 464.7,99.1 465.2,97.1 465.7,96.3 466.2,97.7 466.7,98.6 467.2,95.5 467.7,96.5 468.2,97.2 468.7,96.4 469.2,97.8 469.7,95.9 470.2,96.5 470.7,96.5 471.2,96.9 471.7,96.2 472.2,95.7 472.7,95.6 473.2,93.7 473.7,97.5 474.2,95.2 474.7,95.3 475.2,95.8 475.7,96.2 476.2,96.0 476.7,94.7 477.2,94.1 477.7,95.5 478.2,94.9 478.7,95.4 479.2,95.8 479.7,95.7 480.2,96.3 480.7,95.2 481.2,93.8 481.7,95.4 482.2,95.5 482.7,92.9 483.2,95.2 483.7,95.0 484.2,94.3 484.7,95.0 485.2,94.9 485.7,95.0 486.2,95.6 486.7,94.5 487.2,94.0 487.7,96.1 488.2,93.4 488.7,93.9 489.2,93.7 489.7,94.7 490.2,94.7 490.7,92.5 491.2,94.7 491.7,92.6 492.2,95.4 492.7,92.7 493.2,93.7 493.7,92.2 494.2,92.7 494.7,91.3 495.2,91.8 495.7,91.4 496.2,91.4 496.7,91.6 497.2,90.5 497.7,90.8 498.2,90.4 498.7,91.3 499.2,91.2 499.7,92.6 500.2,92.1 500.7,91.1 501.2,91.8 501.7,92.3 502.2,90.7 502.7,89.6 503.2,92.6 503.7,90.7 504.2,90.9 504.7,92.5 505.2,89.8 505.7,90.5 506.2,88.5 506.7,90.6 507.2,90.4 507.7,89.2 508.2,89.1 508.7,89.3 509.2,89.2 509.7,90.9 510.2,89.2 510.7,89.4 511.2,90.0 511.7,88.9 512.2,89.7 512.7,89.3 513.2,90.6 513.7,88.6 514.2,89.6 514.7,90.7 515.2,88.2 515.7,88.8 516.2,91.2 516.7,89.3 517.2,90.9 517.7,91.2 518.2,90.2 518.7,89.5 519.2,92.4 519.7,90.7 520.2,92.2 520.7,90.9 521.2,92.2 521.7,90.9 522.2,90.8 522.7,91.4 523.2,91.9 523.7,92.3 524.2,92.3 524.7,93.5 525.2,92.5 525.7,94.0 526.2,93.1 526.7,94.9 527.2,95.6 527.7,96.0 528.2,92.9 528.7,96.1 529.2,93.5 529.7,96.8 530.2,95.7 530.7,95.8 531.2,94.7 531.7,96.3 532.2,96.7 532.7,95.7 533.2,96.0 533.7,97.2 534.2,97.6 534.7,97.5 535.2,96.7 535.7,97.0 536.2,98.1 536.7,98.5 537.2,98.5 537.7,97.8 538.2,97.7 538.7,98.6 539.2,99.2 539.7,98.9 540.2,99.5 540.7,98.4 541.2,99.5 541.7,99.0 542.2,100.8 542.7,100.2 543.2,99.5 543.7,97.9 544.2,98.2 544.7,99.8 545.2,98.7 545.7,98.8 546.2,97.6 546.7,97.8 547.2,99.2 547.7,98.9 548.2,97.9 548.7,98.8 549.2,100.7 549.7,99.8 550.2,100.8 550.7,101.6 551.2,100.6 551.7,100.8 552.2,100.3 552.7,101.7 553.2,99.4 553.7,100.0 554.2,100.9 554.7,99.9 555.2,101.9 555.7,100.5 556.2,101.3 556.7,100.7 557.2,100.8 557.7,100.6 558.2,99.1 558.7,99.5 559.2,100.1 559.7,102.2 560.2,101.0 560.7,100.6 561.2,99.3 561.7,101.5 562.2,101.7 562.7,101.5 563.2,103.2 563.7,100.2 564.2,100.7 564.7,101.7 565.2,101.3 565.7,102.1 566.2,102.8 566.7,102.4 567.2,102.7 567.7,103.2 568.2,103.8 568.7,102.3 569.2,101.8 569.7,103.3 570.2,101.9 570.7,101.6 571.2,102.8 571.7,101.9 572.2,102.2 572.7,102.5 573.2,103.5 573.7,103.9 574.2,102.6 574.7,102.0 575.2,104.2 575.7,102.1 576.2,101.5 576.7,101.2 577.2,103.1 577.7,102.5 578.2,101.3 578.7,102.4 579.2,102.4 579.7,104.6 580.2,103.7 580.7,103.4 581.2,102.3 581.7,103.4 582.2,104.5 582.7,103.8 583.2,105.0 583.7,103.8 584.2,104.2 584.7,103.6 585.2,102.9 585.7,104.6 586.2,103.3 586.7,103.7 587.2,101.8 587.7,101.6 588.2,102.6 588.7,102.6 589.2,103.6 589.7,102.9 590.2,103.9 590.7,103.6 591.2,101.9 591.7,104.0 592.2,102.8 592.7,102.1 593.2,103.0 593.7,103.5 594.2,104.1 594.7,105.8 595.2,104.0 595.7,105.1 596.2,103.5 596.7,104.3 597.2,103.3 597.7,103.5 598.2,105.0"/>
</g>
<path class="d" d="M152.0,103.5 153.4,105.7 154.8,107.8 156.2,110.0 157.6,112.1 159.1,114.3 160.6,116.3 162.1,118.4 163.7,120.5 165.2,122.5 166.8,124.6 168.4,126.6 170.0,128.6 171.6,130.7 173.2,132.7 174.9,134.7 176.5,136.7 178.1,138.7 179.8,140.6 181.4,142.6 183.1,144.6 184.7,146.6 186.4,148.5 188.1,150.5 189.8,152.5 191.5,154.4 193.2,156.3 194.9,158.3 196.6,160.2 198.3,162.1 200.0,164.0 201.8,165.9 203.5,167.8 205.3,169.7 207.0,171.6 208.8,173.5 210.6,175.3 212.4,177.2 214.2,179.1 215.9,180.9 217.7,182.8 219.5,184.7 221.3,186.5 223.0,188.4 224.8,190.3 226.6,192.1 228.4,194.0 230.2,195.8 232.1,197.6 234.0,199.4 235.8,201.1 237.7,202.9 239.6,204.6 241.5,206.4 243.5,208.1 245.4,209.8 247.4,211.4 249.4,213.1 251.4,214.7 253.4,216.3 255.4,217.9 257.5,219.5 259.5,221.0 261.6,222.5 263.7,224.0 265.8,225.5 268.0,227.0 270.1,228.4 272.3,229.8 274.5,231.2 276.7,232.5 278.9,233.8 281.1,235.1 283.3,236.4 285.6,237.6 287.9,238.8 290.2,240.0 292.5,241.2 294.8,242.4 297.1,243.5"/>
<path class="d" d="M194.0,104.0 194.5,106.3 195.1,108.5 195.8,110.8 196.4,113.0 197.1,115.2 197.9,117.4 198.6,119.6 199.4,121.8 200.3,123.9 201.2,126.0 202.1,128.1 203.1,130.2 204.2,132.3 205.3,134.3 206.4,136.4 207.5,138.4 208.7,140.4 209.9,142.4 211.1,144.4 212.3,146.4 213.5,148.4 214.7,150.3 216.0,152.3 217.3,154.2 218.6,156.1 220.0,158.0 221.4,159.8 222.8,161.7 224.2,163.5 225.7,165.3 227.2,167.1 228.8,168.8 230.4,170.5 232.1,172.1 233.8,173.6 235.6,175.0 237.5,176.3 239.4,177.6 241.4,178.9 243.3,180.2 245.3,181.4 247.2,182.7 249.2,184.0 251.1,185.2 253.1,186.5 255.1,187.7 257.0,188.9 259.0,190.1 261.0,191.3 262.9,192.6 264.9,193.8 266.9,195.0 268.9,196.2 270.9,197.4 272.9,198.6 274.9,199.7 276.9,200.9 278.9,202.1 280.9,203.3 282.9,204.4 284.9,205.6 286.9,206.7 289.0,207.7 291.1,208.7 293.2,209.7 295.3,210.7 297.4,211.7 299.5,212.6 301.6,213.6 303.7,214.5 305.9,215.4 308.0,216.4 310.1,217.3 312.2,218.2 314.4,219.1 316.5,219.9 318.7,220.8 320.8,221.7 323.0,222.5"/>
<path class="d" d="M366.5,71.7 365.7,74.7 365.0,77.6 364.2,80.6 363.5,83.6 362.9,86.6 362.3,89.6 361.7,92.6 361.2,95.6 360.7,98.7 360.2,101.7 359.7,104.7 359.2,107.8 358.7,110.8 358.2,113.8 357.6,116.8 357.1,119.8 356.5,122.9 356.1,125.9 355.7,128.9 355.4,132.0 355.0,135.0 354.7,138.1 354.4,141.1 354.1,144.2 353.9,147.2 353.7,150.3 353.5,153.4 353.3,156.4 353.1,159.5 352.9,162.6 352.8,165.6 352.7,168.7 352.6,171.7 352.6,174.8 352.6,177.9 352.7,180.9 352.7,184.0 352.8,187.1 352.9,190.1 353.0,193.2 353.1,196.3 353.2,199.4 353.4,202.4 353.5,205.5 353.7,208.5 353.9,211.6 354.3,214.6 354.7,217.7 355.2,220.7 355.7,223.7 356.3,226.7 356.9,229.8 357.4,232.8 358.1,235.8 358.7,238.8 359.4,241.8 360.2,244.8 361.0,247.7 361.9,250.6 362.9,253.5 364.1,256.3 365.4,259.1 366.7,261.9 368.1,264.6 369.6,267.3 371.1,270.0 372.7,272.7 374.4,275.2 376.2,277.7 378.1,280.0 380.2,282.3 382.4,284.5 384.7,286.6 387.0,288.5 389.4,290.4 391.9,292.1 394.5,293.7 397.2,295.3 400.0,296.7"/>
<path class="d" d="M504.3,90.7 504.6,93.8 505.0,96.8 505.3,99.9 505.5,103.0 505.8,106.1 506.0,109.1 506.1,112.2 506.2,115.3 506.4,118.4 506.5,121.5 506.6,124.5 506.6,127.6 506.7,130.7 506.7,133.8 506.7,136.9 506.6,140.0 506.5,143.0 506.4,146.1 506.3,149.2 506.2,152.3 506.1,155.4 505.9,158.4 505.7,161.5 505.5,164.6 505.2,167.7 504.9,170.7 504.6,173.8 504.3,176.9 504.0,180.0 503.7,183.0 503.4,186.1 503.0,189.2 502.6,192.2 502.2,195.3 501.8,198.3 501.3,201.4 500.6,204.4 499.9,207.4 499.1,210.3 498.2,213.3 497.4,216.3 496.6,219.3 495.9,222.3 495.1,225.3 494.3,228.3 493.5,231.3 492.6,234.2 491.6,237.1 490.4,239.9 489.1,242.7 487.7,245.5 486.2,248.2 484.7,250.9 483.1,253.6 481.5,256.2 479.8,258.8 478.1,261.3 476.3,263.8 474.4,266.3 472.5,268.7 470.5,271.1 468.5,273.4 466.5,275.7 464.3,278.0 462.1,280.2 459.9,282.3 457.6,284.3 455.1,286.2 452.6,287.9 450.0,289.5 447.3,291.1 444.6,292.6 441.8,294.1 439.1,295.5 436.3,296.8 433.6,298.1 430.7,299.4 427.9,300.6 425.0,301.7"/>
<rect x="78.5" y="215" width="91.5" height="123" fill="#fff"/>
<rect x="175.5" y="244" width="87" height="94" fill="#fff"/>
<line x1="84.3" x2="127.6" y1="226.3" y2="226.3" stroke="#352a87" stroke-width="2.8"/>
<text class="l" x="133" y="231.8">1.4 K</text>
<line x1="84.3" x2="127.6" y1="246.4" y2="246.4" stroke="#3144bd" stroke-width="2.8"/>
<text class="l" x="133" y="251.9">2.2 K</text>
<line x1="84.3" x2="127.6" y1="266.5" y2="266.5" stroke="#1264dc" stroke-width="2.8"/>
<text class="l" x="133" y="272.0">3.2 K</text>
<line x1="84.3" x2="127.6" y1="286.5" y2="286.5" stroke="#1a80d4" stroke-width="2.8"/>
<text class="l" x="133" y="292.0">4.2 K</text>
<line x1="84.3" x2="127.6" y1="306.3" y2="306.3" stroke="#0f9bcc" stroke-width="2.8"/>
<text class="l" x="133" y="311.8">7 K</text>
<line x1="84.3" x2="127.6" y1="326.3" y2="326.3" stroke="#12adb6" stroke-width="2.8"/>
<text class="l" x="133" y="331.8">9 K</text>
<line x1="181.8" x2="226" y1="256.2" y2="256.2" stroke="#69be86" stroke-width="2.8"/>
<text class="l" x="231" y="261.7">10 K</text>
<line x1="181.8" x2="226" y1="279.5" y2="279.5" stroke="#a3be6b" stroke-width="2.8"/>
<text class="l" x="231" y="285.0">12 K</text>
<line x1="181.8" x2="226" y1="302.8" y2="302.8" stroke="#c9b95c" stroke-width="2.8"/>
<text class="l" x="231" y="308.3">15 K</text>
<line x1="181.8" x2="226" y1="326.3" y2="326.3" stroke="#f9b942" stroke-width="2.8"/>
<text class="l" x="231" y="331.8">30 K</text>
<rect class="f" x="71.8" y="55.0" width="536.6" height="296.0"/>
<path class="f" style="stroke-width:1.3" d="M171.2,55.0v6.2M171.2,351.0v-6.2M270.5,55.0v6.2M270.5,351.0v-6.2M369.9,55.0v6.2M369.9,351.0v-6.2M469.3,55.0v6.2M469.3,351.0v-6.2M568.7,55.0v6.2M568.7,351.0v-6.2M71.8,102.7h6.2M608.4,102.7h-6.2M71.8,150.5h6.2M608.4,150.5h-6.2M71.8,198.2h6.2M608.4,198.2h-6.2M71.8,246.0h6.2M608.4,246.0h-6.2M71.8,293.7h6.2M608.4,293.7h-6.2M71.8,341.5h6.2M608.4,341.5h-6.2"/>
<text class="t" text-anchor="middle" x="71.3" y="43.4">30</text>
<text class="t" text-anchor="middle" x="170.7" y="43.4">35</text>
<text class="t" text-anchor="middle" x="270.0" y="43.4">40</text>
<text class="t" text-anchor="middle" x="369.4" y="43.4">45</text>
<text class="t" text-anchor="middle" x="468.8" y="43.4">50</text>
<text class="t" text-anchor="middle" x="568.2" y="43.4">55</text>
<text class="t" text-anchor="end" x="64.6" y="63.2">5</text>
<text class="t" text-anchor="end" x="64.6" y="110.4">0</text>
<text class="t" text-anchor="end" x="64.6" y="157.6">-5</text>
<text class="t" text-anchor="end" x="64.6" y="204.8">–10</text>
<text class="t" text-anchor="end" x="64.6" y="252.0">–15</text>
<text class="t" text-anchor="end" x="64.6" y="299.2">–20</text>
<text class="t" text-anchor="end" x="64.6" y="346.4">–25</text>
<text class="t" text-anchor="middle" x="344.2" y="14.8"><tspan font-style="italic">B</tspan><tspan dx="-1.3"> (T)</tspan></text>
<text class="t" text-anchor="middle" transform="translate(15.5,203) rotate(-90)">Δ<tspan font-style="italic">α</tspan> (dB/cm)</text>
<text class="g" text-anchor="middle" x="151.7" y="81">α</text>
<text class="g" text-anchor="middle" x="231" y="81">β</text>
<text class="g" text-anchor="middle" x="326" y="81">γ</text>
<text class="g" text-anchor="middle" x="565.7" y="81">δ</text>
<text class="p" x="81.6" y="83.1" font-size="28.2">a</text>
<g clip-path="url(#cb)">
<path class="c" stroke="#12adb6" stroke-width="3.4" d="M71.7,620.9 72.2,620.8 72.7,621.4 73.2,621.7 73.7,620.9 74.2,620.7 74.7,620.8 75.2,620.9 75.7,620.0 76.2,620.5 76.7,620.4 77.2,619.9 77.7,619.5 78.2,620.1 78.7,620.1 79.2,620.5 79.7,619.4 80.2,619.9 80.7,618.7 81.2,618.8 81.7,618.5 82.2,618.4 82.7,619.0 83.2,618.2 83.7,618.8 84.2,618.3 84.7,618.3 85.2,618.0 85.7,618.0 86.2,617.1 86.7,617.7 87.2,618.1 87.7,618.0 88.2,616.8 88.7,617.2 89.2,617.3 89.7,618.2 90.2,617.3 90.7,617.2 91.2,617.0 91.7,617.2 92.2,616.8 92.7,617.1 93.2,617.0 93.7,617.2 94.2,616.5 94.7,617.0 95.2,617.3 95.7,616.7 96.2,616.7 96.7,615.4 97.2,616.6 97.7,616.6 98.2,616.2 98.7,615.8 99.2,615.9 99.7,616.8 100.2,615.5 100.7,615.6 101.2,616.2 101.7,616.0 102.2,614.8 102.7,615.6 103.2,615.4 103.7,614.8 104.2,615.5 104.7,615.2 105.2,614.2 105.7,615.1 106.2,615.6 106.7,615.7 107.2,614.4 107.7,614.5 108.2,615.1 108.7,614.9 109.2,614.2 109.7,614.2 110.2,615.0 110.7,614.3 111.2,614.5 111.7,614.0 112.2,614.5 112.7,613.9 113.2,614.0 113.7,613.8 114.2,613.7 114.7,614.4 115.2,614.2 115.7,614.3 116.2,614.5 116.7,614.6 117.2,614.3 117.7,613.9 118.2,613.9 118.7,614.5 119.2,613.9 119.7,613.9 120.2,613.0 120.7,613.4 121.2,614.2 121.7,613.4 122.2,613.1 122.7,613.8 123.2,613.1 123.7,614.1 124.2,613.4 124.7,613.2 125.2,612.8 125.7,614.1 126.2,612.7 126.7,612.7 127.2,613.4 127.7,612.3 128.2,613.0 128.7,612.6 129.2,612.4 129.7,612.1 130.2,612.2 130.7,612.4 131.2,611.7 131.7,612.3 132.2,612.3 132.7,612.5 133.2,612.2 133.7,612.4 134.2,612.3 134.7,612.5 135.2,612.0 135.7,611.9 136.2,611.3 136.7,611.0 137.2,611.9 137.7,611.9 138.2,611.1 138.7,610.8 139.2,611.4 139.7,611.7 140.2,611.6 140.7,611.5 141.2,611.1 141.7,611.5 142.2,611.8 142.7,611.6 143.2,612.1 143.7,611.3 144.2,611.7 144.7,612.1 145.2,610.7 145.7,610.7 146.2,611.0 146.7,612.2 147.2,611.3 147.7,610.9 148.2,611.4 148.7,610.4 149.2,609.9 149.7,610.0 150.2,610.8 150.7,609.6 151.2,609.9 151.7,611.1 152.2,610.8 152.7,611.0 153.2,610.1 153.7,610.5 154.2,610.4 154.7,609.7 155.2,610.1 155.7,610.3 156.2,610.7 156.7,609.9 157.2,609.8 157.7,610.1 158.2,610.3 158.7,609.9 159.2,609.4 159.7,609.1 160.2,608.9 160.7,608.9 161.2,609.5 161.7,609.5 162.2,610.2 162.7,609.8 163.2,610.1 163.7,610.0 164.2,608.4 164.7,609.1 165.2,609.2 165.7,609.2 166.2,608.6 166.7,609.3 167.2,609.5 167.7,609.1 168.2,609.0 168.7,608.1 169.2,608.8 169.7,608.2 170.2,607.4 170.7,608.1 171.2,608.2 171.7,607.9 172.2,607.2 172.7,607.5 173.2,607.8 173.7,606.8 174.2,608.2 174.7,608.1 175.2,607.9 175.7,608.2 176.2,607.6 176.7,607.3 177.2,607.8 177.7,607.5 178.2,606.9 178.7,606.6 179.2,606.5 179.7,607.2 180.2,606.6 180.7,607.8 181.2,606.1 181.7,606.3 182.2,606.0 182.7,605.7 183.2,606.4 183.7,605.7 184.2,606.3 184.7,605.9 185.2,605.8 185.7,606.8 186.2,606.0 186.7,606.0 187.2,606.6 187.7,606.2 188.2,606.3 188.7,607.2 189.2,606.9 189.7,607.2 190.2,606.9 190.7,608.2 191.2,608.7 191.7,608.1 192.2,609.3 192.7,609.6 193.2,610.1 193.7,610.8 194.2,612.1 194.7,611.4 195.2,611.8 195.7,612.4 196.2,612.4 196.7,612.1 197.2,613.5 197.7,614.0 198.2,614.5 198.7,613.8 199.2,613.4 199.7,613.6 200.2,612.0 200.7,611.3 201.2,610.0 201.7,608.9 202.2,607.5 202.7,606.6 203.2,605.1 203.7,605.3 204.2,603.5 204.7,601.5 205.2,600.0 205.7,599.0 206.2,597.4 206.7,595.9 207.2,595.7 207.7,594.6 208.2,593.4 208.7,593.5 209.2,592.6 209.7,592.7 210.2,591.5 210.7,592.0 211.2,590.6 211.7,590.8 212.2,589.2 212.7,589.6 213.2,589.3 213.7,590.1 214.2,589.7 214.7,589.4 215.2,589.8 215.7,590.4 216.2,590.9 216.7,590.8 217.2,590.8 217.7,591.8 218.2,592.4 218.7,591.4 219.2,592.8 219.7,593.8 220.2,592.9 220.7,593.2 221.2,593.8 221.7,594.0 222.2,593.8 222.7,594.3 223.2,595.2 223.7,595.0 224.2,594.4 224.7,594.3 225.2,594.7 225.7,595.1 226.2,594.7 226.7,594.9 227.2,595.8 227.7,595.5 228.2,595.6 228.7,596.1 229.2,597.1 229.7,596.8 230.2,596.7 230.7,596.7 231.2,597.3 231.7,596.4 232.2,596.4 232.7,596.7 233.2,597.8 233.7,597.8 234.2,596.7 234.7,597.0 235.2,597.5 235.7,597.2 236.2,597.5 236.7,596.9 237.2,596.4 237.7,597.1 238.2,597.1 238.7,596.3 239.2,596.4 239.7,596.8 240.2,596.2 240.7,597.2 241.2,596.5 241.7,597.1 242.2,596.5 242.7,597.1 243.2,597.2 243.7,596.7 244.2,596.2 244.7,596.9 245.2,596.0 245.7,596.8 246.2,595.9 246.7,595.9 247.2,596.2 247.7,596.0 248.2,595.6 248.7,594.7 249.2,594.8 249.7,595.2 250.2,595.0 250.7,594.7 251.2,595.2 251.7,594.5 252.2,594.7 252.7,594.7 253.2,594.5 253.7,594.3 254.2,594.5 254.7,594.2 255.2,594.0 255.7,593.4 256.2,593.6 256.7,593.9 257.2,593.1 257.7,593.3 258.2,593.1 258.7,593.2 259.2,592.0 259.7,593.2 260.2,592.6 260.7,592.2 261.2,592.4 261.7,592.7 262.2,592.2 262.7,592.0 263.2,592.1 263.7,591.1 264.2,591.1 264.7,591.2 265.2,590.5 265.7,590.1 266.2,590.4 266.7,591.2 267.2,589.9 267.7,589.8 268.2,589.6 268.7,589.6 269.2,588.8 269.7,588.9 270.2,589.6 270.7,589.2 271.2,588.6 271.7,589.0 272.2,588.7 272.7,588.9 273.2,587.7 273.7,588.3 274.2,588.8 274.7,588.0 275.2,588.5 275.7,589.2 276.2,589.0 276.7,589.0 277.2,589.3 277.7,589.0 278.2,589.5 278.7,590.8 279.2,590.6 279.7,591.6 280.2,592.3 280.7,593.4 281.2,593.8 281.7,594.4 282.2,595.3 282.7,595.1 283.2,594.5 283.7,595.0 284.2,595.8 284.7,595.7 285.2,594.9 285.7,594.4 286.2,594.5 286.7,595.5 287.2,594.9 287.7,594.7 288.2,593.5 288.7,593.3 289.2,593.4 289.7,592.8 290.2,593.3 290.7,592.3 291.2,592.5 291.7,592.1 292.2,591.8 292.7,591.9 293.2,591.3 293.7,591.1 294.2,590.7 294.7,590.5 295.2,589.6 295.7,589.7 296.2,590.2 296.7,590.4 297.2,590.9 297.7,590.1 298.2,589.3 298.7,589.0 299.2,588.9 299.7,589.1 300.2,588.9 300.7,589.1 301.2,589.0 301.7,589.2 302.2,588.6 302.7,587.6 303.2,588.4 303.7,587.3 304.2,587.6 304.7,587.3 305.2,587.7 305.7,586.8 306.2,586.4 306.7,586.0 307.2,586.3 307.7,586.0 308.2,585.7 308.7,586.2 309.2,586.7 309.7,586.3 310.2,586.1 310.7,585.1 311.2,585.1 311.7,585.0 312.2,584.1 312.7,585.4 313.2,583.9 313.7,584.4 314.2,583.5 314.7,583.7 315.2,583.9 315.7,583.6 316.2,583.2 316.7,583.0 317.2,583.7 317.7,583.4 318.2,583.3 318.7,583.3 319.2,581.7 319.7,582.8 320.2,582.9 320.7,582.9 321.2,582.4 321.7,581.9 322.2,582.5 322.7,582.7 323.2,581.4 323.7,581.2 324.2,581.1"/>
<path class="c" stroke="#0f9bcc" stroke-width="3.7" d="M71.7,583.1 72.2,583.1 72.7,583.4 73.2,583.5 73.7,582.6 74.2,582.0 74.7,582.5 75.2,582.4 75.7,581.8 76.2,582.0 76.7,581.8 77.2,582.2 77.7,581.8 78.2,581.4 78.7,581.3 79.2,581.7 79.7,581.4 80.2,581.6 80.7,581.3 81.2,581.4 81.7,581.5 82.2,581.1 82.7,581.7 83.2,581.4 83.7,580.9 84.2,581.5 84.7,580.5 85.2,580.3 85.7,580.2 86.2,579.8 86.7,580.1 87.2,580.6 87.7,579.5 88.2,580.1 88.7,580.3 89.2,580.1 89.7,580.3 90.2,580.3 90.7,580.0 91.2,580.5 91.7,579.9 92.2,580.1 92.7,579.4 93.2,578.9 93.7,578.8 94.2,578.8 94.7,578.9 95.2,577.6 95.7,577.7 96.2,577.6 96.7,578.4 97.2,578.2 97.7,578.6 98.2,578.3 98.7,579.0 99.2,578.1 99.7,577.6 100.2,577.4 100.7,577.5 101.2,577.8 101.7,577.5 102.2,577.4 102.7,577.5 103.2,578.3 103.7,577.9 104.2,577.4 104.7,577.7 105.2,577.8 105.7,578.3 106.2,578.0 106.7,577.4 107.2,577.7 107.7,577.1 108.2,577.0 108.7,576.7 109.2,577.6 109.7,576.8 110.2,576.4 110.7,576.2 111.2,576.4 111.7,576.6 112.2,577.6 112.7,576.3 113.2,576.7 113.7,577.3 114.2,577.4 114.7,576.0 115.2,576.8 115.7,576.1 116.2,576.3 116.7,576.0 117.2,576.6 117.7,577.4 118.2,576.5 118.7,575.8 119.2,575.4 119.7,575.9 120.2,575.9 120.7,575.1 121.2,575.9 121.7,574.7 122.2,574.9 122.7,575.3 123.2,575.0 123.7,575.6 124.2,575.6 124.7,575.4 125.2,575.4 125.7,575.9 126.2,575.3 126.7,575.9 127.2,576.0 127.7,574.6 128.2,575.9 128.7,575.3 129.2,574.8 129.7,574.7 130.2,574.5 130.7,574.4 131.2,574.0 131.7,574.4 132.2,574.7 132.7,575.0 133.2,574.7 133.7,574.5 134.2,574.3 134.7,574.6 135.2,573.0 135.7,573.6 136.2,574.2 136.7,573.5 137.2,573.9 137.7,574.2 138.2,573.9 138.7,573.1 139.2,573.7 139.7,573.8 140.2,574.2 140.7,574.5 141.2,573.7 141.7,573.9 142.2,573.4 142.7,573.8 143.2,573.3 143.7,573.2 144.2,573.5 144.7,573.7 145.2,573.6 145.7,573.3 146.2,573.1 146.7,573.1 147.2,573.0 147.7,572.6 148.2,572.3 148.7,572.4 149.2,572.7 149.7,572.4 150.2,572.0 150.7,572.2 151.2,572.4 151.7,572.6 152.2,572.2 152.7,572.1 153.2,572.9 153.7,572.2 154.2,571.4 154.7,572.2 155.2,571.3 155.7,571.3 156.2,572.0 156.7,571.2 157.2,571.9 157.7,572.2 158.2,572.2 158.7,571.2 159.2,571.1 159.7,571.3 160.2,571.3 160.7,570.0 161.2,571.0 161.7,570.9 162.2,571.2 162.7,570.1 163.2,571.2 163.7,570.4 164.2,570.7 164.7,570.5 165.2,569.6 165.7,570.4 166.2,570.5 166.7,570.5 167.2,570.1 167.7,569.5 168.2,570.3 168.7,570.0 169.2,570.6 169.7,570.8 170.2,570.3 170.7,570.7 171.2,570.7 171.7,570.5 172.2,571.6 172.7,572.3 173.2,572.9 173.7,573.0 174.2,574.5 174.7,574.2 175.2,575.1 175.7,575.8 176.2,576.7 176.7,577.9 177.2,578.6 177.7,579.6 178.2,581.0 178.7,581.8 179.2,582.1 179.7,583.4 180.2,584.0 180.7,585.4 181.2,586.1 181.7,586.1 182.2,587.6 182.7,589.2 183.2,589.2 183.7,590.1 184.2,591.0 184.7,591.9 185.2,592.5 185.7,593.1 186.2,594.5 186.7,593.9 187.2,594.5 187.7,594.8 188.2,595.3 188.7,595.9 189.2,596.4 189.7,595.7 190.2,595.8 190.7,596.3 191.2,596.2 191.7,596.7 192.2,596.0 192.7,597.1 193.2,596.0 193.7,597.2 194.2,597.3 194.7,598.0 195.2,596.8 195.7,597.1 196.2,597.1 196.7,596.3 197.2,596.1 197.7,595.3 198.2,594.5 198.7,593.7 199.2,593.3 199.7,592.0 200.2,590.8 200.7,590.7 201.2,589.2 201.7,588.6 202.2,586.7 202.7,584.3 203.2,582.0 203.7,579.8 204.2,577.1 204.7,575.3 205.2,573.1 205.7,572.2 206.2,568.3 206.7,566.7 207.2,564.8 207.7,562.7 208.2,561.0 208.7,558.5 209.2,557.8 209.7,555.2 210.2,555.6 210.7,555.5 211.2,554.6 211.7,553.0 212.2,552.8 212.7,551.8 213.2,552.1 213.7,551.8 214.2,552.3 214.7,551.9 215.2,552.6 215.7,552.7 216.2,553.0 216.7,554.2 217.2,554.4 217.7,554.1 218.2,555.3 218.7,555.2 219.2,555.9 219.7,555.7 220.2,555.2 220.7,555.6 221.2,554.8 221.7,555.1 222.2,555.4 222.7,556.3 223.2,555.8 223.7,556.0 224.2,556.4 224.7,555.9 225.2,556.8 225.7,556.6 226.2,556.4 226.7,556.8 227.2,557.1 227.7,557.7 228.2,558.3 228.7,557.5 229.2,557.5 229.7,558.2 230.2,558.9 230.7,558.6 231.2,558.0 231.7,557.9 232.2,558.1 232.7,558.1 233.2,557.9 233.7,558.7 234.2,559.2 234.7,558.0 235.2,558.5 235.7,558.5 236.2,558.1 236.7,558.7 237.2,557.7 237.7,558.4 238.2,558.0 238.7,558.0 239.2,557.1 239.7,557.9 240.2,557.6 240.7,558.1 241.2,558.0 241.7,557.7 242.2,558.4 242.7,558.3 243.2,558.6 243.7,557.7 244.2,558.2 244.7,557.7 245.2,557.9 245.7,558.2 246.2,557.2 246.7,558.6 247.2,557.8 247.7,557.1 248.2,557.1 248.7,557.3 249.2,557.5 249.7,557.1 250.2,557.5 250.7,557.0 251.2,557.0 251.7,558.0 252.2,556.7 252.7,556.3 253.2,557.1 253.7,556.2 254.2,556.2 254.7,555.3 255.2,556.1 255.7,555.4 256.2,555.8 256.7,555.8 257.2,556.5 257.7,556.2 258.2,555.6 258.7,555.2 259.2,555.6 259.7,555.2 260.2,555.8 260.7,554.9 261.2,554.1 261.7,554.8 262.2,554.5 262.7,553.4 263.2,553.5 263.7,552.6 264.2,552.8 264.7,552.7 265.2,552.5 265.7,552.4 266.2,552.2 266.7,552.5 267.2,552.0 267.7,551.8 268.2,552.4 268.7,551.2 269.2,551.3 269.7,551.5 270.2,551.2 270.7,550.5 271.2,550.0 271.7,550.4 272.2,549.5 272.7,549.9 273.2,549.1 273.7,549.7 274.2,549.2 274.7,549.7 275.2,549.9 275.7,549.2 276.2,548.7 276.7,548.9 277.2,548.0 277.7,549.6 278.2,548.1 278.7,548.3 279.2,549.1 279.7,549.2 280.2,550.5 280.7,551.1 281.2,551.3 281.7,551.8 282.2,552.3 282.7,553.2 283.2,553.8 283.7,554.2 284.2,555.2 284.7,554.8 285.2,555.6 285.7,555.7 286.2,556.1 286.7,555.9 287.2,556.4 287.7,556.6 288.2,556.8 288.7,555.8 289.2,555.6 289.7,555.4 290.2,554.9 290.7,554.0 291.2,554.2 291.7,552.9 292.2,553.3 292.7,552.4 293.2,553.3 293.7,552.4 294.2,552.3 294.7,552.8 295.2,552.3 295.7,552.8 296.2,552.5 296.7,552.9 297.2,551.6 297.7,551.4 298.2,551.9 298.7,551.5 299.2,551.3 299.7,550.8 300.2,551.0 300.7,550.5 301.2,550.3 301.7,548.9 302.2,549.2 302.7,549.1 303.2,549.4 303.7,548.7 304.2,549.4 304.7,548.3 305.2,549.1 305.7,548.9 306.2,547.7 306.7,548.4 307.2,547.5 307.7,548.3 308.2,547.2 308.7,547.7 309.2,547.3 309.7,546.7 310.2,546.5 310.7,547.8 311.2,547.2 311.7,547.6 312.2,547.0 312.7,547.8 313.2,546.4 313.7,546.4 314.2,545.8 314.7,545.6 315.2,545.8 315.7,545.1 316.2,545.0 316.7,545.8 317.2,545.0 317.7,544.7 318.2,545.0 318.7,544.6 319.2,545.1 319.7,545.5 320.2,545.2 320.7,545.3 321.2,545.1 321.7,544.9 322.2,544.8 322.7,544.7 323.2,544.7 323.7,545.3 324.2,544.4"/>
<path class="c" stroke="#1a80d4" stroke-width="3.2" d="M71.7,543.0 72.2,542.9 72.7,543.3 73.2,543.6 73.7,543.0 74.2,542.8 74.7,542.5 75.2,542.3 75.7,543.0 76.2,542.8 76.7,542.5 77.2,542.5 77.7,542.3 78.2,542.9 78.7,542.5 79.2,542.8 79.7,543.2 80.2,542.1 80.7,542.7 81.2,542.6 81.7,542.3 82.2,542.0 82.7,541.9 83.2,541.3 83.7,541.3 84.2,542.1 84.7,542.0 85.2,541.7 85.7,541.8 86.2,541.6 86.7,541.5 87.2,541.4 87.7,541.3 88.2,540.9 88.7,540.9 89.2,541.1 89.7,541.1 90.2,540.9 90.7,541.0 91.2,541.1 91.7,541.2 92.2,540.9 92.7,540.7 93.2,540.9 93.7,541.2 94.2,540.7 94.7,540.3 95.2,540.8 95.7,540.1 96.2,540.0 96.7,539.4 97.2,539.5 97.7,539.8 98.2,539.8 98.7,539.0 99.2,539.3 99.7,538.9 100.2,540.0 100.7,540.3 101.2,539.8 101.7,539.5 102.2,539.6 102.7,538.8 103.2,539.3 103.7,539.6 104.2,539.6 104.7,539.3 105.2,539.1 105.7,539.1 106.2,538.8 106.7,539.4 107.2,539.4 107.7,539.2 108.2,539.0 108.7,539.0 109.2,538.7 109.7,539.2 110.2,539.1 110.7,538.9 111.2,538.7 111.7,538.0 112.2,538.7 112.7,538.0 113.2,537.8 113.7,538.8 114.2,538.0 114.7,538.1 115.2,538.1 115.7,538.1 116.2,538.7 116.7,537.6 117.2,538.4 117.7,538.0 118.2,538.3 118.7,538.3 119.2,537.8 119.7,537.3 120.2,537.8 120.7,537.8 121.2,537.9 121.7,537.3 122.2,537.8 122.7,537.4 123.2,537.7 123.7,537.8 124.2,537.6 124.7,537.3 125.2,537.5 125.7,537.3 126.2,537.0 126.7,537.7 127.2,537.0 127.7,536.8 128.2,536.8 128.7,537.1 129.2,537.0 129.7,536.9 130.2,537.2 130.7,537.3 131.2,537.2 131.7,537.1 132.2,538.0 132.7,537.4 133.2,537.8 133.7,537.8 134.2,537.6 134.7,537.7 135.2,538.5 135.7,538.3 136.2,538.6 136.7,538.7 137.2,539.3 137.7,539.2 138.2,539.6 138.7,539.1 139.2,539.8 139.7,539.9 140.2,539.7 140.7,539.6 141.2,540.1 141.7,540.5 142.2,540.1 142.7,540.3 143.2,540.7 143.7,540.5 144.2,540.9 144.7,541.2 145.2,540.8 145.7,541.4 146.2,541.3 146.7,541.4 147.2,541.7 147.7,542.5 148.2,541.9 148.7,542.3 149.2,542.0 149.7,542.6 150.2,542.5 150.7,543.1 151.2,543.0 151.7,543.0 152.2,542.8 152.7,543.6 153.2,544.1 153.7,543.9 154.2,544.1 154.7,544.4 155.2,544.3 155.7,544.0 156.2,544.3 156.7,544.4 157.2,544.4 157.7,543.9 158.2,543.8 158.7,544.4 159.2,544.4 159.7,544.8 160.2,544.4 160.7,544.0 161.2,544.2 161.7,543.6 162.2,543.2 162.7,542.5 163.2,542.0 163.7,542.0 164.2,541.8 164.7,542.1 165.2,541.8 165.7,541.9 166.2,542.4 166.7,541.6 167.2,542.1 167.7,541.4 168.2,541.3 168.7,541.3 169.2,540.9 169.7,541.7 170.2,541.0 170.7,540.9 171.2,541.0 171.7,540.6 172.2,540.9 172.7,539.9 173.2,541.1 173.7,541.0 174.2,541.1 174.7,541.7 175.2,541.3 175.7,541.1 176.2,540.9 176.7,542.0 177.2,540.7 177.7,541.3 178.2,541.8 178.7,541.4 179.2,540.9 179.7,541.0 180.2,540.7 180.7,541.2 181.2,541.0 181.7,540.8 182.2,540.6 182.7,541.4 183.2,540.6 183.7,540.5 184.2,541.7 184.7,540.7 185.2,540.6 185.7,540.7 186.2,541.5 186.7,541.3 187.2,541.8 187.7,541.3 188.2,542.2 188.7,542.7 189.2,542.9 189.7,543.5 190.2,543.4 190.7,542.9 191.2,543.5 191.7,544.2 192.2,544.7 192.7,545.0 193.2,545.5 193.7,544.9 194.2,544.9 194.7,546.2 195.2,546.0 195.7,545.8 196.2,546.6 196.7,547.4 197.2,547.6 197.7,547.7 198.2,548.7 198.7,548.5 199.2,549.0 199.7,548.9 200.2,549.0 200.7,549.8 201.2,548.0 201.7,548.1 202.2,546.1 202.7,545.1 203.2,543.5 203.7,541.4 204.2,539.1 204.7,536.4 205.2,534.4 205.7,532.5 206.2,530.3 206.7,527.5 207.2,525.6 207.7,523.4 208.2,521.5 208.7,519.6 209.2,518.2 209.7,517.3 210.2,515.2 210.7,514.6 211.2,513.9 211.7,512.6 212.2,513.0 212.7,512.5 213.2,511.2 213.7,511.2 214.2,510.9 214.7,510.6 215.2,510.9 215.7,511.3 216.2,511.8 216.7,511.4 217.2,511.5 217.7,511.5 218.2,511.0 218.7,511.4 219.2,511.2 219.7,511.1 220.2,511.6 220.7,510.7 221.2,511.4 221.7,511.7 222.2,512.0 222.7,511.6 223.2,512.0 223.7,512.5 224.2,512.7 224.7,512.4 225.2,512.5 225.7,512.5 226.2,512.7 226.7,512.0 227.2,513.3 227.7,513.4 228.2,513.2 228.7,513.0 229.2,514.0 229.7,513.5 230.2,514.1 230.7,513.9 231.2,513.7 231.7,513.8 232.2,513.8 232.7,514.3 233.2,514.6 233.7,514.5 234.2,514.5 234.7,514.9 235.2,515.1 235.7,514.9 236.2,515.0 236.7,515.2 237.2,515.2 237.7,515.4 238.2,515.1 238.7,515.4 239.2,515.3 239.7,515.5 240.2,515.2 240.7,514.4 241.2,514.8 241.7,514.7 242.2,514.5 242.7,514.0 243.2,514.2 243.7,513.6 244.2,513.3 244.7,513.8 245.2,513.7 245.7,513.8 246.2,514.0 246.7,514.6 247.2,513.4 247.7,513.3 248.2,513.3 248.7,512.7 249.2,512.7 249.7,513.0 250.2,512.3 250.7,512.1 251.2,512.3 251.7,511.4 252.2,511.8 252.7,511.5 253.2,511.5 253.7,511.0 254.2,511.2 254.7,511.1 255.2,511.3 255.7,510.7 256.2,511.0 256.7,510.2 257.2,510.9 257.7,510.9 258.2,510.1 258.7,510.1 259.2,509.9 259.7,509.9 260.2,510.0 260.7,509.7 261.2,509.4 261.7,509.5 262.2,509.6 262.7,509.4 263.2,508.8 263.7,508.2 264.2,508.2 264.7,508.0 265.2,507.8 265.7,507.8 266.2,508.0 266.7,508.5 267.2,507.8 267.7,507.9 268.2,507.5 268.7,507.8 269.2,507.4 269.7,507.3 270.2,506.8 270.7,506.2 271.2,506.3 271.7,506.1 272.2,506.0 272.7,505.8 273.2,505.9 273.7,505.5 274.2,505.2 274.7,505.4 275.2,504.3 275.7,504.3 276.2,504.2 276.7,504.1 277.2,504.1 277.7,504.1 278.2,504.2 278.7,504.1 279.2,503.9 279.7,503.5 280.2,503.6 280.7,503.8 281.2,503.8 281.7,504.0 282.2,504.2 282.7,504.6 283.2,504.8 283.7,504.8 284.2,505.0 284.7,505.6 285.2,505.2 285.7,506.1 286.2,506.2 286.7,507.6 287.2,507.1 287.7,507.2 288.2,507.5 288.7,507.4 289.2,508.1 289.7,509.2 290.2,509.0 290.7,509.2 291.2,509.6 291.7,509.9 292.2,509.7 292.7,509.9 293.2,509.9 293.7,509.4 294.2,509.7 294.7,508.8 295.2,508.7 295.7,509.5 296.2,509.4 296.7,509.2 297.2,508.0 297.7,508.3 298.2,508.4 298.7,508.5 299.2,508.1 299.7,507.9 300.2,507.9 300.7,507.2 301.2,507.0 301.7,506.4 302.2,506.4 302.7,505.8 303.2,505.7 303.7,505.0 304.2,504.9 304.7,504.6 305.2,505.2 305.7,504.5 306.2,505.3 306.7,504.8 307.2,504.1 307.7,504.5 308.2,503.9 308.7,503.9 309.2,503.7 309.7,504.1 310.2,504.0 310.7,503.7 311.2,503.2 311.7,503.7 312.2,503.1 312.7,502.7 313.2,502.5 313.7,502.4 314.2,501.9 314.7,502.3 315.2,501.7 315.7,502.3 316.2,502.2 316.7,502.1 317.2,501.4 317.7,501.6 318.2,501.2 318.7,501.2 319.2,500.7 319.7,500.9 320.2,501.1 320.7,501.4 321.2,500.5 321.7,500.7 322.2,500.5 322.7,500.4 323.2,500.1 323.7,500.5 324.2,500.4 324.7,500.3 325.2,500.5 325.7,500.3"/>
<path class="c" stroke="#1264dc" stroke-width="3.3" d="M71.7,503.7 72.2,504.3 72.7,504.1 73.2,503.7 73.7,504.2 74.2,503.4 74.7,504.3 75.2,504.1 75.7,504.5 76.2,503.7 76.7,504.6 77.2,504.4 77.7,504.2 78.2,504.2 78.7,502.9 79.2,503.4 79.7,502.5 80.2,503.4 80.7,503.5 81.2,502.6 81.7,502.7 82.2,503.1 82.7,502.6 83.2,502.3 83.7,501.6 84.2,501.7 84.7,502.7 85.2,501.4 85.7,502.1 86.2,501.9 86.7,501.9 87.2,502.5 87.7,501.6 88.2,502.2 88.7,500.9 89.2,501.4 89.7,500.4 90.2,500.6 90.7,500.6 91.2,501.9 91.7,500.9 92.2,501.3 92.7,502.3 93.2,502.0 93.7,501.3 94.2,500.8 94.7,500.5 95.2,500.9 95.7,501.1 96.2,501.3 96.7,501.2 97.2,501.6 97.7,500.8 98.2,500.2 98.7,500.2 99.2,500.8 99.7,500.2 100.2,500.8 100.7,499.7 101.2,499.9 101.7,499.6 102.2,500.2 102.7,499.4 103.2,498.9 103.7,499.2 104.2,498.5 104.7,499.3 105.2,499.4 105.7,498.9 106.2,499.5 106.7,498.9 107.2,498.7 107.7,499.0 108.2,499.3 108.7,499.1 109.2,498.3 109.7,499.6 110.2,499.0 110.7,498.4 111.2,499.4 111.7,498.8 112.2,500.0 112.7,499.5 113.2,499.2 113.7,499.1 114.2,498.7 114.7,498.7 115.2,498.8 115.7,499.5 116.2,499.1 116.7,498.8 117.2,499.4 117.7,498.9 118.2,498.6 118.7,498.5 119.2,500.0 119.7,499.5 120.2,500.2 120.7,500.7 121.2,500.1 121.7,500.6 122.2,500.1 122.7,500.4 123.2,500.5 123.7,500.5 124.2,501.2 124.7,500.4 125.2,500.9 125.7,500.7 126.2,500.9 126.7,501.8 127.2,500.4 127.7,501.8 128.2,501.2 128.7,501.4 129.2,501.5 129.7,501.6 130.2,501.3 130.7,500.7 131.2,502.7 131.7,502.5 132.2,502.1 132.7,501.4 133.2,502.5 133.7,502.7 134.2,502.3 134.7,500.8 135.2,501.1 135.7,501.4 136.2,501.2 136.7,501.9 137.2,500.6 137.7,501.0 138.2,500.4 138.7,501.8 139.2,501.6 139.7,501.0 140.2,500.6 140.7,501.7 141.2,500.7 141.7,500.8 142.2,500.3 142.7,500.6 143.2,501.1 143.7,500.9 144.2,501.8 144.7,501.7 145.2,501.4 145.7,501.2 146.2,501.0 146.7,500.4 147.2,501.1 147.7,500.5 148.2,501.0 148.7,501.2 149.2,501.0 149.7,500.8 150.2,501.7 150.7,500.3 151.2,500.3 151.7,500.4 152.2,500.4 152.7,501.0 153.2,499.7 153.7,501.1 154.2,501.9 154.7,502.1 155.2,501.7 155.7,500.8 156.2,501.0 156.7,500.6 157.2,500.1 157.7,500.4 158.2,501.2 158.7,501.0 159.2,500.7 159.7,500.8 160.2,500.5 160.7,500.9 161.2,499.7 161.7,499.0 162.2,499.9 162.7,500.1 163.2,499.3 163.7,499.6 164.2,500.1 164.7,498.6 165.2,500.8 165.7,499.8 166.2,499.2 166.7,498.9 167.2,498.6 167.7,500.5 168.2,498.8 168.7,499.5 169.2,498.9 169.7,499.0 170.2,499.2 170.7,498.5 171.2,499.2 171.7,499.2 172.2,499.5 172.7,499.8 173.2,499.6 173.7,500.4 174.2,499.4 174.7,499.2 175.2,499.5 175.7,499.2 176.2,499.6 176.7,497.8 177.2,498.1 177.7,497.9 178.2,499.6 178.7,499.1 179.2,498.2 179.7,498.7 180.2,497.9 180.7,498.7 181.2,499.6 181.7,499.4 182.2,500.2 182.7,499.1 183.2,500.2 183.7,499.7 184.2,499.6 184.7,500.0 185.2,500.3 185.7,500.5 186.2,499.6 186.7,499.7 187.2,499.7 187.7,500.0 188.2,499.5 188.7,500.6 189.2,500.7 189.7,500.8 190.2,500.8 190.7,500.6 191.2,500.8 191.7,501.0 192.2,501.5 192.7,502.7 193.2,502.6 193.7,502.1 194.2,502.8 194.7,504.2 195.2,504.7 195.7,504.5 196.2,505.4 196.7,504.3 197.2,504.8 197.7,504.6 198.2,506.3 198.7,505.8 199.2,506.3 199.7,506.8 200.2,506.9 200.7,507.4 201.2,506.6 201.7,507.5 202.2,507.1 202.7,507.4 203.2,506.9 203.7,505.8 204.2,504.0 204.7,502.6 205.2,501.1 205.7,498.3 206.2,495.9 206.7,493.0 207.2,491.3 207.7,488.2 208.2,485.9 208.7,482.3 209.2,480.4 209.7,477.7 210.2,476.9 210.7,475.6 211.2,474.1 211.7,473.3 212.2,471.4 212.7,471.7 213.2,470.5 213.7,469.9 214.2,469.1 214.7,468.6 215.2,468.1 215.7,468.6 216.2,468.3 216.7,468.3 217.2,467.9 217.7,468.6 218.2,468.7 218.7,468.1 219.2,469.5 219.7,469.4 220.2,469.8 220.7,469.5 221.2,469.4 221.7,469.9 222.2,470.6 222.7,469.4 223.2,468.7 223.7,469.5 224.2,470.0 224.7,470.7 225.2,469.8 225.7,470.4 226.2,470.7 226.7,471.3 227.2,471.3 227.7,470.8 228.2,471.4 228.7,470.7 229.2,471.0 229.7,469.9 230.2,470.5 230.7,470.5 231.2,471.3 231.7,471.8 232.2,471.5 232.7,472.0 233.2,471.8 233.7,472.3 234.2,471.9 234.7,471.7 235.2,472.4 235.7,472.1 236.2,473.0 236.7,471.9 237.2,472.1 237.7,472.0 238.2,471.9 238.7,472.7 239.2,471.5 239.7,472.0 240.2,470.8 240.7,472.3 241.2,472.0 241.7,472.6 242.2,472.9 242.7,471.7 243.2,471.8 243.7,471.0 244.2,470.8 244.7,470.7 245.2,470.7 245.7,471.0 246.2,470.7 246.7,470.8 247.2,470.0 247.7,470.0 248.2,469.2 248.7,469.4 249.2,468.3 249.7,469.3 250.2,469.4 250.7,469.5 251.2,469.3 251.7,468.7 252.2,468.7 252.7,468.7 253.2,468.8 253.7,468.6 254.2,468.0 254.7,467.9 255.2,468.4 255.7,467.4 256.2,468.0 256.7,467.7 257.2,466.9 257.7,466.2 258.2,466.2 258.7,466.7 259.2,466.7 259.7,465.7 260.2,465.9 260.7,465.3 261.2,465.2 261.7,465.3 262.2,465.1 262.7,464.3 263.2,464.1 263.7,464.5 264.2,463.8 264.7,464.9 265.2,463.3 265.7,464.0 266.2,463.7 266.7,463.6 267.2,463.1 267.7,462.9 268.2,462.9 268.7,462.8 269.2,463.1 269.7,462.9 270.2,462.2 270.7,462.8 271.2,462.9 271.7,462.3 272.2,462.4 272.7,461.9 273.2,462.2 273.7,462.5 274.2,462.7 274.7,462.4 275.2,461.8 275.7,462.9 276.2,462.9 276.7,462.3 277.2,463.0 277.7,463.3 278.2,462.5 278.7,464.5 279.2,464.5 279.7,464.4 280.2,464.8 280.7,463.9 281.2,464.9 281.7,465.5 282.2,463.9 282.7,465.3 283.2,466.0 283.7,465.5 284.2,465.4 284.7,466.9 285.2,467.3 285.7,467.2 286.2,468.3 286.7,469.2 287.2,469.4 287.7,469.2 288.2,468.8 288.7,469.5 289.2,468.8 289.7,469.4 290.2,470.2 290.7,470.6 291.2,470.1 291.7,469.9 292.2,469.0 292.7,469.2 293.2,468.8 293.7,468.5 294.2,468.5 294.7,469.6 295.2,468.9 295.7,467.8 296.2,467.8 296.7,467.8 297.2,467.2 297.7,467.1 298.2,465.9 298.7,466.9 299.2,466.5 299.7,466.1 300.2,465.6 300.7,465.3 301.2,464.8 301.7,464.0 302.2,464.8 302.7,464.7 303.2,464.0 303.7,463.5 304.2,465.0 304.7,463.7 305.2,464.1 305.7,463.6 306.2,464.7 306.7,463.2 307.2,464.0 307.7,462.4 308.2,463.7 308.7,462.9 309.2,461.8 309.7,462.7 310.2,462.5 310.7,461.6 311.2,462.2 311.7,462.0 312.2,461.9 312.7,460.8 313.2,460.9 313.7,460.5 314.2,460.8 314.7,460.5 315.2,460.6 315.7,461.5 316.2,460.7 316.7,461.4 317.2,461.3 317.7,460.4 318.2,459.6 318.7,460.5 319.2,460.3 319.7,460.2 320.2,459.8 320.7,459.5 321.2,458.7 321.7,458.7 322.2,460.4 322.7,459.6 323.2,458.2 323.7,459.0 324.2,459.0 324.7,457.7"/>
<path class="c" stroke="#3144bd" stroke-width="3.2" d="M71.7,466.1 72.2,465.9 72.7,465.8 73.2,464.9 73.7,464.2 74.2,465.5 74.7,465.1 75.2,465.7 75.7,465.2 76.2,465.5 76.7,464.8 77.2,465.2 77.7,464.6 78.2,466.1 78.7,465.0 79.2,464.4 79.7,465.8 80.2,465.7 80.7,465.7 81.2,464.3 81.7,464.9 82.2,465.0 82.7,464.4 83.2,464.4 83.7,464.0 84.2,464.0 84.7,464.8 85.2,463.9 85.7,464.2 86.2,464.6 86.7,464.5 87.2,464.8 87.7,463.4 88.2,464.7 88.7,463.5 89.2,463.6 89.7,463.5 90.2,463.8 90.7,463.5 91.2,463.5 91.7,464.1 92.2,464.9 92.7,463.7 93.2,463.4 93.7,463.5 94.2,463.0 94.7,463.1 95.2,463.2 95.7,463.7 96.2,463.2 96.7,463.1 97.2,463.2 97.7,462.7 98.2,464.3 98.7,463.8 99.2,463.5 99.7,462.8 100.2,463.5 100.7,463.3 101.2,463.4 101.7,463.1 102.2,463.7 102.7,463.7 103.2,463.5 103.7,463.3 104.2,463.7 104.7,462.8 105.2,462.0 105.7,462.3 106.2,463.3 106.7,463.4 107.2,462.4 107.7,463.0 108.2,463.3 108.7,463.7 109.2,463.2 109.7,463.5 110.2,463.3 110.7,462.6 111.2,463.8 111.7,463.4 112.2,463.3 112.7,463.1 113.2,463.0 113.7,463.0 114.2,463.7 114.7,462.7 115.2,463.8 115.7,463.9 116.2,461.5 116.7,463.1 117.2,462.0 117.7,462.7 118.2,462.8 118.7,462.8 119.2,463.4 119.7,463.2 120.2,464.2 120.7,463.7 121.2,463.0 121.7,463.7 122.2,463.7 122.7,463.4 123.2,462.9 123.7,464.4 124.2,463.3 124.7,463.2 125.2,462.5 125.7,463.6 126.2,463.3 126.7,463.9 127.2,464.4 127.7,463.3 128.2,463.4 128.7,464.1 129.2,464.0 129.7,463.6 130.2,463.6 130.7,463.1 131.2,463.1 131.7,463.3 132.2,462.5 132.7,463.5 133.2,463.6 133.7,463.0 134.2,463.2 134.7,463.3 135.2,463.4 135.7,463.0 136.2,462.6 136.7,463.2 137.2,463.0 137.7,462.5 138.2,463.1 138.7,463.3 139.2,463.9 139.7,463.0 140.2,463.1 140.7,463.4 141.2,463.5 141.7,464.6 142.2,463.4 142.7,464.0 143.2,463.8 143.7,463.8 144.2,463.9 144.7,463.3 145.2,462.6 145.7,462.6 146.2,463.6 146.7,463.9 147.2,463.5 147.7,464.0 148.2,463.1 148.7,462.6 149.2,462.9 149.7,463.1 150.2,463.5 150.7,463.6 151.2,462.9 151.7,463.8 152.2,463.2 152.7,463.7 153.2,464.0 153.7,463.8 154.2,463.7 154.7,463.2 155.2,463.5 155.7,463.5 156.2,462.5 156.7,462.1 157.2,461.5 157.7,462.7 158.2,462.1 158.7,462.8 159.2,462.5 159.7,463.0 160.2,462.8 160.7,463.1 161.2,462.3 161.7,462.1 162.2,462.5 162.7,462.7 163.2,462.2 163.7,462.9 164.2,462.5 164.7,462.8 165.2,462.0 165.7,462.8 166.2,462.4 166.7,462.6 167.2,462.3 167.7,462.6 168.2,461.6 168.7,462.7 169.2,463.4 169.7,463.0 170.2,463.0 170.7,463.0 171.2,463.2 171.7,462.3 172.2,462.0 172.7,462.3 173.2,462.3 173.7,462.9 174.2,463.5 174.7,462.7 175.2,462.6 175.7,463.3 176.2,463.5 176.7,462.3 177.2,462.8 177.7,462.5 178.2,462.4 178.7,462.6 179.2,462.1 179.7,461.6 180.2,462.0 180.7,462.2 181.2,462.7 181.7,463.1 182.2,463.4 182.7,463.0 183.2,463.1 183.7,462.5 184.2,462.6 184.7,463.3 185.2,462.9 185.7,463.8 186.2,463.2 186.7,462.7 187.2,462.9 187.7,462.4 188.2,464.1 188.7,464.1 189.2,465.6 189.7,465.0 190.2,464.3 190.7,463.8 191.2,463.6 191.7,464.4 192.2,464.9 192.7,464.7 193.2,466.0 193.7,466.5 194.2,465.8 194.7,466.4 195.2,466.1 195.7,467.1 196.2,466.3 196.7,466.1 197.2,466.1 197.7,466.7 198.2,466.6 198.7,467.9 199.2,468.1 199.7,467.6 200.2,467.8 200.7,468.3 201.2,468.5 201.7,468.6 202.2,469.8 202.7,469.8 203.2,470.6 203.7,468.6 204.2,469.2 204.7,469.9 205.2,469.4 205.7,468.8 206.2,468.1 206.7,468.1 207.2,466.6 207.7,465.7 208.2,463.6 208.7,461.1 209.2,457.7 209.7,456.6 210.2,455.1 210.7,453.0 211.2,450.5 211.7,448.2 212.2,445.2 212.7,444.4 213.2,442.9 213.7,440.8 214.2,439.4 214.7,437.9 215.2,436.8 215.7,435.6 216.2,435.3 216.7,434.4 217.2,433.5 217.7,433.3 218.2,433.3 218.7,432.7 219.2,432.9 219.7,432.4 220.2,432.2 220.7,431.5 221.2,431.6 221.7,430.8 222.2,430.7 222.7,431.4 223.2,431.2 223.7,430.6 224.2,431.4 224.7,431.5 225.2,431.1 225.7,431.5 226.2,431.4 226.7,431.5 227.2,430.7 227.7,430.5 228.2,431.5 228.7,430.1 229.2,431.3 229.7,431.2 230.2,432.1 230.7,431.9 231.2,432.2 231.7,431.8 232.2,432.3 232.7,433.1 233.2,432.1 233.7,431.7 234.2,433.2 234.7,433.4 235.2,433.1 235.7,433.2 236.2,433.4 236.7,433.4 237.2,434.1 237.7,433.5 238.2,433.5 238.7,433.9 239.2,433.5 239.7,433.9 240.2,432.9 240.7,433.0 241.2,433.5 241.7,433.3 242.2,434.3 242.7,434.0 243.2,434.3 243.7,433.4 244.2,434.3 244.7,433.8 245.2,432.5 245.7,433.2 246.2,433.2 246.7,432.4 247.2,432.1 247.7,431.7 248.2,432.4 248.7,432.5 249.2,432.2 249.7,433.3 250.2,432.2 250.7,432.2 251.2,431.0 251.7,431.6 252.2,431.7 252.7,430.5 253.2,431.5 253.7,430.1 254.2,430.3 254.7,429.9 255.2,429.6 255.7,428.3 256.2,430.0 256.7,428.4 257.2,429.7 257.7,428.3 258.2,428.4 258.7,429.7 259.2,428.0 259.7,428.2 260.2,427.9 260.7,428.3 261.2,428.6 261.7,429.0 262.2,426.9 262.7,428.1 263.2,428.2 263.7,428.2 264.2,427.4 264.7,428.0 265.2,428.6 265.7,427.8 266.2,428.5 266.7,427.0 267.2,427.0 267.7,427.0 268.2,426.6 268.7,427.4 269.2,426.6 269.7,427.5 270.2,426.9 270.7,427.3 271.2,428.0 271.7,428.4 272.2,427.7 272.7,427.4 273.2,428.3 273.7,427.9 274.2,428.7 274.7,429.1 275.2,429.3 275.7,428.5 276.2,430.0 276.7,430.0 277.2,429.3 277.7,429.8 278.2,430.6 278.7,430.4 279.2,430.8 279.7,431.4 280.2,431.3 280.7,432.3 281.2,432.2 281.7,432.1 282.2,432.4 282.7,432.4 283.2,433.6 283.7,432.9 284.2,433.8 284.7,433.3 285.2,432.8 285.7,434.2 286.2,433.9 286.7,433.9 287.2,434.0 287.7,434.3 288.2,434.2 288.7,435.4 289.2,435.3 289.7,434.8 290.2,434.7 290.7,434.7 291.2,434.6 291.7,433.7 292.2,433.3 292.7,433.0 293.2,433.0 293.7,432.4 294.2,432.2 294.7,433.0 295.2,432.2 295.7,432.3 296.2,431.2 296.7,432.0 297.2,431.5 297.7,431.3 298.2,431.2 298.7,431.0 299.2,430.9 299.7,430.9 300.2,430.4 300.7,430.9 301.2,429.7 301.7,429.5 302.2,429.2 302.7,428.9 303.2,428.7 303.7,429.3 304.2,428.5 304.7,429.7 305.2,429.5 305.7,427.8 306.2,428.9 306.7,428.5 307.2,428.3 307.7,427.9 308.2,428.1 308.7,426.8 309.2,426.7 309.7,427.0 310.2,426.6 310.7,425.6 311.2,426.5 311.7,426.5 312.2,425.5 312.7,425.5 313.2,425.6 313.7,424.1 314.2,424.6 314.7,424.4 315.2,425.0 315.7,424.6 316.2,424.4 316.7,425.3 317.2,425.9 317.7,424.3 318.2,425.4 318.7,424.7 319.2,424.5 319.7,424.5 320.2,423.6 320.7,424.1 321.2,422.7 321.7,422.8 322.2,423.5 322.7,423.5 323.2,422.5 323.7,422.4 324.2,423.8 324.7,423.9 325.2,423.8 325.7,423.3"/>
<path class="c" stroke="#352a87" stroke-width="3.5" d="M71.7,415.8 72.2,415.9 72.7,417.3 73.2,414.1 73.7,417.4 74.2,417.2 74.7,416.2 75.2,417.2 75.7,416.3 76.2,417.3 76.7,416.6 77.2,416.6 77.7,415.1 78.2,415.3 78.7,416.8 79.2,415.5 79.7,415.5 80.2,415.1 80.7,415.5 81.2,415.7 81.7,414.9 82.2,415.7 82.7,415.7 83.2,414.1 83.7,415.2 84.2,416.6 84.7,414.7 85.2,414.8 85.7,414.8 86.2,414.2 86.7,413.5 87.2,414.4 87.7,413.9 88.2,413.7 88.7,415.3 89.2,414.6 89.7,413.9 90.2,414.5 90.7,416.4 91.2,415.8 91.7,413.8 92.2,415.1 92.7,414.1 93.2,413.7 93.7,415.7 94.2,414.9 94.7,413.6 95.2,414.6 95.7,415.1 96.2,414.5 96.7,414.6 97.2,413.9 97.7,415.5 98.2,415.2 98.7,413.5 99.2,413.0 99.7,413.6 100.2,414.9 100.7,414.5 101.2,414.6 101.7,414.6 102.2,412.8 102.7,414.0 103.2,413.6 103.7,413.4 104.2,414.4 104.7,413.1 105.2,413.3 105.7,414.2 106.2,414.1 106.7,413.4 107.2,413.8 107.7,414.2 108.2,414.5 108.7,413.5 109.2,414.9 109.7,415.7 110.2,413.8 110.7,413.4 111.2,414.7 111.7,414.1 112.2,413.0 112.7,413.5 113.2,413.6 113.7,414.8 114.2,412.7 114.7,414.9 115.2,413.2 115.7,414.2 116.2,413.5 116.7,414.2 117.2,414.7 117.7,414.2 118.2,413.1 118.7,414.5 119.2,414.7 119.7,416.4 120.2,414.4 120.7,414.7 121.2,414.1 121.7,414.4 122.2,415.2 122.7,413.4 123.2,415.8 123.7,415.9 124.2,415.6 124.7,415.2 125.2,416.6 125.7,414.0 126.2,413.7 126.7,416.1 127.2,413.4 127.7,414.2 128.2,414.0 128.7,413.0 129.2,413.4 129.7,413.5 130.2,414.2 130.7,414.4 131.2,414.5 131.7,414.5 132.2,414.2 132.7,414.8 133.2,413.8 133.7,413.5 134.2,414.7 134.7,412.2 135.2,414.5 135.7,415.2 136.2,413.0 136.7,412.5 137.2,414.0 137.7,415.0 138.2,413.8 138.7,415.0 139.2,414.7 139.7,413.3 140.2,414.6 140.7,412.9 141.2,414.0 141.7,414.9 142.2,415.8 142.7,415.4 143.2,415.9 143.7,413.1 144.2,417.0 144.7,413.8 145.2,414.9 145.7,415.7 146.2,415.2 146.7,416.1 147.2,414.0 147.7,413.8 148.2,414.1 148.7,414.0 149.2,414.5 149.7,414.0 150.2,413.3 150.7,414.4 151.2,413.0 151.7,413.7 152.2,414.5 152.7,413.7 153.2,413.8 153.7,414.7 154.2,415.6 154.7,415.2 155.2,415.3 155.7,415.0 156.2,414.4 156.7,414.5 157.2,414.0 157.7,414.8 158.2,414.5 158.7,414.0 159.2,414.3 159.7,415.4 160.2,414.1 160.7,412.5 161.2,413.9 161.7,413.8 162.2,413.4 162.7,415.8 163.2,415.2 163.7,415.8 164.2,414.6 164.7,415.9 165.2,415.6 165.7,415.2 166.2,414.4 166.7,415.2 167.2,413.0 167.7,415.0 168.2,416.4 168.7,415.4 169.2,412.7 169.7,414.6 170.2,413.7 170.7,413.8 171.2,414.5 171.7,415.6 172.2,415.0 172.7,414.2 173.2,415.7 173.7,415.4 174.2,416.6 174.7,413.7 175.2,415.0 175.7,414.1 176.2,414.7 176.7,413.4 177.2,414.1 177.7,414.6 178.2,414.4 178.7,414.0 179.2,414.5 179.7,413.7 180.2,414.1 180.7,414.7 181.2,415.0 181.7,415.2 182.2,413.6 182.7,414.8 183.2,416.1 183.7,414.3 184.2,415.8 184.7,415.8 185.2,417.5 185.7,417.5 186.2,416.3 186.7,415.7 187.2,414.2 187.7,414.9 188.2,414.2 188.7,414.7 189.2,416.1 189.7,415.9 190.2,414.7 190.7,414.7 191.2,414.5 191.7,415.3 192.2,414.8 192.7,416.6 193.2,414.5 193.7,415.2 194.2,414.3 194.7,415.4 195.2,416.3 195.7,414.8 196.2,414.3 196.7,413.6 197.2,414.4 197.7,413.5 198.2,415.0 198.7,415.8 199.2,416.1 199.7,416.1 200.2,415.3 200.7,417.3 201.2,415.1 201.7,415.2 202.2,416.8 202.7,414.9 203.2,414.4 203.7,413.9 204.2,415.8 204.7,416.1 205.2,415.6 205.7,414.2 206.2,415.7 206.7,415.3 207.2,416.8 207.7,418.1 208.2,418.1 208.7,418.7 209.2,419.5 209.7,419.9 210.2,417.6 210.7,417.7 211.2,414.7 211.7,413.8 212.2,414.4 212.7,410.9 213.2,409.5 213.7,408.6 214.2,405.9 214.7,402.1 215.2,401.3 215.7,399.4 216.2,397.0 216.7,397.9 217.2,395.1 217.7,393.8 218.2,393.6 218.7,391.9 219.2,389.8 219.7,390.0 220.2,389.2 220.7,388.9 221.2,389.2 221.7,388.4 222.2,387.9 222.7,387.1 223.2,387.7 223.7,388.9 224.2,385.9 224.7,387.9 225.2,387.9 225.7,387.3 226.2,387.1 226.7,387.5 227.2,386.0 227.7,387.7 228.2,387.5 228.7,386.6 229.2,388.1 229.7,389.4 230.2,388.4 230.7,387.3 231.2,387.0 231.7,386.7 232.2,388.7 232.7,387.9 233.2,388.4 233.7,388.8 234.2,388.5 234.7,390.6 235.2,390.5 235.7,391.5 236.2,389.0 236.7,390.6 237.2,391.4 237.7,390.0 238.2,390.3 238.7,390.3 239.2,392.5 239.7,391.9 240.2,390.8 240.7,392.2 241.2,390.8 241.7,391.3 242.2,391.3 242.7,390.7 243.2,392.4 243.7,391.4 244.2,389.5 244.7,391.3 245.2,392.4 245.7,389.7 246.2,391.9 246.7,391.4 247.2,390.2 247.7,390.6 248.2,389.5 248.7,389.1 249.2,390.5 249.7,390.4 250.2,389.0 250.7,390.1 251.2,390.6 251.7,388.9 252.2,391.2 252.7,389.3 253.2,389.8 253.7,390.0 254.2,388.5 254.7,389.4 255.2,389.3 255.7,389.7 256.2,389.0 256.7,389.8 257.2,389.3 257.7,389.8 258.2,388.7 258.7,386.9 259.2,387.4 259.7,388.3 260.2,388.9 260.7,387.5 261.2,387.9 261.7,387.9 262.2,387.7 262.7,388.6 263.2,386.8 263.7,388.5 264.2,387.7 264.7,388.9 265.2,388.1 265.7,388.4 266.2,389.7 266.7,387.9 267.2,388.7 267.7,388.7 268.2,387.6 268.7,387.6 269.2,387.6 269.7,387.1 270.2,388.3 270.7,388.6 271.2,389.4 271.7,388.0 272.2,388.6 272.7,387.0 273.2,388.2 273.7,387.3 274.2,388.1 274.7,387.8 275.2,388.8 275.7,386.3 276.2,387.9 276.7,387.8 277.2,388.6 277.7,387.7 278.2,387.8 278.7,389.3 279.2,387.0 279.7,387.1 280.2,388.4 280.7,386.5 281.2,388.6 281.7,389.0 282.2,389.6 282.7,388.5 283.2,389.0 283.7,389.5 284.2,390.3 284.7,392.0 285.2,391.3 285.7,392.8 286.2,392.1 286.7,392.6 287.2,391.6 287.7,391.4 288.2,392.5 288.7,392.8 289.2,392.0 289.7,393.6 290.2,392.6 290.7,394.5 291.2,392.3 291.7,393.5 292.2,394.4 292.7,394.2 293.2,393.8 293.7,394.5 294.2,395.1 294.7,393.8 295.2,394.5 295.7,393.6 296.2,393.1 296.7,394.3 297.2,392.7 297.7,392.9 298.2,393.9 298.7,392.2 299.2,392.0 299.7,392.9 300.2,393.0 300.7,393.5 301.2,392.1 301.7,391.6 302.2,390.8 302.7,390.9 303.2,390.4 303.7,391.4 304.2,389.4 304.7,389.2 305.2,389.6 305.7,390.7 306.2,391.4 306.7,392.1 307.2,389.5 307.7,390.6 308.2,389.9 308.7,392.1 309.2,390.4 309.7,391.6 310.2,390.1 310.7,391.3 311.2,390.2 311.7,389.0 312.2,390.2 312.7,388.8 313.2,387.1 313.7,388.2 314.2,387.0 314.7,388.3 315.2,389.4 315.7,388.3 316.2,388.7 316.7,387.4 317.2,387.9 317.7,388.2 318.2,389.9 318.7,388.2 319.2,388.3 319.7,386.5 320.2,387.6 320.7,388.0 321.2,387.8 321.7,387.5 322.2,388.2 322.7,388.3 323.2,386.9 323.7,386.3 324.2,387.6 324.7,387.5 325.2,385.4 325.7,386.8 326.2,384.5 326.7,385.1"/>
</g>
<rect class="f" x="71.8" y="369.0" width="259.4" height="259.0"/>
<path class="f" style="stroke-width:1.15" d="M167.9,369.0v3.4M167.9,628.0v-3.4M263.9,369.0v3.4M263.9,628.0v-3.4M71.8,420.7h3.4M331.2,420.7h-3.4M71.8,472.4h3.4M331.2,472.4h-3.4M71.8,524.1h3.4M331.2,524.1h-3.4M71.8,575.8h3.4M331.2,575.8h-3.4"/>
<text class="t" text-anchor="middle" x="72.4" y="651.7" font-size="19.2">30</text>
<text class="t" text-anchor="middle" x="168.5" y="651.7" font-size="19.2">40</text>
<text class="t" text-anchor="middle" x="264.5" y="651.7" font-size="19.2">50</text>
<text class="t" text-anchor="end" x="65.6" y="375.7">4</text>
<text class="t" text-anchor="end" x="65.6" y="427.4">2</text>
<text class="t" text-anchor="end" x="65.6" y="479.1">0</text>
<text class="t" text-anchor="end" x="65.6" y="530.8">–2</text>
<text class="t" text-anchor="end" x="65.6" y="582.5">–4</text>
<text class="t" text-anchor="end" x="65.6" y="634.2">–6</text>
<text class="t" text-anchor="middle" x="203" y="680" font-size="19.2"><tspan font-style="italic">B</tspan><tspan dx="-1.9"> (T)</tspan></text>
<text class="t" text-anchor="middle" transform="translate(21.8,497.3) rotate(-90)">Δ<tspan font-style="italic">v</tspan>/<tspan font-style="italic">v</tspan><tspan font-size="13.5" dy="3.8">0</tspan><tspan dy="-3.8"> (10</tspan><tspan font-size="13.5" dy="-6.8">4</tspan><tspan dy="6.8">)</tspan></text>
<text class="p" x="82" y="397">b</text>
<g clip-path="url(#cc)">
<path class="c" stroke="#f9b942" stroke-width="4.1" d="M348.3,630.9 348.8,630.4 349.3,630.6 349.8,632.5 350.3,630.9 350.8,629.2 351.3,632.1 351.8,628.9 352.3,627.9 352.8,631.7 353.3,629.7 353.8,630.7 354.3,629.9 354.8,629.0 355.3,628.5 355.8,627.8 356.3,629.2 356.8,624.9 357.3,624.0 357.8,626.5 358.3,625.5 358.8,627.5 359.3,625.6 359.8,626.7 360.3,627.3 360.8,625.2 361.3,624.6 361.8,626.1 362.3,624.1 362.8,625.0 363.3,624.4 363.8,622.8 364.3,625.7 364.8,623.0 365.3,625.7 365.8,624.8 366.3,623.1 366.8,623.6 367.3,624.4 367.8,623.6 368.3,626.1 368.8,621.6 369.3,623.8 369.8,619.8 370.3,621.2 370.8,623.1 371.3,620.1 371.8,622.4 372.3,620.9 372.8,620.4 373.3,620.6 373.8,621.1 374.3,620.9 374.8,620.4 375.3,620.3 375.8,617.6 376.3,621.9 376.8,622.7 377.3,620.1 377.8,619.6 378.3,618.8 378.8,620.4 379.3,620.9 379.8,619.2 380.3,620.4 380.8,620.9 381.3,620.1 381.8,619.0 382.3,618.4 382.8,617.5 383.3,617.6 383.8,617.7 384.3,616.6 384.8,617.5 385.3,618.0 385.8,617.5 386.3,612.9 386.8,613.3 387.3,616.7 387.8,616.2 388.3,616.8 388.8,614.3 389.3,615.5 389.8,615.9 390.3,615.4 390.8,614.3 391.3,614.6 391.8,615.4 392.3,614.6 392.8,615.4 393.3,610.8 393.8,612.4 394.3,614.7 394.8,611.8 395.3,613.2 395.8,614.5 396.3,610.7 396.8,611.4 397.3,612.8 397.8,608.8 398.3,607.6 398.8,611.5 399.3,609.6 399.8,609.7 400.3,609.7 400.8,610.2 401.3,608.3 401.8,609.8 402.3,609.8 402.8,609.1 403.3,610.1 403.8,608.8 404.3,608.3 404.8,612.0 405.3,606.0 405.8,607.0 406.3,606.6 406.8,606.8 407.3,606.8 407.8,606.1 408.3,608.6 408.8,605.4 409.3,604.8 409.8,606.4 410.3,605.6 410.8,605.0 411.3,606.2 411.8,605.1 412.3,605.8 412.8,603.0 413.3,605.1 413.8,604.0 414.3,603.3 414.8,601.7 415.3,603.0 415.8,601.6 416.3,604.0 416.8,603.3 417.3,603.3 417.8,605.7 418.3,603.1 418.8,599.8 419.3,602.8 419.8,602.0 420.3,601.7 420.8,600.2 421.3,601.2 421.8,596.7 422.3,598.7 422.8,600.5 423.3,600.2 423.8,601.1 424.3,599.0 424.8,599.1 425.3,600.6 425.8,599.7 426.3,597.2 426.8,600.4 427.3,597.5 427.8,599.7 428.3,598.9 428.8,599.0 429.3,598.9 429.8,596.5 430.3,598.5 430.8,597.5 431.3,597.8 431.8,597.6 432.3,596.7 432.8,597.3 433.3,596.7 433.8,595.4 434.3,597.2 434.8,595.7 435.3,594.5 435.8,596.3 436.3,596.4 436.8,594.2 437.3,596.4 437.8,596.0 438.3,596.7 438.8,596.2 439.3,597.1 439.8,596.3 440.3,592.8 440.8,595.1 441.3,595.0 441.8,595.4 442.3,596.3 442.8,595.3 443.3,596.3 443.8,595.3 444.3,593.4 444.8,593.0 445.3,594.7 445.8,594.0 446.3,591.1 446.8,591.6 447.3,595.4 447.8,594.1 448.3,591.8 448.8,594.1 449.3,594.5 449.8,593.8 450.3,592.7 450.8,592.2 451.3,591.0 451.8,590.8 452.3,591.3 452.8,594.9 453.3,594.9 453.8,591.7 454.3,590.4 454.8,592.4 455.3,592.3 455.8,592.5 456.3,590.4 456.8,591.2 457.3,590.4 457.8,591.1 458.3,589.0 458.8,591.4 459.3,589.8 459.8,589.9 460.3,590.2 460.8,589.9 461.3,589.5 461.8,589.4 462.3,589.3 462.8,588.8 463.3,588.4 463.8,588.6 464.3,591.0 464.8,590.0 465.3,588.5 465.8,587.4 466.3,590.5 466.8,588.7 467.3,589.2 467.8,590.1 468.3,585.8 468.8,587.7 469.3,588.8 469.8,590.2 470.3,588.3 470.8,588.3 471.3,587.7 471.8,587.9 472.3,588.4 472.8,587.1 473.3,587.0 473.8,586.3 474.3,587.4 474.8,588.0 475.3,585.7 475.8,585.4 476.3,587.3 476.8,586.5 477.3,587.6 477.8,586.9 478.3,586.0 478.8,587.1 479.3,585.8 479.8,587.1 480.3,584.4 480.8,586.1 481.3,585.9 481.8,584.5 482.3,585.3 482.8,583.5 483.3,583.4 483.8,583.5 484.3,586.8 484.8,582.7 485.3,584.8 485.8,583.2 486.3,584.7 486.8,584.0 487.3,583.5 487.8,585.9 488.3,585.3 488.8,581.0 489.3,582.6 489.8,582.3 490.3,580.2 490.8,582.3 491.3,582.2 491.8,581.7 492.3,582.2 492.8,583.3 493.3,580.9 493.8,582.7 494.3,583.8 494.8,577.3 495.3,579.9 495.8,581.6 496.3,580.7 496.8,579.9 497.3,582.6 497.8,581.8 498.3,577.7 498.8,580.7 499.3,579.0 499.8,579.2 500.3,577.3 500.8,578.6 501.3,577.9 501.8,576.1 502.3,576.7 502.8,579.4 503.3,579.6 503.8,575.8 504.3,578.3 504.8,576.5 505.3,576.3 505.8,577.4 506.3,578.5 506.8,577.2 507.3,574.9 507.8,575.5 508.3,575.5 508.8,576.1 509.3,574.2 509.8,574.5 510.3,575.0 510.8,575.3 511.3,572.3 511.8,576.6 512.3,574.8 512.8,574.6 513.3,572.7 513.8,573.4 514.3,575.5 514.8,571.7 515.3,570.1 515.8,573.0 516.3,572.5 516.8,572.0 517.3,570.3 517.8,572.2 518.3,571.7 518.8,565.7 519.3,570.7 519.8,570.9 520.3,569.3 520.8,567.3 521.3,570.0 521.8,572.8 522.3,569.8 522.8,572.7 523.3,570.5 523.8,569.8 524.3,569.4 524.8,571.9 525.3,567.6 525.8,568.3 526.3,568.1 526.8,568.3 527.3,568.7 527.8,566.6 528.3,566.3 528.8,569.7 529.3,567.1 529.8,567.0 530.3,566.3 530.8,567.0 531.3,565.6 531.8,567.6 532.3,567.8 532.8,565.8 533.3,566.9 533.8,565.2 534.3,564.4 534.8,566.8 535.3,565.1 535.8,564.4 536.3,567.7 536.8,564.8 537.3,565.7 537.8,566.4 538.3,562.5 538.8,563.7 539.3,565.2 539.8,563.2 540.3,563.0 540.8,562.8 541.3,562.3 541.8,562.0 542.3,562.2 542.8,562.0 543.3,563.5 543.8,562.2 544.3,563.7 544.8,562.1 545.3,564.4 545.8,561.6 546.3,563.6 546.8,561.7 547.3,563.8 547.8,560.7 548.3,560.6 548.8,561.5 549.3,558.9 549.8,561.6 550.3,559.4 550.8,559.8 551.3,560.6 551.8,559.8 552.3,558.3 552.8,557.5 553.3,556.6 553.8,557.2 554.3,557.3 554.8,557.6 555.3,558.9 555.8,556.8 556.3,555.6 556.8,556.8 557.3,558.8 557.8,554.5 558.3,556.4 558.8,556.8 559.3,558.3 559.8,558.2 560.3,555.2 560.8,556.2 561.3,554.2 561.8,555.1 562.3,556.2 562.8,551.0 563.3,552.3 563.8,551.6 564.3,551.6 564.8,553.6 565.3,553.6 565.8,555.2 566.3,554.0 566.8,551.8 567.3,550.4 567.8,551.5 568.3,551.5 568.8,549.9 569.3,551.2 569.8,549.4 570.3,549.6 570.8,549.6 571.3,548.9 571.8,548.7 572.3,550.2 572.8,549.6 573.3,547.7 573.8,550.3 574.3,549.2 574.8,548.9 575.3,547.7 575.8,546.2 576.3,544.8 576.8,544.2 577.3,543.0 577.8,544.7 578.3,542.9 578.8,544.8 579.3,544.7 579.8,543.2 580.3,543.0 580.8,544.0 581.3,544.5 581.8,543.4 582.3,545.2 582.8,541.3 583.3,541.2 583.8,540.5 584.3,540.9 584.8,541.5 585.3,541.7 585.8,540.5 586.3,542.2 586.8,537.4 587.3,539.2 587.8,538.7 588.3,536.4 588.8,534.7 589.3,536.2 589.8,536.9 590.3,535.5 590.8,535.0 591.3,534.0 591.8,533.2 592.3,532.8 592.8,533.8 593.3,534.7 593.8,533.5 594.3,531.8 594.8,532.9 595.3,533.4 595.8,529.6 596.3,532.3 596.8,530.4 597.3,529.8 597.8,527.7 598.3,526.8 598.8,528.3 599.3,527.9 599.8,527.7 600.3,526.7 600.8,527.6"/>
<path class="c" stroke="#c9b95c" stroke-width="4.1" d="M348.3,587.0 348.8,587.2 349.3,587.8 349.8,586.7 350.3,584.1 350.8,585.8 351.3,586.0 351.8,586.6 352.3,588.9 352.8,587.7 353.3,586.1 353.8,584.7 354.3,586.1 354.8,584.3 355.3,585.4 355.8,584.2 356.3,585.3 356.8,583.2 357.3,583.9 357.8,583.5 358.3,581.6 358.8,583.1 359.3,582.2 359.8,582.3 360.3,581.9 360.8,582.0 361.3,580.3 361.8,582.9 362.3,582.2 362.8,583.0 363.3,583.2 363.8,582.3 364.3,580.8 364.8,582.2 365.3,579.6 365.8,579.5 366.3,576.6 366.8,579.0 367.3,579.3 367.8,580.6 368.3,580.9 368.8,580.9 369.3,578.8 369.8,578.2 370.3,578.5 370.8,577.0 371.3,577.5 371.8,578.1 372.3,575.4 372.8,575.9 373.3,578.4 373.8,577.1 374.3,579.4 374.8,577.7 375.3,576.8 375.8,578.3 376.3,576.8 376.8,577.6 377.3,576.1 377.8,575.8 378.3,576.1 378.8,575.4 379.3,575.8 379.8,574.8 380.3,575.6 380.8,575.5 381.3,575.2 381.8,572.3 382.3,575.3 382.8,571.7 383.3,573.3 383.8,573.3 384.3,574.8 384.8,572.9 385.3,573.9 385.8,576.3 386.3,575.3 386.8,572.3 387.3,572.6 387.8,571.7 388.3,569.8 388.8,574.5 389.3,572.1 389.8,572.2 390.3,572.2 390.8,569.7 391.3,572.4 391.8,570.9 392.3,569.0 392.8,571.7 393.3,571.0 393.8,569.9 394.3,570.9 394.8,572.9 395.3,571.8 395.8,570.9 396.3,570.2 396.8,572.0 397.3,568.6 397.8,566.3 398.3,570.1 398.8,568.0 399.3,565.6 399.8,565.8 400.3,565.4 400.8,564.9 401.3,566.7 401.8,566.9 402.3,569.6 402.8,566.7 403.3,565.9 403.8,565.8 404.3,565.7 404.8,566.2 405.3,566.5 405.8,562.6 406.3,563.1 406.8,564.6 407.3,566.5 407.8,564.0 408.3,566.1 408.8,564.2 409.3,563.9 409.8,563.2 410.3,565.1 410.8,562.5 411.3,563.3 411.8,563.9 412.3,564.2 412.8,562.2 413.3,563.2 413.8,564.3 414.3,563.0 414.8,561.9 415.3,561.9 415.8,561.6 416.3,560.2 416.8,558.9 417.3,558.9 417.8,559.5 418.3,557.7 418.8,563.6 419.3,560.9 419.8,558.7 420.3,559.1 420.8,561.6 421.3,558.2 421.8,558.1 422.3,560.3 422.8,558.1 423.3,559.2 423.8,558.7 424.3,557.9 424.8,557.1 425.3,558.1 425.8,557.2 426.3,557.4 426.8,555.8 427.3,557.6 427.8,555.4 428.3,555.5 428.8,553.8 429.3,553.2 429.8,556.4 430.3,554.2 430.8,553.3 431.3,554.3 431.8,555.7 432.3,553.7 432.8,553.8 433.3,554.6 433.8,554.6 434.3,554.0 434.8,551.2 435.3,554.2 435.8,551.7 436.3,554.3 436.8,551.3 437.3,552.5 437.8,552.0 438.3,553.0 438.8,555.6 439.3,551.8 439.8,553.6 440.3,552.0 440.8,551.1 441.3,552.7 441.8,551.6 442.3,551.3 442.8,550.4 443.3,551.6 443.8,555.7 444.3,550.4 444.8,551.0 445.3,550.0 445.8,555.0 446.3,548.9 446.8,549.9 447.3,547.8 447.8,551.0 448.3,550.2 448.8,550.7 449.3,549.8 449.8,551.4 450.3,551.3 450.8,550.4 451.3,545.0 451.8,547.1 452.3,548.3 452.8,549.3 453.3,545.2 453.8,550.9 454.3,548.9 454.8,550.4 455.3,546.6 455.8,546.8 456.3,546.6 456.8,547.0 457.3,547.1 457.8,545.7 458.3,549.4 458.8,548.1 459.3,545.9 459.8,544.5 460.3,548.5 460.8,544.3 461.3,545.6 461.8,544.7 462.3,544.9 462.8,546.6 463.3,547.0 463.8,546.5 464.3,545.0 464.8,547.7 465.3,547.3 465.8,547.0 466.3,548.8 466.8,544.0 467.3,544.4 467.8,543.7 468.3,543.6 468.8,545.4 469.3,544.3 469.8,543.5 470.3,546.0 470.8,544.3 471.3,543.9 471.8,544.2 472.3,542.4 472.8,543.7 473.3,543.3 473.8,543.9 474.3,544.9 474.8,544.9 475.3,543.4 475.8,546.4 476.3,542.4 476.8,544.7 477.3,543.8 477.8,543.3 478.3,542.3 478.8,542.6 479.3,544.4 479.8,541.9 480.3,543.8 480.8,541.4 481.3,541.1 481.8,543.8 482.3,542.8 482.8,546.2 483.3,540.8 483.8,542.5 484.3,542.5 484.8,542.3 485.3,541.6 485.8,540.5 486.3,543.5 486.8,543.7 487.3,542.9 487.8,542.4 488.3,543.6 488.8,543.2 489.3,542.6 489.8,540.8 490.3,542.1 490.8,539.4 491.3,541.3 491.8,539.6 492.3,541.4 492.8,542.6 493.3,541.3 493.8,542.8 494.3,541.5 494.8,543.8 495.3,541.6 495.8,544.7 496.3,541.7 496.8,540.6 497.3,539.1 497.8,539.7 498.3,542.4 498.8,539.1 499.3,538.2 499.8,540.7 500.3,542.0 500.8,538.9 501.3,537.9 501.8,538.3 502.3,538.0 502.8,540.2 503.3,541.7 503.8,539.5 504.3,538.8 504.8,537.9 505.3,537.5 505.8,539.8 506.3,537.5 506.8,540.6 507.3,539.1 507.8,538.0 508.3,540.7 508.8,536.5 509.3,539.2 509.8,537.8 510.3,538.2 510.8,537.9 511.3,536.8 511.8,539.6 512.3,539.5 512.8,534.5 513.3,536.9 513.8,536.1 514.3,536.3 514.8,537.3 515.3,536.6 515.8,536.3 516.3,538.3 516.8,535.9 517.3,536.8 517.8,537.1 518.3,536.3 518.8,536.1 519.3,537.8 519.8,534.1 520.3,538.4 520.8,533.4 521.3,532.8 521.8,535.2 522.3,533.9 522.8,536.2 523.3,535.0 523.8,533.0 524.3,533.6 524.8,534.3 525.3,537.9 525.8,534.8 526.3,535.9 526.8,536.2 527.3,535.8 527.8,535.5 528.3,534.2 528.8,534.9 529.3,535.1 529.8,532.5 530.3,534.0 530.8,532.0 531.3,531.1 531.8,533.3 532.3,534.0 532.8,534.5 533.3,532.4 533.8,530.9 534.3,531.9 534.8,532.5 535.3,532.7 535.8,532.9 536.3,531.2 536.8,532.3 537.3,529.7 537.8,531.4 538.3,531.9 538.8,531.7 539.3,531.9 539.8,529.5 540.3,531.1 540.8,529.1 541.3,529.4 541.8,528.1 542.3,529.6 542.8,528.1 543.3,527.4 543.8,528.7 544.3,526.9 544.8,527.8 545.3,527.4 545.8,527.3 546.3,526.1 546.8,525.1 547.3,526.6 547.8,526.6 548.3,528.0 548.8,527.3 549.3,525.6 549.8,525.5 550.3,520.9 550.8,522.8 551.3,520.7 551.8,522.7 552.3,521.9 552.8,521.7 553.3,522.1 553.8,521.0 554.3,519.9 554.8,518.9 555.3,520.4 555.8,519.5 556.3,520.8 556.8,518.4 557.3,517.8 557.8,516.4 558.3,517.7 558.8,514.6 559.3,512.0 559.8,513.5 560.3,513.3 560.8,514.7 561.3,514.5 561.8,515.9 562.3,514.1 562.8,513.9 563.3,513.3 563.8,512.4 564.3,511.8 564.8,509.9 565.3,510.4 565.8,509.3 566.3,509.6 566.8,507.6 567.3,509.5 567.8,507.5 568.3,508.6 568.8,508.6 569.3,507.9 569.8,505.2 570.3,507.0 570.8,502.6 571.3,503.9 571.8,502.1 572.3,503.6 572.8,501.5 573.3,502.4 573.8,501.0 574.3,502.7 574.8,503.1 575.3,501.1 575.8,500.5 576.3,499.3 576.8,498.1 577.3,497.7 577.8,496.1 578.3,496.5 578.8,498.4 579.3,496.4 579.8,497.2 580.3,495.0 580.8,498.1 581.3,496.7 581.8,493.7 582.3,495.3 582.8,493.0 583.3,493.5 583.8,491.9 584.3,491.6 584.8,493.4 585.3,491.1 585.8,490.8 586.3,490.2 586.8,489.0 587.3,488.2 587.8,488.7 588.3,485.7 588.8,487.6 589.3,488.2 589.8,486.0 590.3,488.4 590.8,484.8 591.3,483.6 591.8,485.2 592.3,483.5 592.8,484.2 593.3,482.5 593.8,483.5 594.3,483.1 594.8,483.3 595.3,483.0 595.8,479.9 596.3,479.4 596.8,480.2 597.3,478.9 597.8,477.9 598.3,475.5 598.8,476.3 599.3,476.0 599.8,475.5 600.3,472.6 600.8,471.6"/>
<path class="c" stroke="#a3be6b" stroke-width="4.1" d="M348.3,531.9 348.8,531.6 349.3,530.9 349.8,529.7 350.3,531.1 350.8,532.4 351.3,530.7 351.8,528.0 352.3,529.2 352.8,531.9 353.3,527.9 353.8,528.7 354.3,526.4 354.8,527.4 355.3,527.1 355.8,528.7 356.3,528.1 356.8,527.4 357.3,528.3 357.8,525.7 358.3,528.3 358.8,526.0 359.3,527.4 359.8,528.7 360.3,525.6 360.8,526.8 361.3,524.7 361.8,524.8 362.3,524.3 362.8,523.2 363.3,524.1 363.8,525.3 364.3,523.1 364.8,523.7 365.3,523.9 365.8,522.4 366.3,524.2 366.8,523.2 367.3,522.4 367.8,521.5 368.3,521.9 368.8,523.5 369.3,520.9 369.8,522.9 370.3,522.5 370.8,522.1 371.3,519.7 371.8,521.6 372.3,523.4 372.8,521.2 373.3,520.4 373.8,520.3 374.3,522.1 374.8,519.1 375.3,522.4 375.8,521.2 376.3,519.2 376.8,521.3 377.3,516.8 377.8,518.2 378.3,519.8 378.8,520.8 379.3,517.8 379.8,517.2 380.3,518.8 380.8,518.9 381.3,517.5 381.8,517.8 382.3,520.4 382.8,517.3 383.3,516.6 383.8,517.2 384.3,519.2 384.8,517.8 385.3,516.4 385.8,514.6 386.3,516.2 386.8,520.0 387.3,516.7 387.8,517.6 388.3,513.5 388.8,514.4 389.3,514.6 389.8,517.2 390.3,514.5 390.8,515.3 391.3,514.6 391.8,511.5 392.3,516.8 392.8,512.7 393.3,514.4 393.8,513.1 394.3,513.9 394.8,513.1 395.3,512.4 395.8,515.1 396.3,511.4 396.8,513.1 397.3,514.0 397.8,511.6 398.3,511.6 398.8,515.1 399.3,514.1 399.8,512.3 400.3,513.1 400.8,510.8 401.3,512.0 401.8,509.5 402.3,512.6 402.8,512.1 403.3,511.4 403.8,510.6 404.3,510.8 404.8,509.4 405.3,510.8 405.8,512.1 406.3,511.4 406.8,509.2 407.3,511.0 407.8,508.3 408.3,508.1 408.8,507.9 409.3,508.1 409.8,508.2 410.3,509.4 410.8,510.1 411.3,509.0 411.8,507.5 412.3,509.7 412.8,509.1 413.3,507.6 413.8,506.8 414.3,507.5 414.8,509.9 415.3,506.1 415.8,506.0 416.3,507.0 416.8,504.6 417.3,504.0 417.8,505.7 418.3,507.1 418.8,506.0 419.3,506.2 419.8,504.6 420.3,508.1 420.8,505.0 421.3,507.8 421.8,504.6 422.3,507.5 422.8,507.1 423.3,503.9 423.8,505.6 424.3,505.0 424.8,505.8 425.3,503.7 425.8,505.4 426.3,504.1 426.8,502.2 427.3,504.1 427.8,504.8 428.3,502.9 428.8,502.8 429.3,504.0 429.8,504.9 430.3,500.9 430.8,503.5 431.3,505.0 431.8,501.0 432.3,502.4 432.8,502.1 433.3,501.7 433.8,502.3 434.3,499.0 434.8,499.9 435.3,499.3 435.8,500.9 436.3,502.7 436.8,499.2 437.3,499.4 437.8,498.9 438.3,500.5 438.8,498.7 439.3,498.3 439.8,498.3 440.3,499.2 440.8,497.8 441.3,496.4 441.8,500.7 442.3,499.3 442.8,498.5 443.3,498.5 443.8,499.7 444.3,497.6 444.8,498.9 445.3,498.0 445.8,499.7 446.3,494.4 446.8,495.1 447.3,498.3 447.8,494.6 448.3,495.3 448.8,494.7 449.3,493.1 449.8,495.5 450.3,496.2 450.8,495.6 451.3,493.8 451.8,494.8 452.3,497.0 452.8,494.1 453.3,492.9 453.8,495.1 454.3,494.0 454.8,492.0 455.3,493.5 455.8,495.7 456.3,494.0 456.8,494.4 457.3,495.0 457.8,493.3 458.3,491.8 458.8,493.3 459.3,492.4 459.8,492.9 460.3,492.5 460.8,492.3 461.3,491.3 461.8,493.1 462.3,495.0 462.8,491.5 463.3,494.2 463.8,493.7 464.3,492.3 464.8,491.7 465.3,493.2 465.8,491.5 466.3,490.5 466.8,490.2 467.3,493.4 467.8,489.0 468.3,492.1 468.8,493.2 469.3,491.1 469.8,493.4 470.3,490.9 470.8,491.4 471.3,491.9 471.8,490.3 472.3,490.9 472.8,491.4 473.3,490.1 473.8,491.7 474.3,492.7 474.8,490.1 475.3,490.6 475.8,490.7 476.3,489.1 476.8,490.6 477.3,491.4 477.8,489.6 478.3,490.7 478.8,489.9 479.3,490.7 479.8,491.2 480.3,490.2 480.8,490.1 481.3,489.1 481.8,491.0 482.3,490.4 482.8,489.0 483.3,489.9 483.8,491.8 484.3,488.0 484.8,489.4 485.3,491.1 485.8,487.8 486.3,488.8 486.8,485.4 487.3,489.5 487.8,487.9 488.3,488.4 488.8,487.8 489.3,489.3 489.8,489.9 490.3,489.2 490.8,487.6 491.3,487.7 491.8,487.7 492.3,487.2 492.8,486.4 493.3,485.6 493.8,487.3 494.3,485.6 494.8,486.3 495.3,484.6 495.8,484.5 496.3,486.4 496.8,486.3 497.3,489.6 497.8,486.2 498.3,487.2 498.8,486.8 499.3,486.7 499.8,486.3 500.3,487.7 500.8,487.3 501.3,484.4 501.8,486.9 502.3,485.6 502.8,483.9 503.3,485.0 503.8,487.1 504.3,487.6 504.8,486.5 505.3,488.1 505.8,486.8 506.3,483.0 506.8,483.2 507.3,484.5 507.8,482.5 508.3,483.0 508.8,484.6 509.3,484.0 509.8,484.0 510.3,483.0 510.8,486.7 511.3,481.9 511.8,483.0 512.3,485.0 512.8,483.4 513.3,482.7 513.8,482.2 514.3,485.0 514.8,484.0 515.3,479.8 515.8,480.2 516.3,482.4 516.8,484.0 517.3,481.4 517.8,483.3 518.3,479.9 518.8,479.7 519.3,480.1 519.8,482.3 520.3,482.0 520.8,482.2 521.3,478.9 521.8,482.8 522.3,479.6 522.8,483.2 523.3,479.7 523.8,477.2 524.3,479.5 524.8,478.5 525.3,481.6 525.8,479.5 526.3,480.9 526.8,478.4 527.3,478.1 527.8,479.2 528.3,478.0 528.8,476.1 529.3,477.5 529.8,478.0 530.3,476.0 530.8,475.5 531.3,475.2 531.8,475.7 532.3,474.4 532.8,474.7 533.3,475.5 533.8,473.9 534.3,474.1 534.8,474.5 535.3,476.5 535.8,473.5 536.3,473.0 536.8,472.1 537.3,473.0 537.8,472.6 538.3,470.4 538.8,471.8 539.3,470.7 539.8,471.1 540.3,469.4 540.8,468.7 541.3,467.3 541.8,469.3 542.3,469.0 542.8,465.6 543.3,465.3 543.8,464.7 544.3,463.5 544.8,463.7 545.3,462.0 545.8,461.7 546.3,463.5 546.8,458.9 547.3,461.4 547.8,458.9 548.3,459.3 548.8,457.9 549.3,458.6 549.8,457.0 550.3,457.4 550.8,454.8 551.3,454.3 551.8,455.6 552.3,456.2 552.8,454.2 553.3,457.4 553.8,453.3 554.3,454.5 554.8,450.2 555.3,450.5 555.8,449.7 556.3,448.4 556.8,446.9 557.3,447.9 557.8,446.2 558.3,449.4 558.8,447.2 559.3,446.6 559.8,444.1 560.3,448.0 560.8,447.5 561.3,442.9 561.8,441.2 562.3,440.6 562.8,442.1 563.3,438.7 563.8,438.8 564.3,437.4 564.8,439.4 565.3,439.3 565.8,436.0 566.3,438.0 566.8,435.9 567.3,434.3 567.8,435.8 568.3,436.2 568.8,436.1 569.3,434.2 569.8,434.6 570.3,432.3 570.8,431.9 571.3,433.4 571.8,430.4 572.3,428.6 572.8,427.8 573.3,428.0 573.8,426.3 574.3,427.6 574.8,426.1 575.3,426.8 575.8,424.4 576.3,425.1 576.8,425.5 577.3,426.5 577.8,426.2 578.3,426.3 578.8,423.3 579.3,421.0 579.8,423.3 580.3,422.5 580.8,421.1 581.3,421.9 581.8,423.2 582.3,420.2 582.8,418.7 583.3,418.8 583.8,416.3 584.3,419.3 584.8,414.3 585.3,414.3 585.8,416.6 586.3,414.8 586.8,413.0 587.3,415.1 587.8,414.8 588.3,410.9 588.8,413.3 589.3,413.4 589.8,413.8 590.3,411.1 590.8,411.4 591.3,409.8 591.8,410.4 592.3,411.3 592.8,408.9 593.3,406.6 593.8,406.5 594.3,409.3 594.8,404.9 595.3,405.7 595.8,405.3 596.3,407.0 596.8,403.6 597.3,404.0 597.8,404.2 598.3,404.3 598.8,404.5 599.3,401.1 599.8,400.3 600.3,399.7 600.8,402.8 601.3,400.8 601.8,401.6 602.3,401.2 602.8,398.2 603.3,397.8 603.8,397.8 604.3,400.7 604.8,397.9 605.3,398.0 605.8,395.7 606.3,400.5 606.8,396.9 607.3,395.0 607.8,395.7"/>
<path class="c" stroke="#69be86" stroke-width="4.1" d="M348.3,496.3 348.8,494.5 349.3,498.0 349.8,495.9 350.3,496.5 350.8,496.6 351.3,493.7 351.8,495.4 352.3,494.0 352.8,494.0 353.3,495.6 353.8,492.9 354.3,493.9 354.8,494.2 355.3,495.5 355.8,494.3 356.3,494.4 356.8,492.4 357.3,491.5 357.8,492.5 358.3,494.5 358.8,492.9 359.3,491.5 359.8,491.3 360.3,494.1 360.8,492.2 361.3,489.9 361.8,489.7 362.3,494.1 362.8,492.5 363.3,491.8 363.8,491.7 364.3,491.6 364.8,491.2 365.3,490.4 365.8,487.6 366.3,488.8 366.8,488.6 367.3,491.1 367.8,490.1 368.3,488.4 368.8,488.4 369.3,488.6 369.8,491.2 370.3,489.6 370.8,486.9 371.3,489.6 371.8,486.6 372.3,489.3 372.8,488.8 373.3,486.8 373.8,487.6 374.3,487.0 374.8,488.3 375.3,488.5 375.8,484.2 376.3,485.8 376.8,487.3 377.3,486.1 377.8,486.6 378.3,486.7 378.8,486.5 379.3,487.2 379.8,484.6 380.3,482.2 380.8,485.0 381.3,483.1 381.8,482.1 382.3,484.1 382.8,483.2 383.3,484.2 383.8,481.1 384.3,484.7 384.8,483.7 385.3,483.4 385.8,482.2 386.3,481.5 386.8,483.6 387.3,482.9 387.8,481.2 388.3,479.7 388.8,481.4 389.3,480.1 389.8,481.6 390.3,479.7 390.8,481.0 391.3,481.7 391.8,480.4 392.3,482.0 392.8,479.3 393.3,481.3 393.8,479.2 394.3,478.1 394.8,478.4 395.3,478.5 395.8,478.2 396.3,479.9 396.8,478.2 397.3,478.3 397.8,478.5 398.3,477.3 398.8,476.4 399.3,478.7 399.8,479.6 400.3,476.7 400.8,478.9 401.3,476.6 401.8,477.1 402.3,475.6 402.8,474.7 403.3,474.3 403.8,474.7 404.3,474.5 404.8,478.1 405.3,474.0 405.8,475.4 406.3,475.4 406.8,471.8 407.3,471.4 407.8,474.6 408.3,471.9 408.8,473.1 409.3,470.3 409.8,471.9 410.3,472.5 410.8,473.7 411.3,475.0 411.8,472.0 412.3,474.5 412.8,472.8 413.3,471.9 413.8,470.8 414.3,470.5 414.8,468.6 415.3,470.3 415.8,468.9 416.3,470.7 416.8,473.8 417.3,468.6 417.8,472.3 418.3,468.8 418.8,469.6 419.3,471.3 419.8,470.7 420.3,471.1 420.8,470.5 421.3,467.8 421.8,466.9 422.3,467.9 422.8,467.7 423.3,469.2 423.8,464.4 424.3,468.2 424.8,467.6 425.3,467.0 425.8,466.0 426.3,465.8 426.8,465.2 427.3,467.7 427.8,466.1 428.3,465.3 428.8,466.0 429.3,465.8 429.8,465.7 430.3,464.9 430.8,464.4 431.3,463.5 431.8,464.2 432.3,463.9 432.8,463.5 433.3,464.3 433.8,465.9 434.3,465.0 434.8,464.0 435.3,465.2 435.8,463.9 436.3,465.5 436.8,463.7 437.3,464.7 437.8,463.3 438.3,462.3 438.8,461.4 439.3,463.1 439.8,463.5 440.3,461.8 440.8,462.7 441.3,462.0 441.8,462.5 442.3,460.4 442.8,462.2 443.3,464.6 443.8,463.0 444.3,461.7 444.8,463.2 445.3,461.1 445.8,462.4 446.3,461.2 446.8,459.9 447.3,460.8 447.8,463.4 448.3,459.3 448.8,458.6 449.3,461.9 449.8,458.6 450.3,459.3 450.8,459.5 451.3,458.3 451.8,459.7 452.3,457.7 452.8,457.5 453.3,458.7 453.8,459.7 454.3,460.5 454.8,458.3 455.3,459.2 455.8,459.7 456.3,459.2 456.8,459.7 457.3,458.8 457.8,456.6 458.3,458.9 458.8,456.8 459.3,458.6 459.8,457.2 460.3,457.5 460.8,458.0 461.3,456.7 461.8,457.8 462.3,456.8 462.8,456.4 463.3,458.4 463.8,457.3 464.3,455.9 464.8,457.8 465.3,457.3 465.8,456.5 466.3,455.2 466.8,455.6 467.3,458.2 467.8,455.6 468.3,455.9 468.8,457.2 469.3,454.6 469.8,456.9 470.3,452.8 470.8,455.2 471.3,453.4 471.8,455.9 472.3,455.7 472.8,454.1 473.3,454.6 473.8,458.2 474.3,455.1 474.8,455.1 475.3,452.6 475.8,453.2 476.3,454.6 476.8,453.9 477.3,455.1 477.8,455.5 478.3,453.2 478.8,455.6 479.3,455.0 479.8,455.1 480.3,455.6 480.8,457.1 481.3,453.8 481.8,454.5 482.3,454.9 482.8,452.5 483.3,454.6 483.8,452.2 484.3,452.5 484.8,451.8 485.3,453.1 485.8,455.6 486.3,455.2 486.8,453.1 487.3,453.4 487.8,453.8 488.3,451.0 488.8,452.0 489.3,452.1 489.8,450.3 490.3,451.6 490.8,451.1 491.3,451.4 491.8,451.1 492.3,448.7 492.8,452.2 493.3,451.1 493.8,452.1 494.3,451.5 494.8,449.1 495.3,450.9 495.8,445.9 496.3,447.0 496.8,446.6 497.3,447.4 497.8,444.7 498.3,445.2 498.8,444.2 499.3,445.7 499.8,442.0 500.3,439.5 500.8,439.5 501.3,439.4 501.8,440.3 502.3,435.7 502.8,435.8 503.3,438.7 503.8,435.2 504.3,434.3 504.8,434.5 505.3,433.2 505.8,432.3 506.3,433.5 506.8,431.9 507.3,434.6 507.8,429.7 508.3,433.1 508.8,431.2 509.3,434.3 509.8,430.3 510.3,430.8 510.8,432.0 511.3,430.1 511.8,429.1 512.3,430.2 512.8,430.5 513.3,431.9 513.8,429.1 514.3,429.6 514.8,427.7 515.3,429.2 515.8,430.4 516.3,428.8 516.8,428.1 517.3,427.9 517.8,430.2 518.3,428.9 518.8,428.0 519.3,426.6 519.8,424.7 520.3,428.1 520.8,426.5 521.3,427.6 521.8,427.6 522.3,426.2 522.8,425.3 523.3,428.3 523.8,424.2 524.3,423.4 524.8,428.2 525.3,425.0 525.8,425.7 526.3,427.2 526.8,428.3 527.3,424.6 527.8,426.7 528.3,428.9 528.8,428.6 529.3,428.0 529.8,430.6 530.3,427.6 530.8,431.7 531.3,432.2 531.8,432.9 532.3,432.7 532.8,434.1 533.3,435.6 533.8,435.5 534.3,436.9 534.8,436.1 535.3,435.8 535.8,436.1 536.3,437.6 536.8,437.7 537.3,440.0 537.8,437.5 538.3,440.4 538.8,437.0 539.3,436.6 539.8,436.8 540.3,435.0 540.8,438.7 541.3,437.7 541.8,437.1 542.3,436.8 542.8,435.2 543.3,431.5 543.8,434.6 544.3,432.9 544.8,434.5 545.3,432.5 545.8,431.7 546.3,430.7 546.8,432.9 547.3,433.0 547.8,429.9 548.3,431.2 548.8,430.5 549.3,429.5 549.8,429.0 550.3,430.0 550.8,429.6 551.3,428.6 551.8,428.1 552.3,428.3 552.8,426.3 553.3,426.6 553.8,426.3 554.3,424.2 554.8,426.3 555.3,427.2 555.8,426.4 556.3,423.1 556.8,421.5 557.3,420.1 557.8,421.5 558.3,420.1 558.8,421.1 559.3,417.8 559.8,419.0 560.3,417.7 560.8,418.4 561.3,417.0 561.8,413.9 562.3,416.7 562.8,414.9 563.3,414.3 563.8,413.6 564.3,411.8 564.8,411.9 565.3,412.7 565.8,412.6 566.3,409.8 566.8,408.6 567.3,409.3 567.8,406.9 568.3,405.6 568.8,404.8 569.3,404.9 569.8,402.4 570.3,403.6 570.8,403.5 571.3,402.4 571.8,403.9 572.3,399.3 572.8,400.4 573.3,400.0 573.8,399.6 574.3,400.8 574.8,395.3 575.3,397.2 575.8,396.0 576.3,394.4 576.8,395.0 577.3,395.5 577.8,394.4 578.3,396.3 578.8,391.2 579.3,392.9 579.8,391.8 580.3,391.3 580.8,391.4 581.3,390.0 581.8,390.4 582.3,389.2 582.8,388.5 583.3,387.8 583.8,388.0 584.3,388.6 584.8,386.3 585.3,386.8 585.8,385.3 586.3,385.7 586.8,387.0 587.3,383.7 587.8,384.7 588.3,385.4 588.8,384.4 589.3,383.5 589.8,384.3 590.3,381.7 590.8,382.1 591.3,383.6 591.8,379.8 592.3,381.0 592.8,380.8 593.3,380.6 593.8,379.9 594.3,378.0 594.8,379.2 595.3,377.8 595.8,378.7 596.3,378.0 596.8,379.1 597.3,378.1 597.8,378.4 598.3,375.7 598.8,374.5 599.3,373.9 599.8,373.7 600.3,371.5 600.8,369.9 601.3,369.3 601.8,372.4 602.3,370.7 602.8,370.9"/>
</g>
<rect class="f" x="348.8" y="369.0" width="259.40000000000003" height="259.0"/>
<path class="f" style="stroke-width:1.15" d="M444.9,369.0v3.4M444.9,628.0v-3.4M540.9,369.0v3.4M540.9,628.0v-3.4M348.8,387.3h3.4M608.2,387.3h-3.4M348.8,430.8h3.4M608.2,430.8h-3.4M348.8,474.2h3.4M608.2,474.2h-3.4M348.8,517.7h3.4M608.2,517.7h-3.4M348.8,561.1h3.4M608.2,561.1h-3.4M348.8,604.5h3.4M608.2,604.5h-3.4"/>
<text class="t" text-anchor="middle" x="349.0" y="651.7" font-size="19.2">30</text>
<text class="t" text-anchor="middle" x="445.1" y="651.7" font-size="19.2">40</text>
<text class="t" text-anchor="middle" x="541.1" y="651.7" font-size="19.2">50</text>
<text class="t" x="613.6" y="394.1">3</text>
<text class="t" x="613.6" y="437.6">2.5</text>
<text class="t" x="613.6" y="481.0">2</text>
<text class="t" x="613.6" y="524.5">1.5</text>
<text class="t" x="613.6" y="567.9">1</text>
<text class="t" x="613.6" y="611.3">0.5</text>
<text class="t" text-anchor="middle" x="480.3" y="680" font-size="19.2"><tspan font-style="italic">B</tspan><tspan dx="-1.9"> (T)</tspan></text>
<text class="t" text-anchor="middle" transform="translate(670.6,498) rotate(-90)">Δ<tspan font-style="italic">v</tspan>/<tspan font-style="italic">v</tspan><tspan font-size="13.5" dy="3.8">0</tspan><tspan dy="-3.8"> (10</tspan><tspan font-size="13.5" dy="-6.8">4</tspan><tspan dy="6.8">)</tspan></text>
<text class="p" x="362.7" y="396.6">c</text>
</svg></body></html>
